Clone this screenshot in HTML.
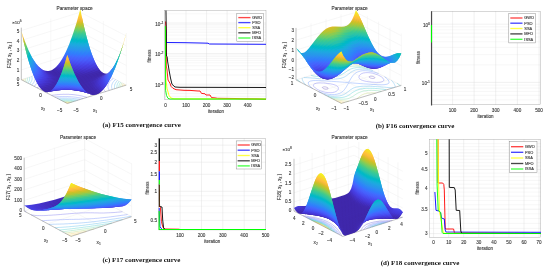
<!DOCTYPE html>
<html><head><meta charset="utf-8"><title>Convergence curves</title>
<style>
html,body{margin:0;padding:0;background:#fff}
svg{display:block;font-family:"Liberation Sans",sans-serif}
text{stroke:#3a3a3a;stroke-width:.12px}
.cap{stroke:none}

.cap{font-family:"Liberation Serif",serif;font-weight:bold;font-size:7px;fill:#111}
</style></head><body>
<svg width="550" height="273" viewBox="0 0 550 273">
<rect width="550" height="273" fill="#fff"/>
<defs><linearGradient id="P"><stop offset="0" stop-color="#3e26a8"/><stop offset="0.02" stop-color="#402ab4"/><stop offset="0.03" stop-color="#422ec0"/><stop offset="0.05" stop-color="#4332cb"/><stop offset="0.06" stop-color="#4537d5"/><stop offset="0.08" stop-color="#463cde"/><stop offset="0.1" stop-color="#4741e5"/><stop offset="0.11" stop-color="#4747eb"/><stop offset="0.13" stop-color="#484df0"/><stop offset="0.14" stop-color="#4852f4"/><stop offset="0.16" stop-color="#4758f8"/><stop offset="0.17" stop-color="#465efb"/><stop offset="0.19" stop-color="#4563fd"/><stop offset="0.21" stop-color="#4269fe"/><stop offset="0.22" stop-color="#3e6fff"/><stop offset="0.24" stop-color="#3875fe"/><stop offset="0.25" stop-color="#327cfc"/><stop offset="0.27" stop-color="#2f81fa"/><stop offset="0.29" stop-color="#2e87f7"/><stop offset="0.3" stop-color="#2d8cf3"/><stop offset="0.32" stop-color="#2b91ef"/><stop offset="0.33" stop-color="#2797eb"/><stop offset="0.35" stop-color="#259be8"/><stop offset="0.37" stop-color="#23a0e5"/><stop offset="0.38" stop-color="#20a5e3"/><stop offset="0.4" stop-color="#1ca9df"/><stop offset="0.41" stop-color="#18addb"/><stop offset="0.43" stop-color="#12b1d6"/><stop offset="0.44" stop-color="#08b5d0"/><stop offset="0.46" stop-color="#01b8ca"/><stop offset="0.48" stop-color="#02bac3"/><stop offset="0.49" stop-color="#0bbdbd"/><stop offset="0.51" stop-color="#19bfb6"/><stop offset="0.52" stop-color="#24c1ae"/><stop offset="0.54" stop-color="#2cc4a7"/><stop offset="0.56" stop-color="#31c69f"/><stop offset="0.57" stop-color="#37c897"/><stop offset="0.59" stop-color="#3fca8e"/><stop offset="0.6" stop-color="#4acb84"/><stop offset="0.62" stop-color="#57cc7a"/><stop offset="0.63" stop-color="#64cd6f"/><stop offset="0.65" stop-color="#72cd64"/><stop offset="0.67" stop-color="#81cc59"/><stop offset="0.68" stop-color="#8fcb4e"/><stop offset="0.7" stop-color="#9dc943"/><stop offset="0.71" stop-color="#abc739"/><stop offset="0.73" stop-color="#b9c431"/><stop offset="0.75" stop-color="#c5c22a"/><stop offset="0.76" stop-color="#d1bf27"/><stop offset="0.78" stop-color="#dcbd29"/><stop offset="0.79" stop-color="#e6bb2d"/><stop offset="0.81" stop-color="#f0ba36"/><stop offset="0.83" stop-color="#f8ba3d"/><stop offset="0.84" stop-color="#febe3c"/><stop offset="0.86" stop-color="#fec338"/><stop offset="0.87" stop-color="#fec934"/><stop offset="0.89" stop-color="#fccf30"/><stop offset="0.9" stop-color="#fad62d"/><stop offset="0.92" stop-color="#f7dc2a"/><stop offset="0.94" stop-color="#f5e327"/><stop offset="0.95" stop-color="#f5e924"/><stop offset="0.97" stop-color="#f6ef20"/><stop offset="0.98" stop-color="#f7f51b"/><stop offset="1" stop-color="#f9fb15"/></linearGradient><filter id="bl" filterUnits="userSpaceOnUse" x="0" y="0" width="550" height="273"><feGaussianBlur stdDeviation="0.3"/></filter></defs>
<line x1="67.3" y1="103.5" x2="21.3" y2="79.7" stroke="#e8e8e8" stroke-width="0.35"/>
<line x1="21.3" y1="79.7" x2="21.3" y2="27.7" stroke="#e8e8e8" stroke-width="0.35"/>
<line x1="96.8" y1="94.3" x2="50.8" y2="70.5" stroke="#e8e8e8" stroke-width="0.35"/>
<line x1="50.8" y1="70.5" x2="50.8" y2="18.5" stroke="#e8e8e8" stroke-width="0.35"/>
<line x1="126.3" y1="85.1" x2="80.3" y2="61.3" stroke="#e8e8e8" stroke-width="0.35"/>
<line x1="80.3" y1="61.3" x2="80.3" y2="9.3" stroke="#e8e8e8" stroke-width="0.35"/>
<line x1="67.3" y1="103.5" x2="126.3" y2="85.1" stroke="#e8e8e8" stroke-width="0.35"/>
<line x1="126.3" y1="85.1" x2="126.3" y2="33.1" stroke="#e8e8e8" stroke-width="0.35"/>
<line x1="44.3" y1="91.6" x2="103.3" y2="73.2" stroke="#e8e8e8" stroke-width="0.35"/>
<line x1="103.3" y1="73.2" x2="103.3" y2="21.2" stroke="#e8e8e8" stroke-width="0.35"/>
<line x1="21.3" y1="79.7" x2="80.3" y2="61.3" stroke="#e8e8e8" stroke-width="0.35"/>
<line x1="80.3" y1="61.3" x2="80.3" y2="9.3" stroke="#e8e8e8" stroke-width="0.35"/>
<line x1="21.3" y1="79.7" x2="80.3" y2="61.3" stroke="#e8e8e8" stroke-width="0.35"/>
<line x1="80.3" y1="61.3" x2="126.3" y2="85.1" stroke="#e8e8e8" stroke-width="0.35"/>
<line x1="21.3" y1="69.88" x2="80.3" y2="51.48" stroke="#e8e8e8" stroke-width="0.35"/>
<line x1="80.3" y1="51.48" x2="126.3" y2="75.28" stroke="#e8e8e8" stroke-width="0.35"/>
<line x1="21.3" y1="60.07" x2="80.3" y2="41.67" stroke="#e8e8e8" stroke-width="0.35"/>
<line x1="80.3" y1="41.67" x2="126.3" y2="65.47" stroke="#e8e8e8" stroke-width="0.35"/>
<line x1="21.3" y1="50.25" x2="80.3" y2="31.85" stroke="#e8e8e8" stroke-width="0.35"/>
<line x1="80.3" y1="31.85" x2="126.3" y2="55.65" stroke="#e8e8e8" stroke-width="0.35"/>
<line x1="21.3" y1="40.43" x2="80.3" y2="22.03" stroke="#e8e8e8" stroke-width="0.35"/>
<line x1="80.3" y1="22.03" x2="126.3" y2="45.83" stroke="#e8e8e8" stroke-width="0.35"/>
<line x1="21.3" y1="30.61" x2="80.3" y2="12.21" stroke="#e8e8e8" stroke-width="0.35"/>
<line x1="80.3" y1="12.21" x2="126.3" y2="36.01" stroke="#e8e8e8" stroke-width="0.35"/>
<g fill="none" stroke-width="0.4" opacity="0.75">
<polyline points="87,97.3 86.5,97.2 85.4,96.9 84.9,96.8 83.7,96.5 83.1,96.3 82.2,96.1 81.4,95.9 80.8,95.8 79.6,95.6 78.9,95.4 78.2,95.3 77.2,95.2 76.2,95 75.5,94.9 74.8,94.8 74,94.7 73,94.6 72,94.5 71.1,94.5 70.2,94.4 69.3,94.4 68.5,94.3 67.6,94.3 66.8,94.3 66,94.3 65.2,94.3 64.2,94.3 63.1,94.3 62.2,94.4 61.5,94.4 60.7,94.4 59.4,94.5 58.7,94.6 58,94.6 56.7,94.8 56.1,94.8 54.9,95 54.1,95.1 53.2,95.2 52.2,95.3 51.6,95.4" stroke="#4741e5"/>
<polyline points="110.4,76.9 109.7,77.2 109.3,77.5 108.6,77.9 108.2,78.2 107.7,78.5 107.2,78.9 106.8,79.1 106.2,79.6 105.9,79.8 105.5,80.1 105,80.6 104.7,80.9 104.5,81.1 104.1,81.5 103.8,82 103.5,82.3 103.3,82.6 103.1,82.9 103,83.2 102.8,83.5 102.7,83.9 102.6,84.2 102.5,84.6 102.4,85 102.4,85.4 102.4,85.8 102.4,86.2 102.5,86.5 102.5,86.8 102.6,87.1 102.8,87.6 102.9,87.9 103.1,88.2 103.3,88.7 103.5,89 103.7,89.3 104,89.8 104.2,90.1 104.6,90.6 104.8,90.8 105.2,91.3 105.5,91.6 105.5,91.6" stroke="#4741e5"/>
<polyline points="37,87.8 37.7,87.4 38.1,87.1 38.8,86.7 39.1,86.5 39.7,86 40.1,85.7 40.4,85.5 41,85 41.3,84.7 41.6,84.5 42,84 42.4,83.7 42.6,83.4 42.8,83.1 43.1,82.8 43.3,82.4 43.5,82 43.7,81.6 43.8,81.3 44,80.9 44,80.6 44.1,80.2 44.1,79.9 44.1,79.6 44.1,79.3 44.1,78.9 44,78.4 43.9,78 43.8,77.8 43.7,77.4 43.5,76.9 43.3,76.6 43.2,76.3 42.9,75.8 42.7,75.6 42.4,75.1 42.1,74.8 41.8,74.4 41.5,74 41.2,73.7 41.1,73.5" stroke="#4741e5"/>
<polyline points="59.5,67.8 60,67.9 61.1,68.2 61.7,68.4 62.8,68.7 63.4,68.8 64.6,69.1 65.2,69.2 65.9,69.4 67,69.6 67.7,69.7 68.4,69.8 69.5,70 70.3,70.1 71.1,70.2 71.8,70.3 72.7,70.4 73.7,70.5 74.7,70.6 75.6,70.7 76.5,70.7 77.4,70.8 78.2,70.8 79,70.8 79.9,70.9 80.7,70.9 81.4,70.9 82.3,70.8 83.4,70.8 84.4,70.8 85.1,70.7 85.9,70.7 87.1,70.6 87.9,70.5 88.6,70.5 89.9,70.4 90.6,70.3 91.6,70.2 92.5,70.1 93.3,70 94.4,69.8 95.1,69.7 96.2,69.5 96.2,69.5" stroke="#4741e5"/>
<polyline points="83.2,98.5 82.7,98.4 82.6,98.4 82,98.3 81.4,98.2 81.4,98.2 80.8,98 80.2,97.9 80.1,97.9 79.5,97.8 79,97.7 78.8,97.7 78.1,97.6 77.8,97.5 77.5,97.5 76.8,97.4 76.7,97.4 76.1,97.3 75.6,97.2 75.4,97.2 74.6,97.1 74.6,97.1 73.9,97 73.6,97 73.1,96.9 72.6,96.9 72.3,96.8 71.7,96.8 71.5,96.8 70.7,96.7 70.7,96.7 69.9,96.7 69.8,96.7 69,96.6 68.9,96.6 68.1,96.6 68.1,96.6 67.2,96.5 67.2,96.5 66.4,96.5 66.3,96.5 65.6,96.5 65.3,96.5 64.8,96.5 64.3,96.5 64,96.5 63.3,96.5 63.2,96.5 62.5,96.5 62.2,96.5 61.7,96.5 61.1,96.5 61,96.5 60.2,96.6 59.9,96.6 59.5,96.6 58.8,96.7 58.7,96.7 58.1,96.7 57.4,96.7 57.4,96.7 56.7,96.8 56,96.8 56,96.8 55.3,96.9 54.7,97 54.7,97" stroke="#4563fc"/>
<polyline points="113.3,78.4 113,78.6 112.6,78.9 112.6,78.9 112.3,79.1 112,79.3 112,79.4 111.7,79.6 111.4,79.9 111.4,79.9 111.1,80.1 110.9,80.4 110.9,80.4 110.6,80.6 110.4,80.8 110.3,80.9 110.1,81.2 110,81.3 109.8,81.5 109.6,81.7 109.6,81.8 109.4,82.1 109.3,82.1 109.2,82.4 109,82.5 109,82.7 108.8,82.9 108.8,83 108.6,83.3 108.6,83.3 108.5,83.6 108.4,83.7 108.3,84 108.3,84 108.2,84.3 108.2,84.4 108.1,84.7 108.1,84.7 108,85 108,85.1 108,85.4 108,85.4 107.9,85.7 107.9,85.8 107.9,86.1 107.9,86.2 107.9,86.4 107.9,86.6 107.9,86.7 108,87 108,87 108,87.3 108.1,87.5 108.1,87.6 108.2,87.9 108.2,88 108.2,88.2 108.3,88.4 108.3,88.5 108.5,88.8 108.5,89 108.6,89 108.7,89.3 108.8,89.5 108.8,89.6 109,89.9 109.1,90.1 109.1,90.1 109.3,90.4 109.3,90.4" stroke="#4563fc"/>
<polyline points="33.9,86.2 34.3,86 34.6,85.7 34.6,85.7 34.9,85.5 35.2,85.2 35.2,85.2 35.4,85 35.7,84.8 35.7,84.7 36,84.4 36.1,84.3 36.2,84.2 36.5,83.9 36.5,83.8 36.7,83.6 36.9,83.4 37,83.3 37.2,83 37.2,83 37.4,82.7 37.5,82.6 37.6,82.4 37.7,82.2 37.8,82.1 37.9,81.8 37.9,81.8 38.1,81.5 38.1,81.5 38.2,81.1 38.2,81.1 38.4,80.8 38.4,80.7 38.5,80.4 38.5,80.4 38.5,80.1 38.5,80 38.6,79.7 38.6,79.7 38.6,79.4 38.6,79.3 38.6,79.1 38.6,78.9 38.6,78.7 38.6,78.5 38.6,78.4 38.6,78.1 38.5,78 38.5,77.8 38.5,77.6 38.4,77.5 38.4,77.2 38.3,77.1 38.3,76.9 38.2,76.7 38.2,76.6 38.1,76.4 38,76.1 38,76.1 37.8,75.8 37.7,75.5 37.7,75.5 37.5,75.3 37.4,75 37.4,75 37.2,74.7 37.2,74.7" stroke="#4563fc"/>
<polyline points="63.3,66.6 63.9,66.7 64,66.8 64.5,66.9 65.2,67 65.3,67 65.8,67.1 66.4,67.2 66.6,67.2 67.1,67.3 67.7,67.4 67.8,67.5 68.4,67.6 68.9,67.6 69.1,67.7 69.8,67.8 70,67.8 70.5,67.9 71.1,67.9 71.2,68 71.9,68 72.1,68.1 72.7,68.1 73.1,68.2 73.4,68.2 74.1,68.3 74.2,68.3 75,68.4 75,68.4 75.8,68.4 76,68.4 76.7,68.5 76.9,68.5 77.5,68.5 77.7,68.5 78.4,68.6 78.6,68.6 79.3,68.6 79.4,68.6 80.3,68.6 80.3,68.6 81.1,68.6 81.2,68.6 81.9,68.6 82.2,68.6 82.7,68.6 83.3,68.6 83.4,68.6 84.2,68.6 84.4,68.6 85,68.6 85.5,68.6 85.7,68.6 86.4,68.5 86.6,68.5 87.2,68.5 87.9,68.5 87.9,68.5 88.6,68.4 89.2,68.4 89.3,68.4 90,68.3 90.5,68.3 90.6,68.3 91.3,68.2 91.9,68.2 92,68.2 92.6,68.1 93.3,68 93.3,68" stroke="#4563fc"/>
<polyline points="80.3,99.5 79.8,99.4 79.6,99.3 79,99.2 78.6,99.2 78.3,99.1 77.6,99 77.5,99 76.9,98.9 76.4,98.8 76.2,98.8 75.5,98.7 75.4,98.7 74.8,98.6 74.3,98.6 74,98.5 73.3,98.5 73.3,98.5 72.5,98.4 72.4,98.4 71.7,98.3 71.4,98.3 70.9,98.3 70.5,98.2 70.1,98.2 69.6,98.2 69.2,98.1 68.7,98.1 68.3,98.1 67.8,98.1 67.4,98.1 67,98 66.5,98 66.1,98 65.6,98 65.3,98 64.6,98 64.5,98 63.7,98 63.6,98 62.9,98 62.6,98 62.1,98 61.5,98 61.4,98 60.6,98 60.4,98 59.9,98 59.3,98.1 59.1,98.1 58.4,98.1 58.1,98.1 57.7,98.1 57,98.2 57,98.2" stroke="#2e86f7"/>
<polyline points="115.5,79.5 115.5,79.6 115.2,79.8 115,80 115,80.1 114.7,80.3 114.5,80.5 114.4,80.6 114.2,80.9 114.1,81 113.9,81.1 113.7,81.4 113.7,81.4 113.4,81.7 113.4,81.8 113.2,82 113.1,82.2 113,82.3 112.8,82.6 112.8,82.6 112.6,82.9 112.6,83 112.5,83.2 112.4,83.4 112.3,83.6 112.2,83.8 112.1,83.9 112,84.1 112,84.2 111.9,84.5 111.9,84.6 111.8,84.8 111.8,84.9 111.7,85.2 111.7,85.3 111.7,85.5 111.7,85.7 111.6,85.9 111.6,86.1 111.6,86.2 111.6,86.5 111.6,86.5 111.6,86.8 111.6,86.9 111.6,87.1 111.7,87.3 111.7,87.4 111.7,87.7 111.7,87.8 111.8,88 111.8,88.2 111.9,88.3 111.9,88.6 112,88.7 112,88.9 112.1,89.2 112.1,89.2 112.2,89.5 112.2,89.5" stroke="#2e86f7"/>
<polyline points="31.6,85 31.9,84.8 32,84.6 32.2,84.5 32.4,84.2 32.5,84.2 32.7,83.9 32.8,83.7 32.9,83.7 33.1,83.4 33.2,83.3 33.3,83.1 33.5,82.9 33.6,82.8 33.7,82.5 33.7,82.5 33.9,82.2 34,82.1 34.1,81.8 34.2,81.7 34.3,81.5 34.3,81.4 34.4,81.2 34.5,81 34.5,80.8 34.6,80.6 34.7,80.5 34.7,80.3 34.8,80.1 34.8,79.9 34.8,79.8 34.9,79.6 34.9,79.4 34.9,79.3 34.9,79 34.9,78.9 34.9,78.6 34.9,78.6 34.9,78.3 34.9,78.2 34.9,78 34.9,77.8 34.9,77.7 34.8,77.4 34.8,77.3 34.8,77.1 34.7,76.8 34.7,76.8 34.6,76.5 34.6,76.4 34.5,76.2 34.4,75.9 34.4,75.9 34.3,75.6 34.3,75.6" stroke="#2e86f7"/>
<polyline points="66.2,65.7 66.9,65.8 66.9,65.8 67.6,65.9 68.1,66 68.2,66 68.9,66.1 69.2,66.2 69.6,66.2 70.3,66.3 70.3,66.3 71,66.4 71.3,66.4 71.8,66.5 72.4,66.6 72.5,66.6 73.3,66.7 73.3,66.7 74.1,66.7 74.3,66.8 74.8,66.8 75.3,66.8 75.7,66.9 76.2,66.9 76.5,66.9 77.1,67 77.3,67 78,67 78.2,67 78.8,67.1 79.1,67.1 79.7,67.1 80,67.1 80.5,67.1 80.9,67.1 81.4,67.1 81.9,67.2 82.2,67.2 82.9,67.2 83,67.2 83.7,67.2 83.9,67.2 84.5,67.2 85,67.1 85.3,67.1 86,67.1 86.1,67.1 86.8,67.1 87.3,67.1 87.5,67.1 88.2,67 88.4,67 88.9,67 89.7,67 89.7,67 90.4,66.9 91,66.9 91.1,66.9 91.1,66.9" stroke="#2e86f7"/>
<polyline points="77.8,100.2 77.4,100.2 77.1,100.1 76.4,100 76.3,100 75.7,99.9 75.3,99.9 75,99.8 74.3,99.8 74.2,99.8 73.5,99.7 73.3,99.7 72.7,99.6 72.3,99.6 71.9,99.5 71.3,99.5 71.1,99.5 70.4,99.4 70.3,99.4 69.5,99.3 69.4,99.3 68.6,99.3 68.6,99.3 67.7,99.2 67.7,99.2 66.9,99.2 66.8,99.2 66,99.2 65.9,99.2 65.2,99.1 65,99.1 64.4,99.1 64,99.1 63.6,99.1 63,99.1 62.8,99.1 62,99.1 62,99.1 61.2,99.1 60.9,99.1 60.5,99.1 59.8,99.2 59.7,99.2 59,99.2 59,99.2" stroke="#21a4e3"/>
<polyline points="117.4,80.5 117.4,80.6 117.2,80.8 117,81 116.9,81.1 116.7,81.3 116.6,81.4 116.5,81.6 116.3,81.9 116.2,81.9 116,82.2 116,82.3 115.8,82.5 115.7,82.7 115.6,82.8 115.5,83.1 115.4,83.2 115.3,83.4 115.3,83.5 115.1,83.8 115.1,83.8 115,84.1 115,84.2 114.9,84.5 114.8,84.5 114.7,84.8 114.7,84.9 114.7,85.2 114.6,85.2 114.6,85.6 114.6,85.6 114.5,85.9 114.5,85.9 114.5,86.2 114.5,86.3 114.5,86.6 114.5,86.7 114.5,86.9 114.5,87.1 114.5,87.2 114.5,87.5 114.5,87.6 114.5,87.8 114.6,88 114.6,88.1 114.6,88.4 114.7,88.5 114.7,88.7 114.7,88.7" stroke="#21a4e3"/>
<polyline points="29.6,84 29.9,83.7 29.9,83.7 30.1,83.4 30.3,83.3 30.3,83.2 30.5,82.9 30.5,82.9 30.7,82.6 30.8,82.5 30.9,82.2 31,82.1 31.1,81.9 31.2,81.7 31.3,81.6 31.4,81.3 31.4,81.3 31.6,80.9 31.6,80.9 31.7,80.6 31.7,80.6 31.8,80.2 31.8,80.2 31.9,79.9 31.9,79.9 32,79.6 32,79.5 32,79.2 32,79.1 32,78.9 32.1,78.7 32.1,78.6 32.1,78.3 32.1,78.2 32.1,77.9 32.1,77.9 32,77.6 32,77.5 32,77.3 32,77.1 31.9,77 31.9,76.7 31.9,76.6 31.8,76.4 31.8,76.4" stroke="#21a4e3"/>
<polyline points="68.7,64.9 69.3,65 69.4,65 70.1,65.1 70.4,65.1 70.8,65.2 71.4,65.3 71.6,65.3 72.3,65.4 72.4,65.4 73.1,65.5 73.4,65.5 73.8,65.5 74.4,65.6 74.6,65.6 75.4,65.7 75.4,65.7 76.3,65.7 76.3,65.7 77.1,65.8 77.2,65.8 77.9,65.9 78.1,65.9 78.8,65.9 78.9,65.9 79.7,65.9 79.8,65.9 80.6,66 80.6,66 81.5,66 81.6,66 82.3,66 82.5,66 83.1,66 83.5,66 83.9,66 84.6,66 84.7,66 85.4,66 85.6,66 86.2,66 86.7,66 87,66 87.7,65.9 87.8,65.9 88.4,65.9 89,65.9 89.2,65.9 89.2,65.9" stroke="#21a4e3"/>
<polyline points="75.6,100.9 74.9,100.8 74.7,100.8 74.2,100.7 73.7,100.7 73.4,100.6 72.7,100.6 72.6,100.6 71.8,100.5 71.7,100.5 71,100.4 70.8,100.4 70.2,100.4 69.9,100.3 69.4,100.3 69,100.3 68.5,100.3 68.1,100.2 67.7,100.2 67.2,100.2 66.8,100.2 66.3,100.1 65.9,100.1 65.5,100.1 64.9,100.1 64.7,100.1 64,100.1 63.8,100.1 63,100.1 63,100.1 62.2,100.1 62,100.1 61.5,100.1 61,100.1 60.7,100.1" stroke="#01bac5"/>
<polyline points="119.1,81.4 118.9,81.7 118.8,81.7 118.7,82 118.5,82.1 118.4,82.3 118.3,82.5 118.2,82.6 118.1,82.9 118,82.9 117.9,83.2 117.8,83.3 117.7,83.5 117.6,83.7 117.5,83.8 117.5,84 117.4,84.2 117.3,84.4 117.3,84.5 117.2,84.8 117.2,84.9 117.1,85.1 117.1,85.2 117,85.5 117,85.6 116.9,85.8 116.9,86 116.9,86.1 116.9,86.3 116.9,86.5 116.8,86.7 116.8,86.8 116.8,87.1 116.8,87.1 116.8,87.4 116.8,87.5 116.9,87.7 116.9,88 116.9,88" stroke="#01bac5"/>
<polyline points="27.9,83.1 28,83 28.1,82.8 28.3,82.6 28.3,82.5 28.5,82.2 28.5,82.2 28.7,81.9 28.7,81.8 28.9,81.6 28.9,81.5 29,81.2 29.1,81.1 29.2,80.9 29.2,80.7 29.3,80.6 29.3,80.4 29.4,80.2 29.4,80 29.5,79.9 29.5,79.7 29.6,79.5 29.6,79.3 29.6,79.1 29.6,79 29.7,78.7 29.7,78.7 29.7,78.4 29.7,78.3 29.7,78 29.7,77.9 29.7,77.7 29.7,77.5 29.7,77.4 29.6,77.1" stroke="#01bac5"/>
<polyline points="70.9,64.2 71,64.2 71.6,64.3 72,64.4 72.4,64.4 73,64.5 73.1,64.5 73.9,64.6 74,64.6 74.7,64.6 75,64.7 75.5,64.7 75.9,64.7 76.3,64.8 76.8,64.8 77.1,64.8 77.7,64.9 78,64.9 78.6,64.9 78.9,64.9 79.5,65 79.8,65 80.3,65 80.7,65 81.2,65 81.6,65 82,65 82.6,65 82.8,65.1 83.5,65.1 83.6,65.1 84.4,65.1 84.5,65.1 85.2,65.1 85.6,65.1 86,65.1 86.7,65 86.7,65 87.5,65" stroke="#01bac5"/>
<polyline points="73.7,101.5 72.9,101.4 72.7,101.4 72.1,101.4 71.8,101.3 71.3,101.3 70.8,101.3 70.5,101.2 69.9,101.2 69.7,101.2 69,101.1 68.8,101.1 68.1,101.1 68,101.1 67.2,101 67.1,101 66.4,101 66.2,101 65.5,101 65.3,100.9 64.7,100.9 64.4,100.9 63.9,100.9 63.4,100.9 63.1,100.9 62.4,100.9 62.3,100.9" stroke="#35c79a"/>
<polyline points="120.6,82.2 120.4,82.5 120.4,82.5 120.2,82.8 120.1,82.9 120,83.1 119.9,83.3 119.9,83.4 119.7,83.7 119.7,83.7 119.6,84 119.5,84.1 119.4,84.4 119.4,84.4 119.3,84.7 119.3,84.7 119.2,85.1 119.2,85.1 119.1,85.4 119.1,85.4 119,85.8 119,85.8 118.9,86.1 118.9,86.2 118.9,86.5 118.9,86.6 118.9,86.8 118.9,87 118.9,87.1 118.9,87.4 118.9,87.4" stroke="#35c79a"/>
<polyline points="26.4,82.3 26.4,82.2 26.5,82 26.6,81.9 26.7,81.7 26.8,81.5 26.9,81.4 27,81.1 27,81 27.1,80.7 27.1,80.7 27.3,80.4 27.3,80.3 27.4,80 27.4,80 27.5,79.7 27.5,79.6 27.5,79.3 27.5,79.3 27.6,79 27.6,78.9 27.6,78.7 27.6,78.5 27.7,78.4 27.7,78.1 27.7,78 27.7,77.7" stroke="#35c79a"/>
<polyline points="72.9,63.6 73,63.6 73.6,63.7 74,63.7 74.4,63.8 74.9,63.8 75.2,63.8 75.9,63.9 76,63.9 76.8,64 76.8,64 77.7,64 77.7,64 78.5,64.1 78.6,64.1 79.4,64.1 79.4,64.1 80.3,64.2 80.3,64.2 81.1,64.2 81.2,64.2 82,64.2 82.2,64.2 82.8,64.2 83.1,64.2 83.6,64.2 84.1,64.2 84.4,64.2 85.1,64.2 85.2,64.2 86,64.2" stroke="#35c79a"/>
<polyline points="71.9,102.1 71.6,102.1 71.1,102 70.7,102 70.2,101.9 69.7,101.9 69.4,101.9 68.8,101.8 68.6,101.8 67.9,101.8 67.7,101.8 67.1,101.7 66.8,101.7 66.2,101.7 65.9,101.7 65.4,101.7 65,101.7 64.5,101.7 64.1,101.6 63.7,101.6" stroke="#7bcc5d"/>
<polyline points="122,82.9 121.9,83 121.8,83.2 121.7,83.3 121.6,83.5 121.5,83.7 121.5,83.8 121.4,84.1 121.3,84.2 121.2,84.5 121.2,84.5 121.1,84.8 121.1,84.8 121,85.2 121,85.2 120.9,85.5 120.9,85.6 120.8,85.9 120.8,85.9 120.8,86.2 120.7,86.3 120.7,86.5 120.7,86.7 120.7,86.9" stroke="#7bcc5d"/>
<polyline points="24.9,81.6 25,81.4 25.1,81.2 25.2,81 25.2,80.9 25.3,80.7 25.4,80.6 25.4,80.3 25.5,80.2 25.6,80 25.6,79.9 25.6,79.6 25.7,79.5 25.7,79.3 25.7,79.1 25.8,78.9 25.8,78.8 25.8,78.6 25.8,78.4 25.9,78.3" stroke="#7bcc5d"/>
<polyline points="74.7,63.1 75.1,63.1 75.5,63.1 76,63.2 76.3,63.2 76.9,63.2 77.1,63.2 77.8,63.3 78,63.3 78.7,63.3 78.8,63.3 79.6,63.4 79.7,63.4 80.5,63.4 80.6,63.4 81.3,63.5 81.5,63.5 82.2,63.5 82.4,63.5 83,63.5 83.4,63.5 83.8,63.5 84.4,63.5 84.6,63.5" stroke="#7bcc5d"/>
<polyline points="70.2,102.6 69.4,102.6 69.3,102.5 68.5,102.5 68.5,102.5 67.6,102.4 67.6,102.4 66.8,102.4 66.7,102.4 65.9,102.4 65.9,102.4 65,102.3" stroke="#ccc028"/>
<polyline points="123.3,83.5 123.1,83.9 123.1,83.9 123,84.2 123,84.2 122.8,84.5 122.8,84.6 122.7,84.9 122.7,85 122.6,85.2 122.6,85.3 122.5,85.6 122.5,85.7 122.4,86 122.4,86 122.4,86.3 122.4,86.3" stroke="#ccc028"/>
<polyline points="23.6,80.9 23.7,80.5 23.7,80.5 23.8,80.2 23.8,80.2 23.9,79.8 23.9,79.8 24,79.5 24,79.5 24.1,79.1 24.1,79.1 24.2,78.8" stroke="#ccc028"/>
<polyline points="76.4,62.5 77.2,62.6 77.3,62.6 78,62.6 78.2,62.6 78.9,62.7 79.1,62.7 79.8,62.7 79.9,62.7 80.7,62.8 80.8,62.8 81.6,62.8 81.6,62.8 82.5,62.8 82.5,62.8 83.3,62.9" stroke="#ccc028"/>
<polyline points="68.6,103.1 68,103.1 67.7,103 67.2,103 66.9,103 66.3,103" stroke="#fec13a"/>
<polyline points="124.5,84.2 124.4,84.4 124.4,84.5 124.3,84.8 124.2,84.8 124.1,85.1 124.1,85.2 124,85.5 124,85.5 123.9,85.8" stroke="#fec13a"/>
<polyline points="22.3,80.2 22.4,80 22.4,79.9 22.5,79.6 22.5,79.5 22.6,79.3" stroke="#fec13a"/>
<polyline points="78,62 78.6,62.1 78.8,62.1 79.5,62.1 79.7,62.1 80.4,62.2 80.6,62.2 81.3,62.2 81.5,62.2 82.1,62.2" stroke="#fec13a"/>
<polyline points="125.6,84.8 125.6,85 125.5,85.1 125.4,85.4" stroke="#f5e626"/>
<polyline points="79.5,61.6 80.1,61.6 80.3,61.6 80.9,61.6" stroke="#f5e626"/>
</g>
<line x1="67.3" y1="103.5" x2="126.3" y2="85.1" stroke="#6a6a6a" stroke-width="0.4"/>
<line x1="67.3" y1="103.5" x2="21.3" y2="79.7" stroke="#6a6a6a" stroke-width="0.4"/>
<line x1="21.3" y1="79.7" x2="21.3" y2="27.7" stroke="#6a6a6a" stroke-width="0.4"/>
<defs>
<linearGradient id="a29" href="#P" gradientUnits="userSpaceOnUse" x1="24.72" y1="79.27" x2="9.94" y2="31.88"/>
<linearGradient id="a28" href="#P" gradientUnits="userSpaceOnUse" x1="25.08" y1="80.43" x2="10.3" y2="33.04"/>
<linearGradient id="a27" href="#P" gradientUnits="userSpaceOnUse" x1="25.44" y1="81.59" x2="10.66" y2="34.2"/>
<linearGradient id="a26" href="#P" gradientUnits="userSpaceOnUse" x1="25.81" y1="82.75" x2="11.03" y2="35.35"/>
<linearGradient id="a25" href="#P" gradientUnits="userSpaceOnUse" x1="26.17" y1="83.9" x2="11.39" y2="36.51"/>
<linearGradient id="a24" href="#P" gradientUnits="userSpaceOnUse" x1="26.53" y1="85.06" x2="11.75" y2="37.67"/>
<linearGradient id="a23" href="#P" gradientUnits="userSpaceOnUse" x1="26.89" y1="86.22" x2="12.11" y2="38.83"/>
<linearGradient id="a22" href="#P" gradientUnits="userSpaceOnUse" x1="27.25" y1="87.38" x2="12.47" y2="39.99"/>
<linearGradient id="a21" href="#P" gradientUnits="userSpaceOnUse" x1="27.61" y1="88.54" x2="12.83" y2="41.15"/>
<linearGradient id="a20" href="#P" gradientUnits="userSpaceOnUse" x1="27.97" y1="89.7" x2="13.19" y2="42.31"/>
<linearGradient id="a19" href="#P" gradientUnits="userSpaceOnUse" x1="28.34" y1="90.86" x2="13.56" y2="43.47"/>
<linearGradient id="a18" href="#P" gradientUnits="userSpaceOnUse" x1="28.7" y1="92.02" x2="13.92" y2="44.63"/>
<linearGradient id="a17" href="#P" gradientUnits="userSpaceOnUse" x1="29.06" y1="93.17" x2="14.28" y2="45.78"/>
<linearGradient id="a16" href="#P" gradientUnits="userSpaceOnUse" x1="29.42" y1="94.33" x2="14.64" y2="46.94"/>
<linearGradient id="a15" href="#P" gradientUnits="userSpaceOnUse" x1="29.78" y1="95.49" x2="15" y2="48.1"/>
<linearGradient id="a14" href="#P" gradientUnits="userSpaceOnUse" x1="30.14" y1="96.65" x2="15.36" y2="49.26"/>
<linearGradient id="a13" href="#P" gradientUnits="userSpaceOnUse" x1="30.5" y1="97.81" x2="15.72" y2="50.42"/>
<linearGradient id="a12" href="#P" gradientUnits="userSpaceOnUse" x1="30.86" y1="98.97" x2="16.09" y2="51.58"/>
<linearGradient id="a11" href="#P" gradientUnits="userSpaceOnUse" x1="31.23" y1="100.13" x2="16.45" y2="52.74"/>
<linearGradient id="a10" href="#P" gradientUnits="userSpaceOnUse" x1="31.59" y1="101.29" x2="16.81" y2="53.9"/>
<linearGradient id="a9" href="#P" gradientUnits="userSpaceOnUse" x1="31.95" y1="102.45" x2="17.17" y2="55.05"/>
<linearGradient id="a8" href="#P" gradientUnits="userSpaceOnUse" x1="32.31" y1="103.6" x2="17.53" y2="56.21"/>
<linearGradient id="a7" href="#P" gradientUnits="userSpaceOnUse" x1="32.67" y1="104.76" x2="17.89" y2="57.37"/>
<linearGradient id="a6" href="#P" gradientUnits="userSpaceOnUse" x1="33.03" y1="105.92" x2="18.25" y2="58.53"/>
<linearGradient id="a5" href="#P" gradientUnits="userSpaceOnUse" x1="33.39" y1="107.08" x2="18.62" y2="59.69"/>
<linearGradient id="a4" href="#P" gradientUnits="userSpaceOnUse" x1="33.76" y1="108.24" x2="18.98" y2="60.85"/>
<linearGradient id="a3" href="#P" gradientUnits="userSpaceOnUse" x1="34.12" y1="109.4" x2="19.34" y2="62.01"/>
<linearGradient id="a2" href="#P" gradientUnits="userSpaceOnUse" x1="34.48" y1="110.56" x2="19.7" y2="63.17"/>
<linearGradient id="a1" href="#P" gradientUnits="userSpaceOnUse" x1="34.84" y1="111.72" x2="20.06" y2="64.32"/>
<linearGradient id="a0" href="#P" gradientUnits="userSpaceOnUse" x1="35.2" y1="112.87" x2="20.42" y2="65.48"/>
</defs>
<g>
<polygon fill="url(#a29)" points="24.4,44.9 27.6,51.7 31.6,58.5 35.5,64 37.5,66.3 39.4,68.2 41.4,69.8 43.4,71.1 45.3,72 46.7,72.4 48.6,72.8 50.6,72.8 51.9,72.6 53.9,72.1 57.1,70.4 59.1,69 61.1,67.2 63,65.1 65,62.7 68.3,57.9 72.2,50.9 75.5,44.1 79.4,34.6 83.4,23.9 80.3,9.3 76.4,23.3 73.1,33.5 69.2,44.2 65.9,51.8 63.9,55.7 61.9,59.2 60,62.2 58,64.8 56,66.9 54.1,68.6 52.1,69.9 50.8,70.5 48.8,71 47.5,71.1 45.6,70.8 43.6,70.2 42.3,69.5 40.3,68 38.3,66.2 36.4,63.9 34.4,61.1 32.4,57.9 30.5,54.3 28.5,50.2 24.6,40.6 21.3,31.3"/>
<polygon fill="url(#a28)" points="25.9,51.1 29.8,57.7 33.8,63.2 37,66.9 39,68.7 41,70.3 44.3,72.2 46.2,73 48.2,73.5 50.2,73.7 52.1,73.6 55.4,72.9 58.7,71.3 60.6,70 62.6,68.4 66.5,64.4 69.8,60.1 73.8,54 77,48 81,39.8 84.9,30.4 81.8,16.8 77.9,29.1 74,39.9 70.7,47.7 66.8,55.6 64.8,58.9 62.8,61.9 59.5,66 57.6,68 55.6,69.5 54.3,70.4 52.3,71.3 50.4,71.8 48.4,71.9 46.4,71.7 45.1,71.3 43.2,70.4 41.2,69.1 37.9,66.1 35.9,63.8 34,61.1 30,54.5 26.1,46.3 22.8,38.3"/>
<polygon fill="url(#a27)" points="27.4,56.9 30.7,61.4 34.6,65.9 38.6,69.5 42.5,72.2 45.8,73.7 47.8,74.2 49.7,74.5 53,74.5 55,74.2 56.9,73.7 60.2,72.2 64.1,69.6 68.1,66 72,61.4 75.3,56.9 79.2,50.6 82.5,44.6 86.4,36.5 83.4,23.9 79.4,34.6 75.5,44.1 72.2,50.9 68.3,57.9 65,62.7 63,65.1 61.1,67.2 59.1,69 57.1,70.4 53.9,72.1 51.9,72.6 50.6,72.8 48.6,72.8 46.7,72.4 45.3,72 43.4,71.1 41.4,69.8 39.4,68.2 37.5,66.3 35.5,64 31.6,58.5 27.6,51.7 24.4,44.9"/>
<polygon fill="url(#a26)" points="29,62.2 32.2,65.7 36.2,69.3 40.1,72 44,74 47.3,75.1 51.3,75.6 54.5,75.4 58.5,74.5 61.7,73.1 65.7,70.7 69.6,67.5 73.5,63.5 76.8,59.6 80.8,54.2 84,49.1 88,42.2 84.9,30.4 81,39.8 77,48 73.8,54 69.8,60.1 66.5,64.4 62.6,68.4 60.6,70 58.7,71.3 55.4,72.9 52.1,73.6 50.2,73.7 48.2,73.5 46.2,73 44.3,72.2 41,70.3 39,68.7 37,66.9 33.8,63.2 29.8,57.7 25.9,51.1"/>
<polygon fill="url(#a25)" points="30.5,67 34.4,70.2 38.4,72.8 42.3,74.7 45.6,75.7 48.9,76.4 52.8,76.6 56.7,76.1 60,75.3 63.3,73.9 67.2,71.8 70.5,69.5 74.4,66.1 78.4,62.1 82.3,57.5 85.6,53.2 89.5,47.4 86.4,36.5 82.5,44.6 79.2,50.6 75.3,56.9 72,61.4 68.1,66 64.1,69.6 60.2,72.2 56.9,73.7 55,74.2 53,74.5 49.7,74.5 47.8,74.2 45.8,73.7 42.5,72.2 38.6,69.5 34.6,65.9 30.7,61.4 27.4,56.9"/>
<polygon fill="url(#a24)" points="32,71.5 35.3,73.4 39.2,75.2 43.2,76.6 46.5,77.3 49.7,77.6 53.7,77.6 57.6,77.1 61.5,76 64.8,74.8 68.7,72.8 72.7,70.3 76.6,67.4 79.9,64.5 83.8,60.6 87.1,56.9 91,52.1 88,42.2 84,49.1 80.8,54.2 76.8,59.6 73.5,63.5 69.6,67.5 65.7,70.7 61.7,73.1 58.5,74.5 54.5,75.4 51.3,75.6 47.3,75.1 44,74 40.1,72 36.2,69.3 32.2,65.7 29,62.2"/>
<polygon fill="url(#a23)" points="33.6,75.5 36.8,76.7 40.8,77.9 44.7,78.6 48.6,78.9 51.9,78.9 55.9,78.5 59.1,77.9 63.1,76.8 66.3,75.6 70.3,73.8 74.2,71.7 77.5,69.5 81.4,66.6 85.4,63.4 88.6,60.3 92.6,56.3 89.5,47.4 85.6,53.2 82.3,57.5 78.4,62.1 74.4,66.1 70.5,69.5 67.2,71.8 63.3,73.9 60,75.3 56.7,76.1 52.8,76.6 48.9,76.4 45.6,75.7 42.3,74.7 38.4,72.8 34.4,70.2 30.5,67"/>
<polygon fill="url(#a22)" points="35.1,79.1 38.4,79.7 42.3,80.2 46.2,80.4 50.2,80.4 54.1,80 57.4,79.5 60.7,78.8 64.6,77.6 67.9,76.5 71.8,74.8 75.7,72.9 79.7,70.7 86.9,65.9 94.1,60.1 91,52.1 87.1,56.9 83.8,60.6 79.9,64.5 76.6,67.4 72.7,70.3 68.7,72.8 64.8,74.8 61.5,76 57.6,77.1 53.7,77.6 49.7,77.6 46.5,77.3 43.2,76.6 39.2,75.2 35.3,73.4 32,71.5"/>
<polygon fill="url(#a21)" points="36.6,82.3 43.8,82.3 51.7,81.7 58.9,80.4 66.1,78.4 73.3,75.8 81.2,72.2 88.4,68.1 95.6,63.5 92.6,56.3 88.6,60.3 85.4,63.4 81.4,66.6 77.5,69.5 74.2,71.7 70.3,73.8 66.3,75.6 63.1,76.8 59.1,77.9 55.9,78.5 51.9,78.9 48.6,78.9 44.7,78.6 40.8,77.9 36.8,76.7 33.6,75.5"/>
<polygon fill="url(#a20)" points="38.2,85 45.4,84.2 53.2,82.9 60.5,81.3 67.7,79.2 74.9,76.7 82.1,73.8 90,70.1 97.2,66.3 94.1,60.1 86.9,65.9 79.7,70.7 75.7,72.9 71.8,74.8 67.9,76.5 64.6,77.6 60.7,78.8 57.4,79.5 54.1,80 50.2,80.4 46.2,80.4 42.3,80.2 38.4,79.7 35.1,79.1"/>
<polygon fill="url(#a19)" points="39.7,87.3 46.9,85.9 54.8,84.1 62,82.2 69.2,80 76.4,77.6 84.3,74.8 91.5,71.9 98.7,68.7 95.6,63.5 88.4,68.1 81.2,72.2 73.3,75.8 66.1,78.4 58.9,80.4 51.7,81.7 43.8,82.3 36.6,82.3"/>
<polygon fill="url(#a18)" points="41.2,89.2 56.3,85.1 70.7,80.8 85.8,75.9 100.2,70.7 97.2,66.3 90,70.1 82.1,73.8 74.9,76.7 67.7,79.2 60.5,81.3 53.2,82.9 45.4,84.2 38.2,85"/>
<polygon fill="url(#a17)" points="42.8,90.6 72.3,81.6 101.8,72.2 98.7,68.7 91.5,71.9 84.3,74.8 76.4,77.6 69.2,80 62,82.2 54.8,84.1 46.9,85.9 39.7,87.3"/>
<polygon fill="url(#a16)" points="44.3,91.6 103.3,73.2 100.2,70.7 85.8,75.9 70.7,80.8 56.3,85.1 41.2,89.2"/>
<polygon fill="url(#a15)" points="45.8,92.2 75.3,83.2 104.8,73.8 101.8,72.2 72.3,81.6 42.8,90.6"/>
<polygon fill="url(#a14)" points="47.4,92.3 62.4,88.3 76.9,84 91.9,79 106.4,73.9 103.3,73.2 44.3,91.6"/>
<polygon fill="url(#a13)" points="48.9,92 56.1,90.6 64,88.8 71.2,86.9 78.4,84.8 85.6,82.4 92.8,79.8 100.7,76.6 107.9,73.5 104.8,73.8 75.3,83.2 45.8,92.2"/>
<polygon fill="url(#a12)" points="50.4,91.3 57.6,90.6 65.5,89.3 72.7,87.6 79.9,85.6 87.1,83.1 95,79.9 102.2,76.5 109.4,72.7 106.4,73.9 91.9,79 76.9,84 62.4,88.3 47.4,92.3"/>
<polygon fill="url(#a11)" points="52,90.2 59.2,90.3 67,89.6 74.3,88.3 81.5,86.4 88.7,83.7 96.5,80.1 103.8,76.1 111,71.4 107.9,73.5 100.7,76.6 92.8,79.8 85.6,82.4 78.4,84.8 71.2,86.9 64,88.8 56.1,90.6 48.9,92"/>
<polygon fill="url(#a10)" points="53.5,88.6 57.4,89.4 60.7,89.7 64.6,90 68.6,89.9 71.9,89.6 75.8,89 79.1,88.3 83,87.2 86.3,86 90.2,84.4 94.1,82.4 98.1,80.2 105.3,75.4 112.5,69.6 109.4,72.7 102.2,76.5 95,79.9 87.1,83.1 79.9,85.6 72.7,87.6 65.5,89.3 57.6,90.6 50.4,91.3"/>
<polygon fill="url(#a9)" points="55,86.6 58.3,87.9 62.2,89 66.2,89.7 70.1,90 73.4,90 77.3,89.6 80.6,89 84.5,87.9 87.8,86.7 91.7,84.9 95,83.2 99,80.6 102.9,77.7 106.8,74.5 110.1,71.4 114,67.4 111,71.4 103.8,76.1 96.5,80.1 88.7,83.7 81.5,86.4 74.3,88.3 67,89.6 59.2,90.3 52,90.2"/>
<polygon fill="url(#a8)" points="56.6,84.2 60.5,86.4 64.4,88.2 67.7,89.3 71.6,90.1 74.9,90.4 78.9,90.3 82.1,89.8 86.1,88.7 89.3,87.5 93.3,85.5 97.2,83 101.1,80 104.4,77.2 108.4,73.3 111.6,69.6 115.6,64.8 112.5,69.6 105.3,75.4 98.1,80.2 94.1,82.4 90.2,84.4 86.3,86 83,87.2 79.1,88.3 75.8,89 71.9,89.6 68.6,89.9 64.6,90 60.7,89.7 57.4,89.4 53.5,88.6"/>
<polygon fill="url(#a7)" points="58.1,81.3 61.4,84 65.3,86.7 69.2,88.7 73.2,90 76.5,90.7 80.4,90.9 84.3,90.4 87.6,89.5 90.9,88.2 94.8,86 98.7,83.2 102.7,79.8 106,76.4 109.9,71.8 113.2,67.4 117.1,61.6 114,67.4 110.1,71.4 106.8,74.5 102.9,77.7 99,80.6 95,83.2 91.7,84.9 87.8,86.7 84.5,87.9 80.6,89 77.3,89.6 73.4,90 70.1,90 66.2,89.7 62.2,89 58.3,87.9 55,86.6"/>
<polygon fill="url(#a6)" points="59.6,78 63.6,82.3 67.5,85.7 70.8,87.9 74.7,89.9 78.6,91.1 81.9,91.4 85.9,91.2 89.1,90.3 92.4,88.9 96.3,86.5 100.3,83.4 104.2,79.4 107.5,75.5 111.4,70 114.7,64.9 118.6,58 115.6,64.8 111.6,69.6 108.4,73.3 104.4,77.2 101.1,80 97.2,83 93.3,85.5 89.3,87.5 86.1,88.7 82.1,89.8 78.9,90.3 74.9,90.4 71.6,90.1 67.7,89.3 64.4,88.2 60.5,86.4 56.6,84.2"/>
<polygon fill="url(#a5)" points="61.2,74.3 64.4,78.9 68.4,83.4 72.3,87 76.2,89.6 78.2,90.6 80.2,91.3 83.5,92 86.7,92 88.7,91.7 90.7,91.1 93.9,89.6 97.9,87 101.8,83.4 105.7,78.9 109,74.3 113,68 116.2,62 120.2,54 117.1,61.6 113.2,67.4 109.9,71.8 106,76.4 102.7,79.8 98.7,83.2 94.8,86 90.9,88.2 87.6,89.5 84.3,90.4 80.4,90.9 76.5,90.7 73.2,90 69.2,88.7 65.3,86.7 61.4,84 58.1,81.3"/>
<polygon fill="url(#a4)" points="62.7,70.2 66.6,76.8 70.6,82.2 73.8,85.9 75.8,87.8 77.8,89.3 79.7,90.6 81.7,91.5 85,92.5 87,92.7 88.9,92.7 92.2,91.9 95.5,90.4 97.4,89 99.4,87.4 102.7,84.2 106.6,79.2 109.9,74.1 113.8,67 117.8,58.8 121.7,49.4 118.6,58 114.7,64.9 111.4,70 107.5,75.5 104.2,79.4 100.3,83.4 96.3,86.5 92.4,88.9 89.1,90.3 85.9,91.2 81.9,91.4 78.6,91.1 74.7,89.9 70.8,87.9 67.5,85.7 63.6,82.3 59.6,78"/>
<polygon fill="url(#a3)" points="64.2,65.6 67.5,72.3 71.4,79.2 75.4,84.7 77.3,86.9 79.3,88.9 81.3,90.4 83.2,91.7 85.2,92.6 86.5,93 87.8,93.3 89.8,93.4 91.8,93.2 93.7,92.7 97,91.1 99,89.6 100.9,87.9 104.2,84.2 108.2,78.5 112.1,71.5 116,63.2 119.3,55.2 123.2,44.5 120.2,54 116.2,62 113,68 109,74.3 105.7,78.9 101.8,83.4 97.9,87 93.9,89.6 90.7,91.1 88.7,91.7 86.7,92 83.5,92 80.2,91.3 78.2,90.6 76.2,89.6 72.3,87 68.4,83.4 64.4,78.9 61.2,74.3"/>
<polygon fill="url(#a2)" points="65.8,60.6 69.7,70 73.6,77.9 75.6,81.3 77.6,84.2 80.8,88.3 84.1,91.3 86.1,92.6 88.1,93.5 90,94 92,94.1 94,93.9 95.3,93.5 97.2,92.6 98.5,91.7 100.5,90.2 102.5,88.2 105.8,84.1 107.7,81.1 109.7,77.8 113.6,69.9 117.6,60.4 120.8,51.3 124.8,39 121.7,49.4 117.8,58.8 113.8,67 109.9,74.1 106.6,79.2 102.7,84.2 99.4,87.4 97.4,89 95.5,90.4 92.2,91.9 88.9,92.7 87,92.7 85,92.5 81.7,91.5 79.7,90.6 77.8,89.3 75.8,87.8 73.8,85.9 70.6,82.2 66.6,76.8 62.7,70.2"/>
<polygon fill="url(#a1)" points="67.3,55.1 70.6,64.4 74.5,74 76.5,78.1 78.4,81.7 80.4,84.9 82.4,87.7 84.3,90 86.3,91.9 88.3,93.3 89.6,94 90.9,94.5 92.9,94.9 94.8,94.8 96.8,94.3 98.1,93.7 100.1,92.4 102,90.7 104,88.6 106,86 107.9,83 111.2,76.9 115.2,68 119.1,57.3 122.4,47.1 126.3,33.1 123.2,44.5 119.3,55.2 116,63.2 112.1,71.5 108.2,78.5 104.2,84.2 100.9,87.9 99,89.6 97,91.1 93.7,92.7 91.8,93.2 89.8,93.4 87.8,93.3 86.5,93 85.2,92.6 83.2,91.7 81.3,90.4 79.3,88.9 77.3,86.9 75.4,84.7 71.4,79.2 67.5,72.3 64.2,65.6"/>
<polygon fill="url(#a0)" points="67.3,55.1 70.6,64.4 74.5,74 76.5,78.1 78.4,81.7 80.4,84.9 82.4,87.7 84.3,90 86.3,91.9 88.3,93.3 89.6,94 90.9,94.5 92.9,94.9 94.8,94.8 96.8,94.3 98.1,93.7 100.1,92.4 102,90.7 104,88.6 106,86 107.9,83 111.2,76.9 115.2,68 119.1,57.3 122.4,47.1 126.3,33.1 124.8,39 120.8,51.3 117.6,60.4 113.6,69.9 109.7,77.8 107.7,81.1 105.8,84.1 102.5,88.2 100.5,90.2 98.5,91.7 97.2,92.6 95.3,93.5 94,93.9 92,94.1 90,94 88.1,93.5 86.1,92.6 84.1,91.3 80.8,88.3 77.6,84.2 75.6,81.3 73.6,77.9 69.7,70 65.8,60.6"/>
</g>
<line x1="341.3" y1="103.4" x2="296" y2="79.9" stroke="#e8e8e8" stroke-width="0.35"/>
<line x1="296" y1="79.9" x2="296" y2="27.9" stroke="#e8e8e8" stroke-width="0.35"/>
<line x1="356.3" y1="98.9" x2="311" y2="75.4" stroke="#e8e8e8" stroke-width="0.35"/>
<line x1="311" y1="75.4" x2="311" y2="23.4" stroke="#e8e8e8" stroke-width="0.35"/>
<line x1="371.3" y1="94.4" x2="326" y2="70.9" stroke="#e8e8e8" stroke-width="0.35"/>
<line x1="326" y1="70.9" x2="326" y2="18.9" stroke="#e8e8e8" stroke-width="0.35"/>
<line x1="386.3" y1="89.9" x2="341" y2="66.4" stroke="#e8e8e8" stroke-width="0.35"/>
<line x1="341" y1="66.4" x2="341" y2="14.4" stroke="#e8e8e8" stroke-width="0.35"/>
<line x1="401.3" y1="85.4" x2="356" y2="61.9" stroke="#e8e8e8" stroke-width="0.35"/>
<line x1="356" y1="61.9" x2="356" y2="9.9" stroke="#e8e8e8" stroke-width="0.35"/>
<line x1="341.3" y1="103.4" x2="401.3" y2="85.4" stroke="#e8e8e8" stroke-width="0.35"/>
<line x1="401.3" y1="85.4" x2="401.3" y2="33.4" stroke="#e8e8e8" stroke-width="0.35"/>
<line x1="329.98" y1="97.53" x2="389.98" y2="79.53" stroke="#e8e8e8" stroke-width="0.35"/>
<line x1="389.98" y1="79.53" x2="389.98" y2="27.53" stroke="#e8e8e8" stroke-width="0.35"/>
<line x1="318.65" y1="91.65" x2="378.65" y2="73.65" stroke="#e8e8e8" stroke-width="0.35"/>
<line x1="378.65" y1="73.65" x2="378.65" y2="21.65" stroke="#e8e8e8" stroke-width="0.35"/>
<line x1="307.32" y1="85.78" x2="367.32" y2="67.78" stroke="#e8e8e8" stroke-width="0.35"/>
<line x1="367.32" y1="67.78" x2="367.32" y2="15.78" stroke="#e8e8e8" stroke-width="0.35"/>
<line x1="296" y1="79.9" x2="356" y2="61.9" stroke="#e8e8e8" stroke-width="0.35"/>
<line x1="356" y1="61.9" x2="356" y2="9.9" stroke="#e8e8e8" stroke-width="0.35"/>
<line x1="296" y1="79.9" x2="356" y2="61.9" stroke="#e8e8e8" stroke-width="0.35"/>
<line x1="356" y1="61.9" x2="401.3" y2="85.4" stroke="#e8e8e8" stroke-width="0.35"/>
<line x1="296" y1="69.96" x2="356" y2="51.96" stroke="#e8e8e8" stroke-width="0.35"/>
<line x1="356" y1="51.96" x2="401.3" y2="75.46" stroke="#e8e8e8" stroke-width="0.35"/>
<line x1="296" y1="60.03" x2="356" y2="42.03" stroke="#e8e8e8" stroke-width="0.35"/>
<line x1="356" y1="42.03" x2="401.3" y2="65.53" stroke="#e8e8e8" stroke-width="0.35"/>
<line x1="296" y1="50.09" x2="356" y2="32.09" stroke="#e8e8e8" stroke-width="0.35"/>
<line x1="356" y1="32.09" x2="401.3" y2="55.59" stroke="#e8e8e8" stroke-width="0.35"/>
<line x1="296" y1="40.15" x2="356" y2="22.15" stroke="#e8e8e8" stroke-width="0.35"/>
<line x1="356" y1="22.15" x2="401.3" y2="45.65" stroke="#e8e8e8" stroke-width="0.35"/>
<line x1="296" y1="30.22" x2="356" y2="12.22" stroke="#e8e8e8" stroke-width="0.35"/>
<line x1="356" y1="12.22" x2="401.3" y2="35.72" stroke="#e8e8e8" stroke-width="0.35"/>
<g fill="none" stroke-width="0.4" opacity="0.75">
<polyline points="372.9,78.5 372.9,78.5 372.1,78.4 372,78.4 371.5,78.3 370.9,78.1 370.5,78 370.4,78 370,77.8 369.6,77.6 369.5,77.5 369.3,77.4 369.2,77.1 369.1,76.9 369.2,76.8 369.3,76.6 369.7,76.4 370.2,76.2 370.8,76.2 371.3,76.2 371.7,76.2 372.1,76.2 372.7,76.4 373,76.4 373.2,76.5 373.7,76.7 374.1,76.9 374.4,77.1 374.7,77.3 374.7,77.3 374.9,77.6 374.9,77.9 374.9,77.9 374.7,78.1 374.3,78.3 373.7,78.4 372.9,78.5" stroke="#3f28ae"/>
<polyline points="326.5,89.1 326,89.1 325.6,89.1 325.2,89.1 324.6,88.9 324.3,88.9 324.1,88.8 323.6,88.6 323.2,88.4 322.9,88.2 322.6,88 322.6,88 322.4,87.7 322.4,87.4 322.4,87.4 322.6,87.2 323,87 323.6,86.9 324.4,86.8 324.4,86.8 325.2,86.9 325.3,86.9 325.8,87 326.4,87.2 326.8,87.3 326.9,87.3 327.3,87.5 327.7,87.7 327.8,87.8 328,87.9 328.1,88.2 328.2,88.4 328.1,88.5 328,88.7 327.6,88.9 327.1,89.1 326.5,89.1" stroke="#3f28ae"/>
<polyline points="380.1,82.2 378.6,82.3 376.5,82.4 374.8,82.3 373.1,82.2 371.2,82.1 369.7,81.9 368.1,81.7 366.3,81.4 364.5,81 362.9,80.5 361.5,80 360.1,79.2 359.4,78.5 359,77.8 358.9,77.1 359,76.5 359.2,75.8 359.8,75 360.4,74.4 361.5,73.7 363.3,73 365.4,72.7 367.2,72.6 368.9,72.7 370.8,72.9 372.2,73.1 373.8,73.5 375.4,74 377.3,74.7 378.6,75.3 380,76 381.1,76.6 382.2,77.5 383,78.2 383.5,79 383.8,79.6 383.8,80.4 383.4,81 382.3,81.7 380.1,82.2 380.1,82.2" stroke="#484cef"/>
<polyline points="332.3,92.6 330.6,92.7 328.7,92.6 327.2,92.5 325.2,92.2 323.7,91.8 321.9,91.3 320.5,90.8 318.8,90.1 317.6,89.5 316.6,88.9 315.3,88 314.6,87.3 313.9,86.6 313.5,85.8 313.4,85.2 313.7,84.5 314.5,83.8 316.6,83.2 318.5,83 320,82.9 321.8,83 323.6,83 325.3,83.2 327.1,83.4 329,83.6 330.4,83.8 332.2,84.2 333.9,84.6 335.3,85.1 336.9,85.9 337.7,86.6 338.2,87.3 338.4,88 338.3,88.8 338.1,89.5 337.7,90.1 337,90.8 336.2,91.4 334.5,92.1 332.3,92.6 332.3,92.6" stroke="#484cef"/>
<polyline points="384.5,76.7 386.1,77.9 387.3,78.9 388.2,80.1 388.8,81.1 389.1,82.3 388.7,83.3 387.1,84.2 384.1,84.7 381.8,84.8 378.9,84.7 376.1,84.6 373.5,84.5 370.9,84.3 368.4,84.1 365.9,84 363.4,83.8 360.7,83.6 357.9,83.4 355.2,83.2 352.7,83 350.3,82.8 348.3,83.3 347.8,84.3 347.3,85.2 346.7,86.3 346,87.4 345.4,88.3 344.6,89.4 343.8,90.4 342.7,91.5 341.5,92.4 339.8,93.3 337,94.2 334.5,94.6 331.6,94.6 329.2,94.4 326.5,93.9 324.1,93.4 321.5,92.7 319.1,91.8 318.6,91.7" stroke="#3777fe"/>
<polyline points="312.8,88.6 311.2,87.4 310,86.4 309.1,85.2 308.5,84.2 308.2,83 308.6,82 310.2,81.1 313.2,80.6 315.5,80.5 318.4,80.6 321.2,80.7 323.8,80.8 326.4,81 328.9,81.2 331.4,81.3 333.9,81.5 336.6,81.7 339.4,81.9 342.1,82.1 344.6,82.3 347,82.5 349,82 349.5,81 350,80.1 350.6,79 351.3,77.9 351.9,77 352.7,75.9 353.5,74.9 354.6,73.8 355.8,72.9 357.5,72 360.3,71.1 362.8,70.7 365.7,70.7 368.1,70.9 370.8,71.4 373.2,71.9 375.8,72.6 378.2,73.5 378.6,73.7" stroke="#3777fe"/>
<polyline points="393.7,87.7 391.5,87.7 389.8,87.6 388.2,87.5 386.6,87.4 384.9,87.2 383.2,87.1 381.4,86.9 379.5,86.8 377.7,86.7 375.9,86.6 374.1,86.5 372.4,86.4 370.7,86.3 369,86.2 367.4,86.2 365.6,86.2 363.5,86.2 362,86.3 360,86.5 358.1,86.7 356.4,87.1 354.4,87.7 353.1,88.2 352,88.9 350.9,89.5 349.9,90.3 349.2,90.8 348.4,91.5 347.4,92.2 346.6,92.8 345.8,93.4 344.7,94.1 343.5,94.7 341.7,95.4 339.5,95.9 337.8,96.1 336.1,96.2 334.5,96.2 332.7,96.1 330.7,95.9 329.1,95.6 327.2,95.3 325.9,95 324.4,94.6" stroke="#249ee6"/>
<polyline points="391.4,80.2 391.4,80.3 391.7,80.6 391.9,80.8 392.1,81 392.1,81 392.3,81.3 392.5,81.5 392.7,81.8 392.7,81.8 392.9,82 393.1,82.3 393.2,82.4 393.3,82.5 393.5,82.8 393.7,83.1 393.7,83.1 393.8,83.3 394,83.6 394.1,83.7 394.1,83.8 394.3,84.1 394.4,84.3 394.4,84.4 394.6,84.6 394.6,84.8 394.7,84.9 394.8,85.2 394.9,85.3 394.9,85.5 395,85.8 395,85.8 395,86 395.1,86.3 395.1,86.3 395.1,86.6 395.1,86.7 395,87 395,87 394.8,87.3 394.6,87.4 394.6,87.4" stroke="#249ee6"/>
<polyline points="305.9,85.1 305.9,85 305.6,84.7 305.4,84.5 305.2,84.3 305.2,84.3 305,84 304.8,83.8 304.6,83.5 304.6,83.5 304.4,83.3 304.2,83 304.1,82.9 304,82.8 303.8,82.5 303.6,82.2 303.6,82.2 303.5,82 303.3,81.7 303.2,81.6 303.2,81.5 303,81.2 302.9,81 302.9,80.9 302.7,80.7 302.7,80.5 302.6,80.4 302.5,80.1 302.4,80 302.4,79.8 302.3,79.5 302.3,79.5 302.3,79.3 302.2,79 302.2,79 302.2,78.7 302.2,78.6 302.3,78.3 302.3,78.3 302.5,78 302.7,77.9 302.7,77.9" stroke="#249ee6"/>
<polyline points="303.6,77.6 305.8,77.6 307.5,77.7 309.1,77.8 310.7,77.9 312.4,78.1 314.1,78.2 315.9,78.4 317.8,78.5 319.6,78.6 321.4,78.7 323.2,78.8 324.9,78.9 326.6,79 328.3,79.1 329.9,79.1 331.7,79.1 333.8,79.1 335.3,79 337.3,78.8 339.2,78.6 340.9,78.2 342.9,77.6 344.2,77.1 345.3,76.4 346.4,75.8 347.4,75 348.1,74.5 348.9,73.8 349.9,73.1 350.7,72.5 351.5,71.9 352.6,71.2 353.8,70.6 355.6,69.9 357.8,69.4 359.5,69.2 361.2,69.1 362.8,69.1 364.6,69.2 366.6,69.4 368.2,69.7 370.1,70 371.4,70.3 372.9,70.7" stroke="#249ee6"/>
<polyline points="386.1,89.9 385,89.7 383.7,89.4 382.4,89.2 381,89 379.6,88.8 378.5,88.7 377.3,88.6 375.6,88.5 374.7,88.4 373,88.3 372.1,88.3 370.5,88.3 369.1,88.3 368,88.3 366.7,88.3 365.3,88.4 364,88.5 362.3,88.8 360.9,89 359.3,89.4 357.8,89.9 356.5,90.4 355.6,90.8 354.4,91.4 353.7,91.8 353,92.3 352.3,92.7 351.6,93.2 350.9,93.7 350.1,94.3 349.3,94.8 348.5,95.3 347.8,95.7 346.8,96.2 345.6,96.6 344.1,97.1 342.9,97.3 341.1,97.6 339.8,97.7 338.7,97.7 337.4,97.7 335.9,97.6 334.6,97.5 333.6,97.4 332.2,97.2 330.8,97 329.5,96.7 328.3,96.5 327.8,96.4" stroke="#02bac3"/>
<polyline points="396.9,83.1 397.1,83.3 397.3,83.5 397.6,83.7 397.9,84 398.1,84.1 398.1,84.2 398.4,84.4 398.7,84.6 399,84.9 399.3,85.1 399.6,85.3 399.6,85.4 399.9,85.5 400.2,85.7" stroke="#02bac3"/>
<polyline points="300.4,82.2 300.2,82 300,81.8 299.7,81.6 299.4,81.3 299.2,81.2 299.2,81.1 298.9,80.9 298.6,80.7 298.3,80.4 298,80.2 297.7,80 297.7,79.9 297.4,79.8 297.1,79.6" stroke="#02bac3"/>
<polyline points="311.2,75.4 312.3,75.6 313.6,75.9 314.9,76.1 316.3,76.3 317.7,76.5 318.8,76.6 320,76.7 321.7,76.8 322.6,76.9 324.3,77 325.2,77 326.8,77 328.2,77 329.3,77 330.6,77 332,76.9 333.3,76.8 335,76.5 336.4,76.3 338,75.9 339.5,75.4 340.8,74.9 341.7,74.5 342.9,73.9 343.6,73.5 344.3,73 345,72.6 345.7,72.1 346.4,71.6 347.2,71 348,70.5 348.8,70 349.5,69.6 350.5,69.1 351.7,68.7 353.2,68.2 354.4,68 356.2,67.7 357.5,67.6 358.6,67.6 359.9,67.6 361.4,67.7 362.7,67.8 363.7,67.9 365.1,68.1 366.5,68.3 367.8,68.6 369,68.8 369.5,68.9" stroke="#02bac3"/>
<polyline points="381.3,91.4 380.1,91.1 378.8,90.9 377.7,90.7 376.6,90.6 375.1,90.5 373.9,90.4 372.4,90.4 371.4,90.3 369.8,90.4 368.4,90.4 367,90.6 365.8,90.7 364.3,90.9 362.9,91.2 361.3,91.7 359.9,92.2 359.1,92.5 357.8,93.1 357.1,93.6 356.3,94 355.6,94.5 354.8,95 354,95.6 353.3,96.1 352.6,96.6 351.8,97 351.1,97.4 349.8,98 348.9,98.3 347.8,98.7 346.2,99 344.9,99.1 343.5,99.2 341.9,99.2 340.9,99.2 339.4,99.1 338.3,99 336.8,98.9 335.4,98.7 334.3,98.5 333.1,98.3 331.9,98.1 330.7,97.9 330.7,97.9" stroke="#43ca8a"/>
<polyline points="316,73.9 317.2,74.2 318.5,74.4 319.6,74.6 320.7,74.7 322.2,74.8 323.4,74.9 324.9,74.9 325.9,75 327.5,74.9 328.9,74.9 330.3,74.7 331.5,74.6 333,74.4 334.4,74.1 336,73.6 337.4,73.1 338.2,72.8 339.5,72.2 340.2,71.7 341,71.3 341.7,70.8 342.5,70.3 343.3,69.7 344,69.2 344.7,68.7 345.5,68.3 346.2,67.9 347.5,67.3 348.4,67 349.5,66.6 351.1,66.3 352.4,66.2 353.8,66.1 355.4,66.1 356.4,66.1 357.9,66.2 359,66.3 360.5,66.4 361.9,66.6 363,66.8 364.2,67 365.4,67.2 366.6,67.4 366.6,67.4" stroke="#43ca8a"/>
<polyline points="348.8,101.2 348,101.2 347.8,101.1 347.2,101.1 346.9,101.1 346.3,101.1 346,101.1 345.4,101 345.2,101 344.5,101 344.3,100.9 343.6,100.9 343.5,100.9 342.8,100.8 342.5,100.8 342,100.7 341.5,100.6 341.3,100.6 340.6,100.5 340.5,100.5 339.9,100.4 339.4,100.4 339.2,100.3 338.5,100.2 338.3,100.2 337.8,100.1 337.2,100 337.1,100 336.5,99.9 335.9,99.8 335.9,99.8 335.2,99.7 334.7,99.6 334.6,99.5 334,99.4 333.4,99.3" stroke="#a8c73b"/>
<polyline points="375.7,93.1 375,93 374.9,93 374.2,92.9 373.9,92.9 373.3,92.9 373,92.9 372.4,92.8 372.2,92.8 371.4,92.8 371.4,92.8 370.7,92.9 370.2,92.9 370,92.9 369.3,93 368.7,93 368.6,93 368,93.1 367.4,93.2 366.8,93.3 366.4,93.4 366.3,93.4 365.7,93.6 365.2,93.7 364.7,93.8 364.2,94 363.8,94.2 363.5,94.3 363.3,94.3 362.9,94.5 362.4,94.7 362,94.9 361.6,95.1 361.6,95.1 361.3,95.3 360.9,95.6 360.6,95.8 360.5,95.8 360.2,96 359.9,96.2 359.8,96.3 359.5,96.5 359.2,96.7 359.1,96.8 358.9,97 358.6,97.2 358.5,97.3 358.3,97.5 358,97.7 357.9,97.8 357.7,98 357.4,98.2 357.4,98.3 357.1,98.5 356.8,98.7 356.8,98.8 356.8,98.8" stroke="#a8c73b"/>
<polyline points="321.6,72.2 322.3,72.3 322.4,72.3 323.1,72.4 323.4,72.4 324,72.4 324.3,72.4 324.9,72.5 325.1,72.5 325.9,72.5 325.9,72.5 326.6,72.4 327.1,72.4 327.3,72.4 328,72.3 328.6,72.3 328.7,72.3 329.3,72.2 329.9,72.1 330.5,72 330.9,71.9 331,71.9 331.6,71.7 332.1,71.6 332.6,71.5 333.1,71.3 333.5,71.1 333.8,71 334,71 334.4,70.8 334.9,70.6 335.3,70.4 335.7,70.2 335.7,70.2 336,70 336.4,69.7 336.7,69.5 336.8,69.5 337.1,69.3 337.4,69.1 337.5,69 337.8,68.8 338.1,68.6 338.2,68.5 338.4,68.3 338.7,68.1 338.8,68 339,67.8 339.3,67.6 339.4,67.5 339.6,67.3 339.9,67.1 339.9,67 340.2,66.8 340.5,66.6 340.5,66.5 340.5,66.5" stroke="#a8c73b"/>
<polyline points="348.5,64.1 349.3,64.1 349.5,64.2 350.1,64.2 350.4,64.2 351,64.2 351.3,64.2 351.9,64.3 352.1,64.3 352.8,64.3 353,64.4 353.7,64.4 353.8,64.4 354.5,64.5 354.8,64.5 355.3,64.6 355.8,64.7 356,64.7 356.7,64.8 356.8,64.8 357.4,64.9 357.9,64.9 358.1,65 358.8,65.1 359,65.1 359.5,65.2 360.1,65.3 360.2,65.3 360.8,65.4 361.4,65.5 361.4,65.5 362.1,65.6 362.6,65.7 362.7,65.8 363.3,65.9 363.9,66" stroke="#a8c73b"/>
<polyline points="344.4,102.5 344.1,102.4 343.8,102.3 343.2,102.2 342.8,102.2 342.6,102.1 342,102 341.5,101.9 341.3,101.8 340.7,101.7 340.2,101.6 340.1,101.6 339.5,101.5 338.9,101.4 338.9,101.3 338.3,101.2 337.7,101.1 337.6,101.1 337.1,101 336.5,100.8 336.3,100.8" stroke="#f9bb3d"/>
<polyline points="352.9,62.8 353.2,62.9 353.5,63 354.1,63.1 354.5,63.1 354.7,63.2 355.3,63.3 355.8,63.4 356,63.5 356.6,63.6 357.1,63.7 357.2,63.7 357.8,63.8 358.4,63.9 358.4,64 359,64.1 359.6,64.2 359.7,64.2 360.2,64.3 360.8,64.5 361,64.5" stroke="#f9bb3d"/>
<polyline points="342.1,103.2 341.6,103 341.1,102.9 341,102.9 340.5,102.7 339.9,102.6 339.5,102.4" stroke="#f5e626"/>
<polyline points="355.2,62.1 355.7,62.3 356.2,62.4 356.3,62.4 356.8,62.6 357.4,62.7 357.8,62.9" stroke="#f5e626"/>
</g>
<line x1="341.3" y1="103.4" x2="401.3" y2="85.4" stroke="#6a6a6a" stroke-width="0.4"/>
<line x1="341.3" y1="103.4" x2="296" y2="79.9" stroke="#6a6a6a" stroke-width="0.4"/>
<line x1="296" y1="79.9" x2="296" y2="27.9" stroke="#6a6a6a" stroke-width="0.4"/>
<defs>
<linearGradient id="b31" href="#P" gradientUnits="userSpaceOnUse" x1="43.94" y1="146.47" x2="32.28" y2="107.6"/>
<linearGradient id="b30" href="#P" gradientUnits="userSpaceOnUse" x1="44.26" y1="147.54" x2="32.6" y2="108.66"/>
<linearGradient id="b29" href="#P" gradientUnits="userSpaceOnUse" x1="44.58" y1="148.6" x2="32.92" y2="109.72"/>
<linearGradient id="b28" href="#P" gradientUnits="userSpaceOnUse" x1="44.9" y1="149.66" x2="33.24" y2="110.79"/>
<linearGradient id="b27" href="#P" gradientUnits="userSpaceOnUse" x1="45.22" y1="150.73" x2="33.55" y2="111.85"/>
<linearGradient id="b26" href="#P" gradientUnits="userSpaceOnUse" x1="45.54" y1="151.79" x2="33.87" y2="112.91"/>
<linearGradient id="b25" href="#P" gradientUnits="userSpaceOnUse" x1="45.86" y1="152.85" x2="34.19" y2="113.98"/>
<linearGradient id="b24" href="#P" gradientUnits="userSpaceOnUse" x1="46.18" y1="153.92" x2="34.51" y2="115.04"/>
<linearGradient id="b23" href="#P" gradientUnits="userSpaceOnUse" x1="46.49" y1="154.98" x2="34.83" y2="116.1"/>
<linearGradient id="b22" href="#P" gradientUnits="userSpaceOnUse" x1="46.81" y1="156.04" x2="35.15" y2="117.17"/>
<linearGradient id="b21" href="#P" gradientUnits="userSpaceOnUse" x1="47.13" y1="157.11" x2="35.47" y2="118.23"/>
<linearGradient id="b20" href="#P" gradientUnits="userSpaceOnUse" x1="47.45" y1="158.17" x2="35.79" y2="119.29"/>
<linearGradient id="b19" href="#P" gradientUnits="userSpaceOnUse" x1="47.77" y1="159.23" x2="36.11" y2="120.36"/>
<linearGradient id="b18" href="#P" gradientUnits="userSpaceOnUse" x1="48.09" y1="160.3" x2="36.43" y2="121.42"/>
<linearGradient id="b17" href="#P" gradientUnits="userSpaceOnUse" x1="48.41" y1="161.36" x2="36.74" y2="122.48"/>
<linearGradient id="b16" href="#P" gradientUnits="userSpaceOnUse" x1="48.73" y1="162.42" x2="37.06" y2="123.55"/>
<linearGradient id="b15" href="#P" gradientUnits="userSpaceOnUse" x1="49.05" y1="163.49" x2="37.38" y2="124.61"/>
<linearGradient id="b14" href="#P" gradientUnits="userSpaceOnUse" x1="49.37" y1="164.55" x2="37.7" y2="125.67"/>
<linearGradient id="b13" href="#P" gradientUnits="userSpaceOnUse" x1="49.68" y1="165.61" x2="38.02" y2="126.74"/>
<linearGradient id="b12" href="#P" gradientUnits="userSpaceOnUse" x1="50" y1="166.68" x2="38.34" y2="127.8"/>
<linearGradient id="b11" href="#P" gradientUnits="userSpaceOnUse" x1="50.32" y1="167.74" x2="38.66" y2="128.86"/>
<linearGradient id="b10" href="#P" gradientUnits="userSpaceOnUse" x1="50.64" y1="168.8" x2="38.98" y2="129.93"/>
<linearGradient id="b9" href="#P" gradientUnits="userSpaceOnUse" x1="50.96" y1="169.87" x2="39.3" y2="130.99"/>
<linearGradient id="b8" href="#P" gradientUnits="userSpaceOnUse" x1="51.28" y1="170.93" x2="39.62" y2="132.05"/>
<linearGradient id="b7" href="#P" gradientUnits="userSpaceOnUse" x1="51.6" y1="171.99" x2="39.93" y2="133.12"/>
<linearGradient id="b6" href="#P" gradientUnits="userSpaceOnUse" x1="51.92" y1="173.06" x2="40.25" y2="134.18"/>
<linearGradient id="b5" href="#P" gradientUnits="userSpaceOnUse" x1="52.24" y1="174.12" x2="40.57" y2="135.24"/>
<linearGradient id="b4" href="#P" gradientUnits="userSpaceOnUse" x1="52.56" y1="175.18" x2="40.89" y2="136.31"/>
<linearGradient id="b3" href="#P" gradientUnits="userSpaceOnUse" x1="52.87" y1="176.25" x2="41.21" y2="137.37"/>
<linearGradient id="b2" href="#P" gradientUnits="userSpaceOnUse" x1="53.19" y1="177.31" x2="41.53" y2="138.43"/>
<linearGradient id="b1" href="#P" gradientUnits="userSpaceOnUse" x1="53.51" y1="178.38" x2="41.85" y2="139.5"/>
<linearGradient id="b0" href="#P" gradientUnits="userSpaceOnUse" x1="53.83" y1="179.44" x2="42.17" y2="140.56"/>
</defs>
<g>
<polygon fill="url(#b31)" points="298.8,50.5 300.7,53.6 302.6,55.4 303.8,56 305.1,56.1 306.3,55.9 307.6,55.3 309.5,53.9 312,51.4 320.1,41.1 323.2,37.5 326.3,34.6 328.8,32.8 332,31.4 335.1,30.8 338.2,30.8 344.5,31.5 347,31.3 349.5,30.6 351.3,29.3 353.2,27.4 355.1,24.5 357,20.5 358.8,15.1 356,9.9 354.1,15.3 352.2,19.4 350.4,22.4 348.5,24.4 346.6,25.7 344.1,26.6 341.6,26.8 335.4,26.4 332.2,26.5 329.1,27.3 326,28.8 323.5,30.7 320.4,33.7 317.2,37.5 309.1,48.1 306.6,50.7 304.8,52.2 303.5,52.8 302.2,53.1 301,53.1 299.8,52.5 298.5,51.5 297.9,50.8 296,47.8"/>
<polygon fill="url(#b30)" points="300.2,52.2 302.1,55.4 304,57.2 304.6,57.6 305.9,57.9 307.7,57.7 309.6,56.8 312.1,54.7 314.6,51.9 320.9,44 324,40.3 327.1,37.3 330.2,35.1 332.7,34 335.9,33.3 339,33.2 344.6,34 347.1,34.1 349.6,33.8 351.5,33 352.7,32.1 354,30.9 355.2,29.3 356.5,27.3 358.4,23.4 360.2,18.1 357.4,12.4 355.5,17.8 353.7,21.8 352.4,23.9 351.2,25.5 349.9,26.7 348.7,27.7 346.8,28.5 344.3,29 341.8,29 336.2,28.5 333,28.6 329.9,29.4 327.4,30.7 324.3,33 321.2,36.2 318,39.9 311.8,48.1 309.3,51 306.8,53.2 304.9,54.2 303,54.5 301.8,54.2 301.2,53.9 299.3,52.1 297.4,49"/>
<polygon fill="url(#b29)" points="301.7,54.1 303.5,57.3 305.4,59.1 306,59.5 307.3,59.9 309.2,59.7 311,58.8 313.5,56.8 316,54 322.3,46.3 325.4,42.7 328.5,39.8 331.7,37.6 334.2,36.5 337.3,35.9 340.4,35.9 346,36.8 348.5,37 351,36.7 352.9,35.9 354.2,35.1 355.4,33.9 356.7,32.3 357.9,30.4 359.8,26.4 361.7,21.2 358.8,15.1 357,20.5 355.1,24.5 353.2,27.4 351.3,29.3 349.5,30.6 347,31.3 344.5,31.5 338.2,30.8 335.1,30.8 332,31.4 328.8,32.8 326.3,34.6 323.2,37.5 320.1,41.1 312,51.4 309.5,53.9 307.6,55.3 306.3,55.9 305.1,56.1 303.8,56 302.6,55.4 300.7,53.6 298.8,50.5"/>
<polygon fill="url(#b28)" points="303.1,56.1 305,59.3 306.8,61.2 307.5,61.6 308.7,62 310.6,61.9 312.5,61 315,59 317.5,56.3 323.7,48.7 326.8,45.2 330,42.3 333.1,40.2 335.6,39.2 338.7,38.6 341.8,38.7 347.5,39.7 350,39.9 352.5,39.7 354.3,38.9 355.6,38.1 356.8,37 358.1,35.5 359.3,33.5 361.2,29.6 363.1,24.4 360.2,18.1 358.4,23.4 356.5,27.3 355.2,29.3 354,30.9 352.7,32.1 351.5,33 349.6,33.8 347.1,34.1 344.6,34 339,33.2 335.9,33.3 332.7,34 330.2,35.1 327.1,37.3 324,40.3 320.9,44 314.6,51.9 312.1,54.7 309.6,56.8 307.7,57.7 305.9,57.9 304.6,57.6 304,57.2 302.1,55.4 300.2,52.2"/>
<polygon fill="url(#b27)" points="304.5,58.1 306.4,61.4 308.2,63.3 308.9,63.7 310.1,64.2 312,64.1 313.9,63.3 316.4,61.3 318.9,58.7 325.1,51.2 328.2,47.7 331.4,44.9 334.5,42.9 337,41.9 340.1,41.4 343.2,41.6 348.9,42.6 351.4,42.9 353.9,42.7 355.7,42.1 357,41.3 358.2,40.2 359.5,38.7 360.7,36.7 362.6,32.9 364.5,27.7 361.7,21.2 359.8,26.4 357.9,30.4 356.7,32.3 355.4,33.9 354.2,35.1 352.9,35.9 351,36.7 348.5,37 346,36.8 340.4,35.9 337.3,35.9 334.2,36.5 331.7,37.6 328.5,39.8 325.4,42.7 322.3,46.3 316,54 313.5,56.8 311,58.8 309.2,59.7 307.3,59.9 306,59.5 305.4,59.1 303.5,57.3 301.7,54.1"/>
<polygon fill="url(#b26)" points="305.9,60.2 307.8,63.5 309.7,65.5 310.3,65.9 311.5,66.3 313.4,66.3 315.3,65.5 317.8,63.6 320.3,61 326.5,53.6 329.7,50.3 332.8,47.5 335.9,45.6 338.4,44.6 341.5,44.2 344.7,44.4 350.3,45.6 352.8,46 355.3,45.8 357.2,45.2 358.4,44.4 359.7,43.3 360.9,41.9 362.2,39.9 364,36.1 365.9,31 363.1,24.4 361.2,29.6 359.3,33.5 358.1,35.5 356.8,37 355.6,38.1 354.3,38.9 352.5,39.7 350,39.9 347.5,39.7 341.8,38.7 338.7,38.6 335.6,39.2 333.1,40.2 330,42.3 326.8,45.2 323.7,48.7 317.5,56.3 315,59 312.5,61 310.6,61.9 308.7,62 307.5,61.6 306.8,61.2 305,59.3 303.1,56.1"/>
<polygon fill="url(#b25)" points="307.3,62.2 309.2,65.5 311.1,67.6 311.7,68 312.9,68.5 314.8,68.5 316.7,67.7 319.2,65.9 321.7,63.4 327.9,56.1 331.1,52.8 334.2,50.1 337.3,48.2 339.8,47.3 342.9,46.9 346.1,47.2 351.7,48.6 354.2,49 356.7,48.9 358.6,48.3 359.8,47.5 361.1,46.5 362.3,45 363.6,43.1 365.4,39.4 367.3,34.3 364.5,27.7 362.6,32.9 360.7,36.7 359.5,38.7 358.2,40.2 357,41.3 355.7,42.1 353.9,42.7 351.4,42.9 348.9,42.6 343.2,41.6 340.1,41.4 337,41.9 334.5,42.9 331.4,44.9 328.2,47.7 325.1,51.2 318.9,58.7 316.4,61.3 313.9,63.3 312,64.1 310.1,64.2 308.9,63.7 308.2,63.3 306.4,61.4 304.5,58.1"/>
<polygon fill="url(#b24)" points="308.7,64.1 310.6,67.5 312.5,69.6 313.7,70.3 315,70.6 316.2,70.6 317.5,70.2 319.4,69.1 321.9,66.9 330,57.8 333.1,54.6 336.2,52.2 338.7,50.8 341.9,49.8 345,49.6 348.1,50.1 354.4,51.7 356.9,51.9 358.1,51.8 359.4,51.5 361.2,50.5 363.1,48.8 365,46.2 366.9,42.5 368.7,37.4 365.9,31 364,36.1 362.2,39.9 360.9,41.9 359.7,43.3 358.4,44.4 357.2,45.2 355.3,45.8 352.8,46 350.3,45.6 344.7,44.4 341.5,44.2 338.4,44.6 335.9,45.6 332.8,47.5 329.7,50.3 326.5,53.6 320.3,61 317.8,63.6 315.3,65.5 313.4,66.3 311.5,66.3 310.3,65.9 309.7,65.5 307.8,63.5 305.9,60.2"/>
<polygon fill="url(#b23)" points="310.2,65.9 312,69.3 313.9,71.5 314.5,71.9 315.8,72.4 317.7,72.5 319.5,71.8 322,70.1 324.5,67.7 330.8,60.7 333.9,57.5 337,54.9 340.2,53.2 342.7,52.4 345.8,52.1 348.9,52.6 354.5,54.1 357,54.6 359.5,54.6 361.4,54.1 362.7,53.4 363.9,52.4 365.2,51 366.4,49.2 368.3,45.5 370.2,40.5 367.3,34.3 365.4,39.4 363.6,43.1 362.3,45 361.1,46.5 359.8,47.5 358.6,48.3 356.7,48.9 354.2,49 351.7,48.6 346.1,47.2 342.9,46.9 339.8,47.3 337.3,48.2 334.2,50.1 331.1,52.8 327.9,56.1 321.7,63.4 319.2,65.9 316.7,67.7 314.8,68.5 312.9,68.5 311.7,68 311.1,67.6 309.2,65.5 307.3,62.2"/>
<polygon fill="url(#b22)" points="311.6,67.5 313.4,71 315.3,73.1 316.6,73.9 317.8,74.3 319.1,74.3 320.3,73.9 322.2,72.9 324.7,70.8 332.8,62 335.9,59 339.1,56.7 341.6,55.4 344.7,54.6 347.8,54.5 350.9,55.1 357.2,57 359.7,57.3 360.9,57.3 362.2,57 364.1,56.1 365.9,54.5 367.8,52 369.7,48.3 371.6,43.3 368.7,37.4 366.9,42.5 365,46.2 363.1,48.8 361.2,50.5 359.4,51.5 358.1,51.8 356.9,51.9 354.4,51.7 348.1,50.1 345,49.6 341.9,49.8 338.7,50.8 336.2,52.2 333.1,54.6 330,57.8 321.9,66.9 319.4,69.1 317.5,70.2 316.2,70.6 315,70.6 313.7,70.3 312.5,69.6 310.6,67.5 308.7,64.1"/>
<polygon fill="url(#b21)" points="313,68.9 314.9,72.4 316.7,74.6 318,75.4 319.2,75.8 320.5,75.8 321.7,75.5 323.6,74.5 326.1,72.5 334.2,63.9 337.4,60.9 340.5,58.7 343,57.4 346.1,56.7 349.2,56.7 352.4,57.4 358.6,59.3 361.1,59.7 362.4,59.7 363.6,59.4 365.5,58.6 367.4,57 369.2,54.5 371.1,50.9 373,46 370.2,40.5 368.3,45.5 366.4,49.2 365.2,51 363.9,52.4 362.7,53.4 361.4,54.1 359.5,54.6 357,54.6 354.5,54.1 348.9,52.6 345.8,52.1 342.7,52.4 340.2,53.2 337,54.9 333.9,57.5 330.8,60.7 324.5,67.7 322,70.1 319.5,71.8 317.7,72.5 315.8,72.4 314.5,71.9 313.9,71.5 312,69.3 310.2,65.9"/>
<polygon fill="url(#b20)" points="314.4,70.1 316.3,73.6 318.2,75.8 320,76.9 321.9,77.1 323.8,76.6 326.3,75 328.8,72.7 335,66.1 338.2,63.1 341.3,60.8 344.4,59.2 346.9,58.6 350,58.5 353.2,59.1 358.8,61 361.3,61.7 363.8,61.9 365.7,61.4 366.9,60.8 368.2,59.9 369.4,58.6 370.7,56.8 372.5,53.2 374.4,48.3 371.6,43.3 369.7,48.3 367.8,52 365.9,54.5 364.1,56.1 362.2,57 360.9,57.3 359.7,57.3 357.2,57 350.9,55.1 347.8,54.5 344.7,54.6 341.6,55.4 339.1,56.7 335.9,59 332.8,62 324.7,70.8 322.2,72.9 320.3,73.9 319.1,74.3 317.8,74.3 316.6,73.9 315.3,73.1 313.4,71 311.6,67.5"/>
<polygon fill="url(#b19)" points="315.8,70.9 317.7,74.5 319.6,76.8 321.4,77.9 323.3,78.2 325.2,77.6 327.7,76.1 330.2,73.9 336.4,67.4 339.6,64.5 342.7,62.2 345.8,60.7 348.3,60.1 351.4,60.1 354.6,60.8 360.2,62.8 362.7,63.5 365.2,63.7 367.1,63.4 368.3,62.8 369.6,61.9 370.8,60.6 372.1,58.9 373.9,55.3 375.8,50.5 373,46 371.1,50.9 369.2,54.5 367.4,57 365.5,58.6 363.6,59.4 362.4,59.7 361.1,59.7 358.6,59.3 352.4,57.4 349.2,56.7 346.1,56.7 343,57.4 340.5,58.7 337.4,60.9 334.2,63.9 326.1,72.5 323.6,74.5 321.7,75.5 320.5,75.8 319.2,75.8 318,75.4 316.7,74.6 314.9,72.4 313,68.9"/>
<polygon fill="url(#b18)" points="317.2,71.5 319.1,75.1 321,77.4 322.2,78.3 323.5,78.8 324.7,78.9 326,78.6 327.9,77.8 330.4,75.9 338.5,67.8 341.6,65 344.7,63 347.2,61.9 348.5,61.6 350.4,61.3 353.5,61.5 356.6,62.4 362.9,64.7 365.4,65.3 366.6,65.3 367.9,65.2 369.7,64.5 371.6,63 373.5,60.6 375.4,57.1 377.2,52.3 374.4,48.3 372.5,53.2 370.7,56.8 369.4,58.6 368.2,59.9 366.9,60.8 365.7,61.4 363.8,61.9 361.3,61.7 358.8,61 353.2,59.1 350,58.5 346.9,58.6 344.4,59.2 341.3,60.8 338.2,63.1 335,66.1 328.8,72.7 326.3,75 323.8,76.6 321.9,77.1 320,76.9 318.2,75.8 316.3,73.6 314.4,70.1"/>
<polygon fill="url(#b17)" points="318.6,71.8 320.5,75.4 322.4,77.8 324.3,79 326.1,79.3 328,78.9 330.5,77.4 333,75.3 339.3,69.1 342.4,66.3 345.5,64.1 348.6,62.8 351.1,62.3 354.3,62.4 357.4,63.2 363,65.5 365.5,66.3 368,66.6 369.9,66.3 371.1,65.8 372.4,65 373.6,63.7 374.9,62 376.8,58.6 378.6,53.8 375.8,50.5 373.9,55.3 372.1,58.9 370.8,60.6 369.6,61.9 368.3,62.8 367.1,63.4 365.2,63.7 362.7,63.5 360.2,62.8 354.6,60.8 351.4,60.1 348.3,60.1 345.8,60.7 342.7,62.2 339.6,64.5 336.4,67.4 330.2,73.9 327.7,76.1 325.2,77.6 323.3,78.2 321.4,77.9 319.6,76.8 317.7,74.5 315.8,70.9"/>
<polygon fill="url(#b16)" points="320.1,71.7 321.9,75.4 323.8,77.8 325.7,79.1 327.6,79.4 329.4,79 331.9,77.6 334.4,75.6 340.7,69.5 343.8,66.8 346.9,64.7 350.1,63.4 352.6,62.9 355.7,63.1 358.8,64 364.4,66.4 366.9,67.2 369.4,67.6 371.3,67.4 372.6,66.9 373.8,66 375.1,64.8 376.3,63.2 378.2,59.7 380.1,55 377.2,52.3 375.4,57.1 373.5,60.6 371.6,63 369.7,64.5 367.9,65.2 366.6,65.3 365.4,65.3 362.9,64.7 356.6,62.4 353.5,61.5 350.4,61.3 348.5,61.6 347.2,61.9 344.7,63 341.6,65 338.5,67.8 330.4,75.9 327.9,77.8 326,78.6 324.7,78.9 323.5,78.8 322.2,78.3 321,77.4 319.1,75.1 317.2,71.5"/>
<polygon fill="url(#b15)" points="321.5,71.4 323.4,75.1 325.2,77.6 327.1,78.9 329,79.2 330.9,78.9 333.4,77.5 335.9,75.5 342.1,69.6 345.2,66.9 348.4,64.9 351.5,63.6 354,63.3 357.1,63.5 360.2,64.5 365.9,66.9 368.4,67.9 370.9,68.3 372.7,68.1 374,67.6 375.2,66.8 376.5,65.6 377.7,64 379.6,60.6 381.5,55.9 378.6,53.8 376.8,58.6 374.9,62 373.6,63.7 372.4,65 371.1,65.8 369.9,66.3 368,66.6 365.5,66.3 363,65.5 357.4,63.2 354.3,62.4 351.1,62.3 348.6,62.8 345.5,64.1 342.4,66.3 339.3,69.1 333,75.3 330.5,77.4 328,78.9 326.1,79.3 324.3,79 322.4,77.8 320.5,75.4 318.6,71.8"/>
<polygon fill="url(#b14)" points="322.9,70.7 324.8,74.5 326.6,77 328.5,78.3 330.4,78.7 332.3,78.4 334.8,77.1 337.3,75.2 343.5,69.3 346.6,66.7 349.8,64.8 352.9,63.6 355.4,63.3 358.5,63.6 361.6,64.6 367.3,67.2 369.8,68.2 372.3,68.7 374.1,68.5 375.4,68 376.6,67.3 377.9,66.1 379.1,64.5 381,61.1 382.9,56.5 380.1,55 378.2,59.7 376.3,63.2 375.1,64.8 373.8,66 372.6,66.9 371.3,67.4 369.4,67.6 366.9,67.2 364.4,66.4 358.8,64 355.7,63.1 352.6,62.9 350.1,63.4 346.9,64.7 343.8,66.8 340.7,69.5 334.4,75.6 331.9,77.6 329.4,79 327.6,79.4 325.7,79.1 323.8,77.8 321.9,75.4 320.1,71.7"/>
<polygon fill="url(#b13)" points="324.3,69.8 326.2,73.7 328.1,76.1 329.9,77.5 331.8,78 333.7,77.7 336.2,76.5 338.7,74.6 344.9,68.9 348.1,66.3 351.2,64.4 354.3,63.3 356.8,63 359.9,63.4 363.1,64.5 368.7,67.2 371.2,68.2 373.7,68.8 375.6,68.6 376.8,68.2 378.1,67.5 379.3,66.3 380.6,64.7 382.4,61.4 384.3,56.8 381.5,55.9 379.6,60.6 377.7,64 376.5,65.6 375.2,66.8 374,67.6 372.7,68.1 370.9,68.3 368.4,67.9 365.9,66.9 360.2,64.5 357.1,63.5 354,63.3 351.5,63.6 348.4,64.9 345.2,66.9 342.1,69.6 335.9,75.5 333.4,77.5 330.9,78.9 329,79.2 327.1,78.9 325.2,77.6 323.4,75.1 321.5,71.4"/>
<polygon fill="url(#b12)" points="325.7,68.7 327.6,72.5 329.5,75.1 331.4,76.5 333.2,77 335.1,76.7 337.6,75.5 340.1,73.7 346.4,68.1 349.5,65.6 352.6,63.8 355.7,62.8 358.2,62.5 361.4,63 364.5,64.1 370.1,67 372.6,68 375.1,68.6 377,68.5 378.2,68.1 379.5,67.4 380.7,66.3 382,64.7 383.9,61.5 385.7,56.9 382.9,56.5 381,61.1 379.1,64.5 377.9,66.1 376.6,67.3 375.4,68 374.1,68.5 372.3,68.7 369.8,68.2 367.3,67.2 361.6,64.6 358.5,63.6 355.4,63.3 352.9,63.6 349.8,64.8 346.6,66.7 343.5,69.3 337.3,75.2 334.8,77.1 332.3,78.4 330.4,78.7 328.5,78.3 326.6,77 324.8,74.5 322.9,70.7"/>
<polygon fill="url(#b11)" points="327.1,67.3 329,71.2 330.9,73.7 332.8,75.2 334.6,75.7 336.5,75.5 339,74.4 341.5,72.6 347.8,67.1 350.9,64.7 354,63 357.1,62 359.6,61.8 362.8,62.4 365.9,63.6 371.5,66.5 374,67.6 376.5,68.3 378.4,68.2 379.6,67.8 380.9,67.1 382.1,66 383.4,64.5 385.3,61.3 387.1,56.7 384.3,56.8 382.4,61.4 380.6,64.7 379.3,66.3 378.1,67.5 376.8,68.2 375.6,68.6 373.7,68.8 371.2,68.2 368.7,67.2 363.1,64.5 359.9,63.4 356.8,63 354.3,63.3 351.2,64.4 348.1,66.3 344.9,68.9 338.7,74.6 336.2,76.5 333.7,77.7 331.8,78 329.9,77.5 328.1,76.1 326.2,73.7 324.3,69.8"/>
<polygon fill="url(#b10)" points="328.6,65.7 330.4,69.6 332.3,72.3 334.2,73.7 336.1,74.3 337.9,74.2 340.4,73.1 342.9,71.3 349.2,66 352.3,63.7 355.4,62 358.6,61.1 361.1,60.9 364.2,61.5 367.3,62.8 372.9,65.9 375.4,67 377.9,67.7 379.8,67.7 381.1,67.3 382.3,66.7 383.6,65.6 384.8,64.1 386.7,60.9 388.6,56.4 385.7,56.9 383.9,61.5 382,64.7 380.7,66.3 379.5,67.4 378.2,68.1 377,68.5 375.1,68.6 372.6,68 370.1,67 364.5,64.1 361.4,63 358.2,62.5 355.7,62.8 352.6,63.8 349.5,65.6 346.4,68.1 340.1,73.7 337.6,75.5 335.1,76.7 333.2,77 331.4,76.5 329.5,75.1 327.6,72.5 325.7,68.7"/>
<polygon fill="url(#b9)" points="330,64 331.9,68 333.7,70.6 335,71.8 336.2,72.5 337.5,72.8 338.7,72.8 340.6,72.2 343.1,70.8 351.2,64.2 354.4,62.1 357.5,60.6 360,60 361.2,59.9 363.1,60 366.2,60.8 369.4,62.2 375.6,65.7 378.1,66.7 379.4,67 380.6,67.1 382.5,66.7 384.4,65.6 386.2,63.6 388.1,60.4 390,55.9 387.1,56.7 385.3,61.3 383.4,64.5 382.1,66 380.9,67.1 379.6,67.8 378.4,68.2 376.5,68.3 374,67.6 371.5,66.5 365.9,63.6 362.8,62.4 359.6,61.8 357.1,62 354,63 350.9,64.7 347.8,67.1 341.5,72.6 339,74.4 336.5,75.5 334.6,75.7 332.8,75.2 330.9,73.7 329,71.2 327.1,67.3"/>
<polygon fill="url(#b8)" points="331.4,62.2 333.3,66.2 335.1,68.9 336.4,70.1 337.6,70.8 338.9,71.1 340.1,71.1 342,70.7 344.5,69.3 352.6,62.9 355.8,60.8 358.9,59.4 361.4,58.8 362.6,58.7 364.5,58.9 367.6,59.7 370.8,61.2 377,64.9 379.5,65.9 380.8,66.3 382,66.4 383.9,66 385.8,64.9 387.6,62.9 389.5,59.8 391.4,55.4 388.6,56.4 386.7,60.9 384.8,64.1 383.6,65.6 382.3,66.7 381.1,67.3 379.8,67.7 377.9,67.7 375.4,67 372.9,65.9 367.3,62.8 364.2,61.5 361.1,60.9 358.6,61.1 355.4,62 352.3,63.7 349.2,66 342.9,71.3 340.4,73.1 337.9,74.2 336.1,74.3 334.2,73.7 332.3,72.3 330.4,69.6 328.6,65.7"/>
<polygon fill="url(#b7)" points="332.8,60.4 334.7,64.4 336.6,67.2 338.4,68.8 340.3,69.5 342.2,69.4 344.7,68.5 347.2,66.9 353.4,62 356.6,59.8 359.7,58.3 362.8,57.6 365.3,57.6 368.4,58.4 371.6,59.9 377.2,63.3 379.7,64.6 382.2,65.4 384.1,65.5 385.3,65.3 386.6,64.7 387.8,63.7 389.1,62.3 390.9,59.2 392.8,54.8 390,55.9 388.1,60.4 386.2,63.6 384.4,65.6 382.5,66.7 380.6,67.1 379.4,67 378.1,66.7 375.6,65.7 369.4,62.2 366.2,60.8 363.1,60 361.2,59.9 360,60 357.5,60.6 354.4,62.1 351.2,64.2 343.1,70.8 340.6,72.2 338.7,72.8 337.5,72.8 336.2,72.5 335,71.8 333.7,70.6 331.9,68 330,64"/>
<polygon fill="url(#b6)" points="334.2,58.6 336.1,62.6 338,65.4 339.8,67.1 341.7,67.8 343.6,67.8 346.1,66.9 348.6,65.4 354.8,60.6 358,58.5 361.1,57 364.2,56.4 366.7,56.5 369.8,57.3 373,58.8 378.6,62.4 381.1,63.8 383.6,64.6 385.5,64.8 386.7,64.5 388,64 389.2,63 390.5,61.6 392.3,58.6 394.2,54.2 391.4,55.4 389.5,59.8 387.6,62.9 385.8,64.9 383.9,66 382,66.4 380.8,66.3 379.5,65.9 377,64.9 370.8,61.2 367.6,59.7 364.5,58.9 362.6,58.7 361.4,58.8 358.9,59.4 355.8,60.8 352.6,62.9 344.5,69.3 342,70.7 340.1,71.1 338.9,71.1 337.6,70.8 336.4,70.1 335.1,68.9 333.3,66.2 331.4,62.2"/>
<polygon fill="url(#b5)" points="335.6,56.8 337.5,60.9 339.4,63.7 340.6,65 341.9,65.8 343.1,66.2 344.4,66.3 346.3,65.9 348.8,64.7 351.3,63 356.9,58.8 360,56.9 363.1,55.6 365.6,55.2 366.9,55.3 368.8,55.5 371.9,56.6 375,58.3 381.3,62.3 383.8,63.5 385,63.9 386.3,64.1 388.1,63.9 390,62.9 391.9,61 393.8,58 395.6,53.7 392.8,54.8 390.9,59.2 389.1,62.3 387.8,63.7 386.6,64.7 385.3,65.3 384.1,65.5 382.2,65.4 379.7,64.6 377.2,63.3 371.6,59.9 368.4,58.4 365.3,57.6 362.8,57.6 359.7,58.3 356.6,59.8 353.4,62 347.2,66.9 344.7,68.5 342.2,69.4 340.3,69.5 338.4,68.8 336.6,67.2 334.7,64.4 332.8,60.4"/>
<polygon fill="url(#b4)" points="337.1,55.2 338.9,59.3 340.8,62.2 342.7,63.9 344.6,64.7 346.4,64.8 348.9,64 351.4,62.6 357.7,58 360.8,56.1 363.9,54.8 365.8,54.3 367.1,54.2 369.6,54.4 372.7,55.4 375.8,57.1 381.4,60.8 383.9,62.3 386.4,63.3 388.3,63.5 389.6,63.3 390.8,62.8 392.1,61.9 393.3,60.5 395.2,57.6 397.1,53.3 394.2,54.2 392.3,58.6 390.5,61.6 389.2,63 388,64 386.7,64.5 385.5,64.8 383.6,64.6 381.1,63.8 378.6,62.4 373,58.8 369.8,57.3 366.7,56.5 364.2,56.4 361.1,57 358,58.5 354.8,60.6 348.6,65.4 346.1,66.9 343.6,67.8 341.7,67.8 339.8,67.1 338,65.4 336.1,62.6 334.2,58.6"/>
<polygon fill="url(#b3)" points="338.5,53.7 340.3,57.9 342.2,60.8 344.1,62.5 346,63.4 347.8,63.5 350.3,62.8 352.8,61.4 359.1,57 362.2,55.1 365.3,53.8 367.2,53.5 368.5,53.4 371,53.6 374.1,54.7 377.2,56.4 382.8,60.3 385.3,61.8 387.8,62.8 389.7,63.1 391,62.9 392.2,62.4 393.5,61.6 394.7,60.2 396.6,57.3 398.5,53.1 395.6,53.7 393.8,58 391.9,61 390,62.9 388.1,63.9 386.3,64.1 385,63.9 383.8,63.5 381.3,62.3 375,58.3 371.9,56.6 368.8,55.5 366.9,55.3 365.6,55.2 363.1,55.6 360,56.9 356.9,58.8 351.3,63 348.8,64.7 346.3,65.9 344.4,66.3 343.1,66.2 341.9,65.8 340.6,65 339.4,63.7 337.5,60.9 335.6,56.8"/>
<polygon fill="url(#b2)" points="339.9,52.4 341.8,56.7 343.6,59.6 344.9,60.9 346.1,61.8 347.4,62.3 348.6,62.4 350.5,62.2 353,61.1 355.5,59.6 361.1,55.7 364.3,54 367.4,53 369.9,52.7 371.1,52.8 373,53.2 376.1,54.4 379.3,56.3 385.5,60.8 388,62.1 390.5,62.9 392.4,62.7 394.3,61.9 396.1,60.1 398,57.3 399.9,53 397.1,53.3 395.2,57.6 393.3,60.5 392.1,61.9 390.8,62.8 389.6,63.3 388.3,63.5 386.4,63.3 383.9,62.3 381.4,60.8 375.8,57.1 372.7,55.4 369.6,54.4 367.1,54.2 365.8,54.3 363.9,54.8 360.8,56.1 357.7,58 351.4,62.6 348.9,64 346.4,64.8 344.6,64.7 342.7,63.9 340.8,62.2 338.9,59.3 337.1,55.2"/>
<polygon fill="url(#b1)" points="341.3,51.4 343.2,55.7 345.1,58.6 346.9,60.5 348.8,61.4 350.7,61.6 351.9,61.4 353.2,61 355.7,59.7 361.9,55.5 365.1,53.8 368.2,52.7 370.1,52.4 371.3,52.3 373.8,52.7 376.9,53.9 380.1,55.7 385.7,59.8 388.2,61.5 390.7,62.6 392.6,62.9 393.8,62.8 395.1,62.4 396.3,61.6 397.6,60.3 399.4,57.4 401.3,53.3 398.5,53.1 396.6,57.3 394.7,60.2 393.5,61.6 392.2,62.4 391,62.9 389.7,63.1 387.8,62.8 385.3,61.8 382.8,60.3 377.2,56.4 374.1,54.7 371,53.6 368.5,53.4 367.2,53.5 365.3,53.8 362.2,55.1 359.1,57 352.8,61.4 350.3,62.8 347.8,63.5 346,63.4 344.1,62.5 342.2,60.8 340.3,57.9 338.5,53.7"/>
<polygon fill="url(#b0)" points="341.3,51.4 343.2,55.7 345.1,58.6 346.9,60.5 348.8,61.4 350.7,61.6 351.9,61.4 353.2,61 355.7,59.7 361.9,55.5 365.1,53.8 368.2,52.7 370.1,52.4 371.3,52.3 373.8,52.7 376.9,53.9 380.1,55.7 385.7,59.8 388.2,61.5 390.7,62.6 392.6,62.9 393.8,62.8 395.1,62.4 396.3,61.6 397.6,60.3 399.4,57.4 401.3,53.3 399.9,53 398,57.3 396.1,60.1 394.3,61.9 392.4,62.7 390.5,62.9 388,62.1 385.5,60.8 379.3,56.3 376.1,54.4 373,53.2 371.1,52.8 369.9,52.7 367.4,53 364.3,54 361.1,55.7 355.5,59.6 353,61.1 350.5,62.2 348.6,62.4 347.4,62.3 346.1,61.8 344.9,60.9 343.6,59.6 341.8,56.7 339.9,52.4"/>
</g>
<line x1="71.1" y1="236.4" x2="24.2" y2="211.1" stroke="#e8e8e8" stroke-width="0.35"/>
<line x1="24.2" y1="211.1" x2="24.2" y2="157.7" stroke="#e8e8e8" stroke-width="0.35"/>
<line x1="101.35" y1="226.55" x2="54.45" y2="201.25" stroke="#e8e8e8" stroke-width="0.35"/>
<line x1="54.45" y1="201.25" x2="54.45" y2="147.85" stroke="#e8e8e8" stroke-width="0.35"/>
<line x1="131.6" y1="216.7" x2="84.7" y2="191.4" stroke="#e8e8e8" stroke-width="0.35"/>
<line x1="84.7" y1="191.4" x2="84.7" y2="138" stroke="#e8e8e8" stroke-width="0.35"/>
<line x1="71.1" y1="236.4" x2="131.6" y2="216.7" stroke="#e8e8e8" stroke-width="0.35"/>
<line x1="131.6" y1="216.7" x2="131.6" y2="163.3" stroke="#e8e8e8" stroke-width="0.35"/>
<line x1="47.65" y1="223.75" x2="108.15" y2="204.05" stroke="#e8e8e8" stroke-width="0.35"/>
<line x1="108.15" y1="204.05" x2="108.15" y2="150.65" stroke="#e8e8e8" stroke-width="0.35"/>
<line x1="24.2" y1="211.1" x2="84.7" y2="191.4" stroke="#e8e8e8" stroke-width="0.35"/>
<line x1="84.7" y1="191.4" x2="84.7" y2="138" stroke="#e8e8e8" stroke-width="0.35"/>
<line x1="24.2" y1="211.1" x2="84.7" y2="191.4" stroke="#e8e8e8" stroke-width="0.35"/>
<line x1="84.7" y1="191.4" x2="131.6" y2="216.7" stroke="#e8e8e8" stroke-width="0.35"/>
<line x1="24.2" y1="200.53" x2="84.7" y2="180.83" stroke="#e8e8e8" stroke-width="0.35"/>
<line x1="84.7" y1="180.83" x2="131.6" y2="206.13" stroke="#e8e8e8" stroke-width="0.35"/>
<line x1="24.2" y1="189.95" x2="84.7" y2="170.25" stroke="#e8e8e8" stroke-width="0.35"/>
<line x1="84.7" y1="170.25" x2="131.6" y2="195.55" stroke="#e8e8e8" stroke-width="0.35"/>
<line x1="24.2" y1="179.38" x2="84.7" y2="159.68" stroke="#e8e8e8" stroke-width="0.35"/>
<line x1="84.7" y1="159.68" x2="131.6" y2="184.98" stroke="#e8e8e8" stroke-width="0.35"/>
<line x1="24.2" y1="168.8" x2="84.7" y2="149.1" stroke="#e8e8e8" stroke-width="0.35"/>
<line x1="84.7" y1="149.1" x2="131.6" y2="174.4" stroke="#e8e8e8" stroke-width="0.35"/>
<line x1="24.2" y1="158.23" x2="84.7" y2="138.53" stroke="#e8e8e8" stroke-width="0.35"/>
<line x1="84.7" y1="138.53" x2="131.6" y2="163.83" stroke="#e8e8e8" stroke-width="0.35"/>
<g fill="none" stroke-width="0.4" opacity="0.75">
<polyline points="122.4,211.7 120.1,212 117.6,212.2 115.5,212.4 113.1,212.6 110.6,212.7 108.3,212.8 106,212.9 103.6,213 101.5,213 99.5,213 97.1,212.9 94.6,212.9 92.6,212.8 90.4,212.8 88,212.8 85.6,212.8 83.2,212.9 81,212.9 78.7,213 76.5,213.2 74.4,213.3 71.9,213.5 69.4,213.7 67.3,213.9 65,214.1 62.4,214.3 60.3,214.5 57.9,214.7 55.4,214.9 53.3,215 51.1,215.2 48.6,215.3 46.1,215.5 43.8,215.6 41.5,215.6 39.4,215.6 37.3,215.6 34.9,215.4 32.6,215.1 31.1,214.8" stroke="#4742e6"/>
<polyline points="26.1,212.1 25.9,211.9 25.7,211.6 25.6,211.4 25.5,211.3 25.4,211.1 25.2,210.8" stroke="#4742e6"/>
<polyline points="127.5,214.5 125.6,214.8 123.7,215.1 121.8,215.3 119.9,215.6 117.9,215.9 116,216.1 114.1,216.4 112.1,216.6 110.3,216.9 108.6,217.1 106.8,217.3 104.8,217.5 102.8,217.7 100.8,217.9 99.3,218.1 97.3,218.3 95.2,218.4 93.7,218.6 91.6,218.7 89.8,218.8 88,218.9 86.1,219 84.3,219.1 82.5,219.1 80.5,219.2 78.9,219.3 76.9,219.3 75,219.3 73.5,219.4 71.4,219.4 69.6,219.4 68,219.5 65.8,219.5 64.2,219.6 62.3,219.7 60.4,219.7 58.8,219.8 56.7,219.9 55.1,220 53,220.1 51.3,220.2 49.3,220.3 47.5,220.4 45.7,220.5 43.7,220.7 42.1,220.8 42.1,220.8" stroke="#4466fd"/>
<polyline points="130.9,216.3 129,216.6 127.2,216.9 125.3,217.2 123.4,217.5 121.5,217.8 119.6,218.1 117.7,218.4 115.8,218.7 113.9,219 112,219.2 110.1,219.5 108.2,219.8 106.3,220.1 104.4,220.3 102.4,220.6 100.5,220.8 98.5,221.1 96.7,221.3 95,221.5 93.2,221.7 91.2,222 89.2,222.2 87.2,222.4 85.7,222.5 83.7,222.7 81.6,222.9 80,223 78.1,223.2 76,223.3 74.5,223.4 72.3,223.5 70.9,223.6 68.6,223.7 67.2,223.8 64.9,223.9 63.4,224 61.4,224 59.6,224.1 57.9,224.1 55.8,224.2 54.2,224.2 52.2,224.3 50.4,224.4 48.9,224.4" stroke="#2d8af4"/>
<polyline points="122.5,219.7 121.3,219.8 120,220 118.5,220.3 116.9,220.5 115.6,220.7 114.4,220.9 112.6,221.2 111.2,221.4 110,221.6 108.7,221.8 106.8,222.1 105.5,222.3 104.3,222.5 103,222.6 101.1,222.9 99.8,223.1 98.5,223.3 97.2,223.5 95.6,223.7 94,223.9 92.7,224.1 91.4,224.3 90.1,224.4 88.5,224.6 86.9,224.8 85.6,225 84.2,225.2 82.9,225.3 81.6,225.5 80.2,225.6 78.7,225.8 77.2,226 75.7,226.1 74.2,226.3 72.8,226.4 71.4,226.5 70,226.7 68.6,226.8 67.2,226.9 65.8,227 64.4,227.1 63,227.2 61.7,227.3 60.4,227.4 59.1,227.4 57.9,227.5 56.4,227.6 54.9,227.7 54.9,227.7" stroke="#1da9e0"/>
<polyline points="112.1,223 111.3,223.2 110.1,223.3 109.4,223.5 108.2,223.7 107.5,223.8 106.2,224 105.6,224 104.3,224.2 103.7,224.3 102.5,224.5 101.8,224.6 100.6,224.8 99.9,224.9 98.7,225.1 98,225.2 96.8,225.4 96.1,225.5 94.9,225.7 94.2,225.8 92.9,225.9 92.3,226 91,226.2 90.4,226.3 89.1,226.5 88.5,226.6 87.2,226.8 86.5,226.8 85.4,227 84.6,227.1 83.6,227.2 82.7,227.4 81.9,227.5 80.7,227.6 80.1,227.7 78.8,227.9 78.1,228 76.8,228.1 76.1,228.2 75.1,228.3 74.2,228.5 73.4,228.5 72.2,228.7 71.5,228.8 70.2,228.9 69.5,229 68.6,229.1 67.5,229.2 66.8,229.3 65.5,229.4 64.8,229.5 64,229.6 62.7,229.7 62,229.8 61.1,229.9 60,230 59.3,230 59.3,230" stroke="#0dbdbb"/>
<polyline points="102.8,226.1 101.6,226.3 100.8,226.4 99.7,226.6 98.8,226.7 97.8,226.8 96.9,227 96,227.1 94.9,227.3 94.1,227.4 93,227.6 92.2,227.7 91.1,227.9 90.3,228 89.2,228.2 88.4,228.3 87.3,228.4 86.5,228.5 85.4,228.7 84.5,228.8 83.5,229 82.6,229.1 81.7,229.2 80.7,229.4 79.8,229.5 78.8,229.6 78,229.7 76.9,229.9 76.2,230 74.9,230.2 74.3,230.3 73,230.4 72.3,230.5 71,230.7 70.4,230.8 69.3,230.9 68.4,231 67.6,231.1 66.4,231.3 65.8,231.3 64.4,231.5 63.8,231.6 62.7,231.7 62.4,231.7" stroke="#43ca8a"/>
<polyline points="94.2,228.9 93.7,229 93,229.1 92.4,229.1 92.3,229.2 91.8,229.2 91.2,229.3 90.5,229.4 90.3,229.5 89.9,229.5 89.3,229.6 88.6,229.7 88.4,229.8 88,229.8 87.4,229.9 86.7,230 86.4,230.1 86.1,230.1 85.5,230.2 84.8,230.3 84.5,230.4 84.2,230.4 83.6,230.5 82.9,230.6 82.6,230.6 82.3,230.7 81.7,230.8 81,230.9 80.7,230.9 80.4,231 79.8,231 79.1,231.1 78.8,231.2 78.5,231.2 77.9,231.3 77.2,231.4 76.9,231.5 76.6,231.5 75.9,231.6 75.3,231.7 75.1,231.7 74.7,231.8 74,231.9 73.4,232 73.2,232 72.7,232.1 72.1,232.1 71.5,232.2 71.4,232.2 70.8,232.3 70.2,232.4 69.6,232.5 69.5,232.5 68.9,232.6 68.2,232.7 67.8,232.7 67.6,232.8 66.9,232.9 66.3,232.9 66,233 65.7,233 65,233.1 65,233.1" stroke="#98c946"/>
<polyline points="86.3,231.5 86.2,231.5 85.6,231.6 85,231.7 84.3,231.8 84.3,231.8 83.7,231.9 83.1,231.9 82.4,232 82.4,232.1 81.8,232.1 81.2,232.2 80.5,232.3 80.4,232.3 79.9,232.4 79.3,232.5 78.6,232.6 78.5,232.6 78,232.7 77.4,232.8 76.7,232.9 76.6,232.9 76.1,233 75.5,233.1 74.8,233.2 74.7,233.2 74.2,233.3 73.6,233.4 72.9,233.5 72.8,233.5 72.3,233.6 71.7,233.6 71,233.7 70.9,233.8 70.4,233.8 69.7,233.9 69.1,234 69,234 68.5,234.1 67.8,234.2 67.2,234.3 67.2,234.3 67.2,234.3" stroke="#e5bb2d"/>
<polyline points="78.8,233.9 78.6,233.9 78,234 77.4,234.1 76.9,234.2 76.7,234.2 76.1,234.3 75.5,234.4 74.9,234.5 74.8,234.5 74.2,234.6 73.6,234.7 73,234.8 72.9,234.8 72.3,234.9 71.7,235 71.1,235.1 71,235.1 70.4,235.2 69.8,235.2 69.2,235.3 69.1,235.3" stroke="#fcd030"/>
<polyline points="71.8,236.2 71.6,236.2 70.9,236.3" stroke="#f8f719"/>
</g>
<line x1="71.1" y1="236.4" x2="131.6" y2="216.7" stroke="#6a6a6a" stroke-width="0.4"/>
<line x1="71.1" y1="236.4" x2="24.2" y2="211.1" stroke="#6a6a6a" stroke-width="0.4"/>
<line x1="24.2" y1="211.1" x2="24.2" y2="157.7" stroke="#6a6a6a" stroke-width="0.4"/>
<defs>
<linearGradient id="c29" href="#P" gradientUnits="userSpaceOnUse" x1="64.66" y1="198.56" x2="48.95" y2="150.32"/>
<linearGradient id="c28" href="#P" gradientUnits="userSpaceOnUse" x1="65.05" y1="199.78" x2="49.34" y2="151.54"/>
<linearGradient id="c27" href="#P" gradientUnits="userSpaceOnUse" x1="65.45" y1="201.01" x2="49.74" y2="152.76"/>
<linearGradient id="c26" href="#P" gradientUnits="userSpaceOnUse" x1="65.85" y1="202.23" x2="50.14" y2="153.99"/>
<linearGradient id="c25" href="#P" gradientUnits="userSpaceOnUse" x1="66.25" y1="203.45" x2="50.54" y2="155.21"/>
<linearGradient id="c24" href="#P" gradientUnits="userSpaceOnUse" x1="66.65" y1="204.67" x2="50.94" y2="156.43"/>
<linearGradient id="c23" href="#P" gradientUnits="userSpaceOnUse" x1="67.04" y1="205.9" x2="51.34" y2="157.65"/>
<linearGradient id="c22" href="#P" gradientUnits="userSpaceOnUse" x1="67.44" y1="207.12" x2="51.73" y2="158.88"/>
<linearGradient id="c21" href="#P" gradientUnits="userSpaceOnUse" x1="67.84" y1="208.34" x2="52.13" y2="160.1"/>
<linearGradient id="c20" href="#P" gradientUnits="userSpaceOnUse" x1="68.24" y1="209.57" x2="52.53" y2="161.32"/>
<linearGradient id="c19" href="#P" gradientUnits="userSpaceOnUse" x1="68.64" y1="210.79" x2="52.93" y2="162.55"/>
<linearGradient id="c18" href="#P" gradientUnits="userSpaceOnUse" x1="69.04" y1="212.01" x2="53.33" y2="163.77"/>
<linearGradient id="c17" href="#P" gradientUnits="userSpaceOnUse" x1="69.43" y1="213.23" x2="53.72" y2="164.99"/>
<linearGradient id="c16" href="#P" gradientUnits="userSpaceOnUse" x1="69.83" y1="214.46" x2="54.12" y2="166.21"/>
<linearGradient id="c15" href="#P" gradientUnits="userSpaceOnUse" x1="70.23" y1="215.68" x2="54.52" y2="167.44"/>
<linearGradient id="c14" href="#P" gradientUnits="userSpaceOnUse" x1="70.63" y1="216.9" x2="54.92" y2="168.66"/>
<linearGradient id="c13" href="#P" gradientUnits="userSpaceOnUse" x1="71.03" y1="218.12" x2="55.32" y2="169.88"/>
<linearGradient id="c12" href="#P" gradientUnits="userSpaceOnUse" x1="71.42" y1="219.35" x2="55.72" y2="171.1"/>
<linearGradient id="c11" href="#P" gradientUnits="userSpaceOnUse" x1="71.82" y1="220.57" x2="56.11" y2="172.33"/>
<linearGradient id="c10" href="#P" gradientUnits="userSpaceOnUse" x1="72.22" y1="221.79" x2="56.51" y2="173.55"/>
<linearGradient id="c9" href="#P" gradientUnits="userSpaceOnUse" x1="72.62" y1="223.02" x2="56.91" y2="174.77"/>
<linearGradient id="c8" href="#P" gradientUnits="userSpaceOnUse" x1="73.02" y1="224.24" x2="57.31" y2="176"/>
<linearGradient id="c7" href="#P" gradientUnits="userSpaceOnUse" x1="73.41" y1="225.46" x2="57.71" y2="177.22"/>
<linearGradient id="c6" href="#P" gradientUnits="userSpaceOnUse" x1="73.81" y1="226.68" x2="58.1" y2="178.44"/>
<linearGradient id="c5" href="#P" gradientUnits="userSpaceOnUse" x1="74.21" y1="227.91" x2="58.5" y2="179.66"/>
<linearGradient id="c4" href="#P" gradientUnits="userSpaceOnUse" x1="74.61" y1="229.13" x2="58.9" y2="180.89"/>
<linearGradient id="c3" href="#P" gradientUnits="userSpaceOnUse" x1="75.01" y1="230.35" x2="59.3" y2="182.11"/>
<linearGradient id="c2" href="#P" gradientUnits="userSpaceOnUse" x1="75.41" y1="231.57" x2="59.7" y2="183.33"/>
<linearGradient id="c1" href="#P" gradientUnits="userSpaceOnUse" x1="75.8" y1="232.8" x2="60.09" y2="184.55"/>
<linearGradient id="c0" href="#P" gradientUnits="userSpaceOnUse" x1="76.2" y1="234.02" x2="60.49" y2="185.78"/>
</defs>
<g>
<polygon fill="url(#c29)" points="27.3,207.6 34.7,206.7 42.1,205.5 49.5,204 57.6,202 65,199.8 72.4,197.4 79.8,194.5 87.8,191.1 84.7,188.6 76.6,192.1 69.2,194.9 61.8,197.5 54.5,199.7 46.4,201.8 39,203.4 31.6,204.7 24.2,205.6"/>
<polygon fill="url(#c28)" points="28.9,208.5 36.3,207.7 43.7,206.5 51.1,205 59.1,203.1 66.5,201 74.6,198.3 82,195.5 89.4,192.4 86.3,189.9 78.2,193.3 70.8,196.1 63.4,198.7 56,200.9 47.9,202.9 40.6,204.5 33.2,205.7 25.8,206.6"/>
<polygon fill="url(#c27)" points="30.5,209.3 37.8,208.5 45.2,207.4 52.6,206 60.7,204.1 68.1,202 75.5,199.6 82.9,196.9 91,193.6 87.8,191.1 79.8,194.5 72.4,197.4 65,199.8 57.6,202 49.5,204 42.1,205.5 34.7,206.7 27.3,207.6"/>
<polygon fill="url(#c26)" points="32,209.9 39.4,209.2 46.8,208.1 54.2,206.8 62.3,204.9 69.7,202.9 77.1,200.6 84.5,197.9 92.5,194.7 89.4,192.4 82,195.5 74.6,198.3 66.5,201 59.1,203.1 51.1,205 43.7,206.5 36.3,207.7 28.9,208.5"/>
<polygon fill="url(#c25)" points="33.6,210.3 41,209.7 49,208.6 56.4,207.3 63.8,205.7 71.2,203.7 79.3,201.2 86.7,198.6 94.1,195.7 91,193.6 82.9,196.9 75.5,199.6 68.1,202 60.7,204.1 52.6,206 45.2,207.4 37.8,208.5 30.5,209.3"/>
<polygon fill="url(#c24)" points="35.1,210.6 42.5,210 49.9,209.1 58,207.8 65.4,206.2 72.8,204.4 80.2,202.2 87.6,199.7 95.6,196.6 92.5,194.7 84.5,197.9 77.1,200.6 69.7,202.9 62.3,204.9 54.2,206.8 46.8,208.1 39.4,209.2 32,209.9"/>
<polygon fill="url(#c23)" points="36.7,210.7 44.1,210.2 52.2,209.3 59.6,208.2 67,206.7 74.4,204.9 81.7,202.8 89.1,200.4 97.2,197.4 94.1,195.7 86.7,198.6 79.3,201.2 71.2,203.7 63.8,205.7 56.4,207.3 49,208.6 41,209.7 33.6,210.3"/>
<polygon fill="url(#c22)" points="38.3,210.7 46.3,210.2 53.7,209.5 61.1,208.4 68.5,207 75.9,205.3 83.3,203.3 90.7,201 98.8,198.1 95.6,196.6 87.6,199.7 80.2,202.2 72.8,204.4 65.4,206.2 58,207.8 49.9,209.1 42.5,210 35.1,210.6"/>
<polygon fill="url(#c21)" points="39.8,210.6 47.9,210.2 55.3,209.5 62.7,208.6 70.1,207.3 77.5,205.7 85.5,203.5 92.9,201.3 100.3,198.7 97.2,197.4 89.1,200.4 81.7,202.8 74.4,204.9 67,206.7 59.6,208.2 52.2,209.3 44.1,210.2 36.7,210.7"/>
<polygon fill="url(#c20)" points="41.4,210.3 49.5,210.1 56.9,209.5 64.3,208.6 71.6,207.4 79,205.9 87.1,203.9 94.5,201.8 101.9,199.3 98.8,198.1 90.7,201 83.3,203.3 75.9,205.3 68.5,207 61.1,208.4 53.7,209.5 46.3,210.2 38.3,210.7"/>
<polygon fill="url(#c19)" points="43,210 50.4,209.9 57.7,209.5 65.1,208.7 73.2,207.6 80.6,206.2 88,204.5 95.4,202.5 103.5,199.9 100.3,198.7 92.9,201.3 85.5,203.5 77.5,205.7 70.1,207.3 62.7,208.6 55.3,209.5 47.9,210.2 39.8,210.6"/>
<polygon fill="url(#c18)" points="44.5,209.6 51.9,209.7 59.3,209.4 66.7,208.7 74.8,207.7 82.2,206.4 89.6,204.9 97,202.9 105,200.5 101.9,199.3 94.5,201.8 87.1,203.9 79,205.9 71.6,207.4 64.3,208.6 56.9,209.5 49.5,210.1 41.4,210.3"/>
<polygon fill="url(#c17)" points="46.1,209.3 53.5,209.4 60.9,209.2 68.3,208.8 76.3,207.9 83.7,206.7 91.1,205.2 98.5,203.5 106.6,201.2 103.5,199.9 95.4,202.5 88,204.5 80.6,206.2 73.2,207.6 65.1,208.7 57.7,209.5 50.4,209.9 43,210"/>
<polygon fill="url(#c16)" points="47.6,208.9 55,209.2 62.4,209.1 69.8,208.8 77.9,208 85.3,207 92.7,205.7 100.1,204 108.2,201.9 105,200.5 97,202.9 89.6,204.9 82.2,206.4 74.8,207.7 66.7,208.7 59.3,209.4 51.9,209.7 44.5,209.6"/>
<polygon fill="url(#c15)" points="49.2,208.5 56.6,208.9 64,209 71.4,208.8 79.5,208.2 86.9,207.3 94.3,206.1 102.3,204.5 109.7,202.6 106.6,201.2 98.5,203.5 91.1,205.2 83.7,206.7 76.3,207.9 68.3,208.8 60.9,209.2 53.5,209.4 46.1,209.3"/>
<polygon fill="url(#c14)" points="50.8,208.1 58.2,208.6 65.6,208.9 73,208.8 81,208.4 89.1,207.6 96.5,206.5 103.9,205.1 111.3,203.4 108.2,201.9 100.1,204 92.7,205.7 85.3,207 77.9,208 69.8,208.8 62.4,209.1 55,209.2 47.6,208.9"/>
<polygon fill="url(#c13)" points="52.3,207.6 59.7,208.3 67.1,208.7 74.5,208.8 82.6,208.5 90,208 97.4,207.1 104.8,205.9 112.8,204.2 109.7,202.6 102.3,204.5 94.3,206.1 86.9,207.3 79.5,208.2 71.4,208.8 64,209 56.6,208.9 49.2,208.5"/>
<polygon fill="url(#c12)" points="53.9,207 61.3,207.9 68.7,208.4 76.1,208.7 84.2,208.6 91.5,208.2 98.9,207.5 106.3,206.4 114.4,204.9 111.3,203.4 103.9,205.1 96.5,206.5 89.1,207.6 81,208.4 73,208.8 65.6,208.9 58.2,208.6 50.8,208.1"/>
<polygon fill="url(#c11)" points="55.5,206.2 62.9,207.3 70.3,208 77.7,208.5 85.7,208.6 93.1,208.3 100.5,207.8 107.9,206.9 116,205.6 112.8,204.2 104.8,205.9 97.4,207.1 90,208 82.6,208.5 74.5,208.8 67.1,208.7 59.7,208.3 52.3,207.6"/>
<polygon fill="url(#c10)" points="57,205.3 64.4,206.6 71.8,207.5 79.2,208.1 87.3,208.4 95.3,208.3 102.7,207.9 110.1,207.2 117.5,206.1 114.4,204.9 106.3,206.4 98.9,207.5 91.5,208.2 84.2,208.6 76.1,208.7 68.7,208.4 61.3,207.9 53.9,207"/>
<polygon fill="url(#c9)" points="58.6,204.2 66,205.6 73.4,206.7 80.8,207.5 88.8,208 96.2,208.1 103.6,207.9 111,207.4 119.1,206.5 116,205.6 107.9,206.9 100.5,207.8 93.1,208.3 85.7,208.6 77.7,208.5 70.3,208 62.9,207.3 55.5,206.2"/>
<polygon fill="url(#c8)" points="60.2,202.7 67.6,204.3 74.9,205.6 82.3,206.6 90.4,207.3 97.8,207.6 105.9,207.6 113.3,207.3 120.7,206.6 117.5,206.1 110.1,207.2 102.7,207.9 95.3,208.3 87.3,208.4 79.2,208.1 71.8,207.5 64.4,206.6 57,205.3"/>
<polygon fill="url(#c7)" points="61.7,201 69.1,202.8 76.5,204.3 83.9,205.4 92,206.4 99.4,206.9 106.8,207.1 114.8,207 122.2,206.5 119.1,206.5 111,207.4 103.6,207.9 96.2,208.1 88.8,208 80.8,207.5 73.4,206.7 66,205.6 58.6,204.2"/>
<polygon fill="url(#c6)" points="63.3,198.8 71.3,201 78.7,202.7 86.1,204.1 93.5,205.1 100.9,205.8 108.3,206.2 115.7,206.3 123.8,206.1 120.7,206.6 113.3,207.3 105.9,207.6 97.8,207.6 90.4,207.3 82.3,206.6 74.9,205.6 67.6,204.3 60.2,202.7"/>
<polygon fill="url(#c5)" points="64.8,196.4 72.2,198.6 80.3,200.7 87.7,202.3 95.1,203.5 102.5,204.5 109.9,205.1 117.3,205.4 125.3,205.4 122.2,206.5 114.8,207 106.8,207.1 99.4,206.9 92,206.4 83.9,205.4 76.5,204.3 69.1,202.8 61.7,201"/>
<polygon fill="url(#c4)" points="66.4,193.5 73.8,196 81.2,198.1 88.6,200 96.7,201.6 104.1,202.8 111.4,203.6 118.8,204.1 126.9,204.4 123.8,206.1 115.7,206.3 108.3,206.2 100.9,205.8 93.5,205.1 86.1,204.1 78.7,202.7 71.3,201 63.3,198.8"/>
<polygon fill="url(#c3)" points="68,190.4 75.4,193 82.8,195.4 90.2,197.5 98.2,199.4 106.3,200.9 113.7,201.9 121.1,202.6 128.5,203.1 125.3,205.4 117.3,205.4 109.9,205.1 102.5,204.5 95.1,203.5 87.7,202.3 80.3,200.7 72.2,198.6 64.8,196.4"/>
<polygon fill="url(#c2)" points="69.5,186.8 76.9,189.8 84.3,192.4 91.7,194.7 99.8,196.8 107.2,198.4 114.6,199.8 122,200.8 130,201.5 126.9,204.4 118.8,204.1 111.4,203.6 104.1,202.8 96.7,201.6 88.6,200 81.2,198.1 73.8,196 66.4,193.5"/>
<polygon fill="url(#c1)" points="71.1,183 78.5,186.2 85.9,189 94,191.8 101.3,194 108.7,195.8 116.1,197.4 123.5,198.7 131.6,199.6 128.5,203.1 121.1,202.6 113.7,201.9 106.3,200.9 98.2,199.4 90.2,197.5 82.8,195.4 75.4,193 68,190.4"/>
<polygon fill="url(#c0)" points="71.1,183 78.5,186.2 85.9,189 94,191.8 101.3,194 108.7,195.8 116.1,197.4 123.5,198.7 131.6,199.6 130,201.5 122,200.8 114.6,199.8 107.2,198.4 99.8,196.8 91.7,194.7 84.3,192.4 76.9,189.8 69.5,186.8"/>
</g>
<line x1="348.73" y1="234.47" x2="300.03" y2="209.17" stroke="#e8e8e8" stroke-width="0.35"/>
<line x1="300.03" y1="209.17" x2="300.03" y2="156.87" stroke="#e8e8e8" stroke-width="0.35"/>
<line x1="360.8" y1="230.62" x2="312.1" y2="205.32" stroke="#e8e8e8" stroke-width="0.35"/>
<line x1="312.1" y1="205.32" x2="312.1" y2="153.02" stroke="#e8e8e8" stroke-width="0.35"/>
<line x1="372.87" y1="226.76" x2="324.17" y2="201.46" stroke="#e8e8e8" stroke-width="0.35"/>
<line x1="324.17" y1="201.46" x2="324.17" y2="149.16" stroke="#e8e8e8" stroke-width="0.35"/>
<line x1="384.94" y1="222.91" x2="336.24" y2="197.61" stroke="#e8e8e8" stroke-width="0.35"/>
<line x1="336.24" y1="197.61" x2="336.24" y2="145.31" stroke="#e8e8e8" stroke-width="0.35"/>
<line x1="397.01" y1="219.05" x2="348.31" y2="193.75" stroke="#e8e8e8" stroke-width="0.35"/>
<line x1="348.31" y1="193.75" x2="348.31" y2="141.45" stroke="#e8e8e8" stroke-width="0.35"/>
<line x1="337.81" y1="233.86" x2="397.91" y2="214.66" stroke="#e8e8e8" stroke-width="0.35"/>
<line x1="397.91" y1="214.66" x2="397.91" y2="162.36" stroke="#e8e8e8" stroke-width="0.35"/>
<line x1="328.03" y1="228.78" x2="388.13" y2="209.58" stroke="#e8e8e8" stroke-width="0.35"/>
<line x1="388.13" y1="209.58" x2="388.13" y2="157.28" stroke="#e8e8e8" stroke-width="0.35"/>
<line x1="318.25" y1="223.7" x2="378.35" y2="204.5" stroke="#e8e8e8" stroke-width="0.35"/>
<line x1="378.35" y1="204.5" x2="378.35" y2="152.2" stroke="#e8e8e8" stroke-width="0.35"/>
<line x1="308.47" y1="218.62" x2="368.57" y2="199.42" stroke="#e8e8e8" stroke-width="0.35"/>
<line x1="368.57" y1="199.42" x2="368.57" y2="147.12" stroke="#e8e8e8" stroke-width="0.35"/>
<line x1="298.69" y1="213.54" x2="358.79" y2="194.34" stroke="#e8e8e8" stroke-width="0.35"/>
<line x1="358.79" y1="194.34" x2="358.79" y2="142.04" stroke="#e8e8e8" stroke-width="0.35"/>
<line x1="294" y1="211.1" x2="354.1" y2="191.9" stroke="#e8e8e8" stroke-width="0.35"/>
<line x1="354.1" y1="191.9" x2="402.8" y2="217.2" stroke="#e8e8e8" stroke-width="0.35"/>
<line x1="294" y1="201.93" x2="354.1" y2="182.73" stroke="#e8e8e8" stroke-width="0.35"/>
<line x1="354.1" y1="182.73" x2="402.8" y2="208.03" stroke="#e8e8e8" stroke-width="0.35"/>
<line x1="294" y1="192.76" x2="354.1" y2="173.56" stroke="#e8e8e8" stroke-width="0.35"/>
<line x1="354.1" y1="173.56" x2="402.8" y2="198.86" stroke="#e8e8e8" stroke-width="0.35"/>
<line x1="294" y1="183.59" x2="354.1" y2="164.39" stroke="#e8e8e8" stroke-width="0.35"/>
<line x1="354.1" y1="164.39" x2="402.8" y2="189.69" stroke="#e8e8e8" stroke-width="0.35"/>
<line x1="294" y1="174.41" x2="354.1" y2="155.21" stroke="#e8e8e8" stroke-width="0.35"/>
<line x1="354.1" y1="155.21" x2="402.8" y2="180.51" stroke="#e8e8e8" stroke-width="0.35"/>
<line x1="294" y1="165.24" x2="354.1" y2="146.04" stroke="#e8e8e8" stroke-width="0.35"/>
<line x1="354.1" y1="146.04" x2="402.8" y2="171.34" stroke="#e8e8e8" stroke-width="0.35"/>
<g fill="none" stroke-width="0.4" opacity="0.75">
<polyline points="392.2,220.6 391.1,220.6 390,220.6 389.2,220.6 388.4,220.7 387.6,220.7 386.4,220.7 385.4,220.8 384.7,220.8 383.9,220.9 382.5,221 381.8,221 381.1,221.1 379.7,221.2 379.1,221.3 378,221.4 377.1,221.5 376.1,221.6 375.2,221.8 374,222 373.4,222.1 372.3,222.4 371.2,222.6 370.2,222.9 369.2,223.3 368.3,223.6 367.4,224 367,224.2 366.2,224.6 365.6,225 365.1,225.3 364.7,225.6 364.1,226.1 363.8,226.4 363.5,226.7 363,227.2 362.7,227.5 362.5,227.8 362.2,228.1 361.9,228.6 361.6,229 361.4,229.3 361.3,229.7 361.1,230 360.9,230.3 360.8,230.6" stroke="#4539d9"/>
<polyline points="341.7,235.9 341.4,235.3 341.1,234.7 340.7,234.1 340.4,233.5 340,232.9 339.6,232.3 339.2,231.7 338.8,231.2 338.4,230.6 338,230.1 337.6,229.5 336.9,228.8 336.4,228.2 335.9,227.7 335.4,227.1 334.6,226.4 334,225.9 333.1,225.2 332.5,224.7 331.5,224 330.5,223.3 329.7,222.9 328.5,222.2 327.2,221.6 326.4,221.2 325,220.6 323.5,220.1 322.5,219.7 321.1,219.3 319.7,218.9 318.6,218.6 317.4,218.3 316.1,218 314.8,217.7 313.5,217.4 312.2,217.2 310.9,216.9 309.5,216.7 308.1,216.5 306.6,216.3 305.2,216 304,215.9 302.9,215.7" stroke="#4539d9"/>
<polyline points="392.8,212 392.8,212.2 392.7,212.4 392.5,212.7 392.5,212.7 392.2,212.9 391.9,213.2 391.9,213.2 391.6,213.5 391.5,213.6 391.5,213.8 391.4,214 391.4,214.2 391.5,214.3 391.7,214.6 391.9,214.9 392.3,215.1 392.3,215.1 392.7,215.3 392.8,215.4 393.1,215.5 393.6,215.7 394.1,215.9 394.7,216 395.2,216.2 395.3,216.2 395.9,216.4 396.5,216.5 396.7,216.5 397.1,216.6 397.7,216.8 398,216.8 398.4,216.9 399.1,217 399.3,217.1 399.8,217.2 400.5,217.3 400.5,217.3 401.2,217.4 401.7,217.5 401.9,217.5 401.9,217.5" stroke="#4539d9"/>
<polyline points="295.5,210.6 296.1,210.5 296.6,210.4 297.2,210.2 297.6,210 298,209.8 298.1,209.8" stroke="#4539d9"/>
<polyline points="350.9,192.9 351.1,193.3 351.5,193.8 351.7,194 352.1,194.6 352.3,194.9 352.8,195.4 353,195.7 353.4,196.2 353.7,196.5 354.2,197 354.4,197.2 354.9,197.8 355.2,198 355.8,198.5 356.1,198.8 356.6,199.3 357.2,199.7 357.6,200 358.2,200.5 358.9,200.9 359.6,201.4 360.3,201.8 360.7,202.1 361.4,202.5 362.2,202.9 363.1,203.3 363.8,203.7 364.4,203.9 365.3,204.3 366.3,204.7 367.2,205.1 367.7,205.2 368.8,205.6 369.8,205.9 370.4,206.1 371.5,206.4 372,206.6 373.2,206.9 373.8,207.1 374.9,207.4 375.5,207.5 376.5,207.8 377.4,208 378,208.1 379.3,208.4 379.9,208.5 380.8,208.7 381.8,208.9 382.4,209.1 383.5,209.3 384.4,209.5 385,209.6 386.2,209.8 386.9,210 387.6,210.1 388.8,210.4 389.4,210.6 390.6,210.9 390.7,210.9" stroke="#4539d9"/>
<polyline points="390,221.3 389.7,221.3 388.9,221.3 388.7,221.4 388.2,221.4 387.5,221.4 387.4,221.4 386.8,221.5 386.1,221.5 386.1,221.5 385.3,221.6 384.7,221.6 384.6,221.6 383.9,221.7 383.3,221.8 383.2,221.8 382.6,221.8 381.9,221.9 381.6,221.9 381.3,222 380.6,222.1 380,222.1 379.8,222.2 379.3,222.2 378.7,222.3 378.1,222.4 377.7,222.5 377.5,222.5 376.9,222.6 376.3,222.8 375.7,222.9 375.2,223 374.6,223.1 374.5,223.2 374.1,223.3 373.5,223.4 373,223.6 372.5,223.7 372,223.9 371.5,224.1 371,224.2 370.6,224.4 370.5,224.5 370.1,224.6 369.7,224.8 369.3,225 368.9,225.2 368.5,225.4 368.3,225.5 368.1,225.6 367.7,225.9 367.3,226.1 367.1,226.2 367,226.3 366.6,226.6 366.3,226.8 366.3,226.8 366,227.1 365.7,227.3 365.6,227.4 365.4,227.6 365.1,227.9 365.1,227.9 364.8,228.1 364.6,228.4 364.6,228.4 364.3,228.7 364.2,228.9 364,229 363.8,229.3 363.8,229.3 363.6,229.6 363.5,229.8 363.5,229.8" stroke="#4851f4"/>
<polyline points="339.7,234.8 339.4,234.4 339.2,234.1 338.9,233.6 338.7,233.3 338.4,232.9 338.1,232.4 337.9,232.2 337.4,231.6 337.2,231.3 336.8,230.8 336.6,230.5 336.1,230 335.9,229.7 335.4,229.2 335.1,228.9 334.6,228.4 334.3,228.2 333.8,227.7 333.5,227.4 332.9,226.9 332.3,226.4 332,226.2 331.4,225.7 330.7,225.2 330.2,224.8 329.7,224.5 329,224.1 328.2,223.7 327.5,223.2 326.7,222.8 325.8,222.4 324.9,222 324,221.6 323.5,221.4 322.6,221 321.6,220.7 320.7,220.3 320.1,220.1 319,219.8 318.5,219.6 317.3,219.3 316.8,219.2 315.6,218.8 315,218.7 313.8,218.4 313.2,218.3 312.3,218.1 311.2,217.8 310.6,217.7 309.6,217.5 308.6,217.3 307.9,217.2 307.1,217.1 305.9,216.9 305.2,216.7 304.7,216.7" stroke="#4851f4"/>
<polyline points="352.3,192.5 352.5,192.8 352.9,193.3 353.1,193.6 353.6,194.1 353.8,194.4 354.3,194.9 354.5,195.2 355,195.7 355.3,196 355.8,196.5 356,196.7 356.6,197.2 357,197.6 357.4,198 358,198.5 358.5,198.8 359,199.2 359.6,199.7 360.3,200.1 360.8,200.4 361.4,200.8 362.1,201.2 362.9,201.7 363.7,202.1 364.6,202.5 365.4,202.9 366.3,203.3 366.8,203.5 367.7,203.9 368.7,204.3 369.7,204.6 370.2,204.8 371.2,205.2 372,205.4 372.8,205.7 373.9,206 374.5,206.1 375.6,206.5 376.2,206.6 377.2,206.9 378,207.1 378.8,207.2 379.9,207.5 380.5,207.6 381.6,207.9 382.4,208 383.1,208.2 384.3,208.4 385,208.6 385.7,208.7 386.9,208.9 386.9,208.9" stroke="#4851f4"/>
<polyline points="388.1,221.9 387.6,221.9 386.9,222 386.7,222 386.3,222 385.6,222.1 385.2,222.2 384.9,222.2 384.2,222.3 383.6,222.3 383.5,222.3 382.9,222.4 382.2,222.5 381.8,222.6 381.6,222.6 381,222.7 380.4,222.8 379.7,222.9 379.7,222.9 379.1,223 378.5,223.1 378,223.2 377.4,223.3 376.8,223.5 376.8,223.5 376.3,223.6 375.7,223.7 375.2,223.9 374.7,224 374.2,224.2 373.6,224.3 373.2,224.5 372.7,224.7 372.2,224.8 371.8,225 371.3,225.2 371.3,225.2 370.9,225.4 370.4,225.6 370,225.8 369.6,226 369.4,226.2 369.3,226.2 368.9,226.5 368.5,226.7 368.2,226.9 368.2,226.9 367.8,227.2 367.5,227.4 367.4,227.5 367.1,227.7 366.8,227.9 366.7,228.1 366.5,228.2 366.2,228.5 366.1,228.6 366,228.7 365.7,229 365.7,229.1 365.7,229.1" stroke="#416bfe"/>
<polyline points="338.2,234 337.8,233.5 337.6,233.3 337.2,232.7 337,232.4 336.6,232 336.3,231.6 335.9,231.2 335.6,230.8 335.2,230.4 334.9,230 334.4,229.6 334.1,229.3 333.6,228.8 333.3,228.5 332.8,228 332.4,227.7 331.9,227.3 331.3,226.8 330.8,226.5 330.3,226.1 329.6,225.6 328.9,225.1 328.2,224.7 327.8,224.5 327.1,224 326.3,223.6 325.5,223.2 324.6,222.8 323.9,222.4 323.3,222.2 322.4,221.8 321.4,221.4 320.4,221 319.9,220.9 318.9,220.5 318.1,220.2 317.3,220 316.2,219.7 315.6,219.5 314.5,219.2 313.9,219 312.9,218.8 312.1,218.6 311.4,218.5 310.2,218.2 309.5,218.1 308.6,217.9 307.6,217.7 306.9,217.5 306.1,217.4 306.1,217.4" stroke="#416bfe"/>
<polyline points="353.2,192.2 353.4,192.5 353.8,193 354,193.3 354.5,193.8 354.7,194.1 355.2,194.6 355.5,194.9 356,195.4 356.3,195.6 356.8,196.1 357.1,196.4 357.6,196.9 358.2,197.4 358.5,197.6 359.1,198.1 359.8,198.6 360.1,198.8 360.8,199.3 361.5,199.8 362.2,200.2 362.9,200.7 363.7,201.1 364.1,201.3 364.9,201.7 365.3,201.9 366.2,202.3 367.1,202.7 368,203.1 368.9,203.5 369.9,203.9 370.4,204.1 371.4,204.4 372.4,204.8 372.9,204.9 374,205.3 374.6,205.4 375.7,205.8 376.3,205.9 377.4,206.2 378,206.4 379.2,206.7 379.8,206.8 380.9,207.1 381.7,207.3 382.3,207.4 383.6,207.7 384.2,207.8 385.1,208 385.1,208" stroke="#416bfe"/>
<polyline points="386.3,222.5 385.6,222.6 384.9,222.6 384.6,222.7 384.3,222.7 383.6,222.8 383,222.9 382.8,222.9 382.4,223 381.7,223.1 381.1,223.2 380.6,223.3 380.5,223.3 379.9,223.4 379.3,223.5 378.8,223.6 378.2,223.7 377.6,223.9 377.5,223.9 377.1,224 376.6,224.2 376,224.3 375.5,224.5 375,224.6 374.5,224.8 374,224.9 373.5,225.1 373.1,225.3 372.6,225.5 372.6,225.5 372.2,225.7 371.7,225.9 371.3,226.1 370.9,226.3 370.5,226.5 370.5,226.5 370.1,226.7 369.7,226.9 369.4,227.2 369.3,227.2 369,227.4 368.7,227.6 368.4,227.9 368.3,227.9 368,228.1 367.7,228.4 367.7,228.4 367.7,228.4" stroke="#2e85f8"/>
<polyline points="336.9,233.4 336.5,232.9 336.3,232.6 335.8,232.1 335.6,231.9 335.1,231.3 334.9,231.1 334.4,230.5 334.2,230.3 333.6,229.8 333.2,229.4 332.8,229 332.3,228.5 332,228.2 331.4,227.8 330.8,227.3 330.5,227 329.8,226.6 329.1,226.1 328.5,225.7 328.1,225.4 327.4,225 326.6,224.5 325.8,224.1 325,223.7 324.2,223.2 323.3,222.8 322.4,222.4 321.8,222.2 321,221.9 320.1,221.5 319.1,221.1 318.6,221 317.5,220.6 316.6,220.3 315.9,220.1 314.8,219.8 314.2,219.6 313.1,219.3 312.5,219.2 311.5,218.9 310.6,218.7 310,218.6 308.7,218.3 308.1,218.2 307.3,218 307.3,218" stroke="#2e85f8"/>
<polyline points="353.8,192 354.2,192.3 354.5,192.8 354.8,193.1 355.2,193.6 355.5,193.9 356,194.4 356.4,194.8 356.7,195.1 357.3,195.6 357.6,195.9 358.1,196.4 358.5,196.7 359,197.1 359.6,197.6 360.1,197.9 360.6,198.3 361.3,198.8 362,199.3 362.7,199.7 363,199.9 363.8,200.4 364.6,200.8 365.4,201.2 366.2,201.7 367.1,202.1 367.9,202.4 368.4,202.7 369.3,203 370.3,203.4 371.3,203.8 371.8,204 372.8,204.3 373.7,204.6 374.4,204.8 375.5,205.2 376,205.3 377.2,205.6 377.7,205.8 378.9,206.1 379.5,206.3 380.7,206.6 381.3,206.7 382.2,206.9 383.2,207.1 383.6,207.2" stroke="#2e85f8"/>
<polyline points="384.4,223.1 384.2,223.1 383.6,223.2 383,223.3 382.4,223.4 382.3,223.4 381.8,223.5 381.2,223.6 380.6,223.7 380,223.8 379.6,223.9 379.4,224 378.9,224.1 378.3,224.2 377.8,224.4 377.2,224.5 376.7,224.7 376.2,224.8 375.7,225 375.2,225.1 374.7,225.3 374.2,225.5 373.8,225.7 373.3,225.8 372.9,226 372.5,226.2 372.5,226.2 372,226.4 371.6,226.6 371.2,226.8 370.8,227.1 370.8,227.1 370.5,227.3 370.1,227.5 369.7,227.8 369.7,227.8" stroke="#259ce7"/>
<polyline points="335.7,232.7 335.3,232.3 335,232 334.6,231.5 334.2,231.2 333.8,230.7 333.4,230.3 333,230 332.5,229.4 332.2,229.2 331.6,228.7 331.2,228.3 330.8,228 330.1,227.5 329.5,227 329.2,226.8 328.5,226.3 327.8,225.8 327.1,225.4 326.3,225 325.9,224.7 325.1,224.3 324.3,223.9 323.5,223.5 323.1,223.3 322.2,222.9 321.3,222.5 320.3,222.1 319.4,221.7 318.9,221.5 317.9,221.2 316.8,220.8 316.3,220.7 315.2,220.3 314.6,220.2 313.5,219.8 312.9,219.7 311.8,219.4 311.2,219.2 310,218.9 309.4,218.8 308.4,218.6 308.4,218.6" stroke="#259ce7"/>
<polyline points="354.8,192.3 355.1,192.6 355.5,193 355.8,193.4 356.3,193.9 356.6,194.2 357.1,194.7 357.4,194.9 357.9,195.5 358.2,195.7 358.8,196.2 359.4,196.7 359.7,196.9 360.3,197.4 360.9,197.9 361.4,198.2 361.9,198.6 362.6,199 363.4,199.5 364.1,199.9 364.9,200.4 365.7,200.8 366.5,201.2 367.3,201.6 368.2,202 369.1,202.4 370,202.8 370.9,203.1 371.5,203.4 372.5,203.7 373.5,204.1 374,204.3 375.1,204.6 375.6,204.8 376.7,205.1 377.5,205.3 378.4,205.6 379.2,205.8 380.2,206 380.8,206.2 382,206.5 382.3,206.6" stroke="#259ce7"/>
<polyline points="382.1,223.8 381.7,223.9 381.1,224 380.5,224.1 380,224.2 379.4,224.4 378.9,224.5 378.7,224.6 378.3,224.7 377.8,224.8 377.3,224.9 376.8,225.1 376.3,225.3 375.8,225.4 375.3,225.6 374.8,225.8 374.5,225.9 374.4,226 373.9,226.1 373.5,226.3 373,226.5 372.6,226.7 372.2,226.9 372.1,227" stroke="#15afd9"/>
<polyline points="334.6,232.2 334.3,231.9 334.1,231.7 333.8,231.4 333.8,231.3 333.6,231.1 333.3,230.9 333.1,230.6 332.9,230.5 332.8,230.4 332.5,230.1 332.3,229.9 332,229.6 331.9,229.5 331.7,229.4 331.4,229.1 331.1,228.9 330.8,228.6 330.6,228.4 330.5,228.4 330.2,228.1 329.9,227.9 329.6,227.7 329.3,227.4 328.9,227.2 328.7,227.1 328.6,226.9 328.3,226.7 327.9,226.5 327.6,226.3 327.2,226 326.9,225.8 326.5,225.6 326.1,225.4 325.7,225.1 325.4,224.9 325,224.7 324.6,224.5 324.2,224.3 323.7,224.1 323.3,223.9 322.9,223.7 322.5,223.5 322,223.3 321.6,223.1 321.1,222.9 320.7,222.7 320.2,222.5 319.7,222.3 319.3,222.1 319.1,222 318.8,221.9 318.3,221.7 317.8,221.5 317.3,221.4 316.8,221.2 316.5,221.1 316.2,221 315.7,220.8 315.2,220.7 314.6,220.5 314.5,220.5 314.1,220.3 313.5,220.2 313,220 312.6,219.9 312.4,219.9 311.8,219.7 311.2,219.6 311,219.5 310.6,219.4 310,219.3 309.4,219.1 309.4,219.1" stroke="#15afd9"/>
<polyline points="355.9,192.9 356.1,193 356.3,193.2 356.6,193.5 356.8,193.7 356.8,193.8 357.1,194 357.3,194.3 357.6,194.5 357.7,194.6 357.9,194.8 358.1,195 358.4,195.3 358.7,195.5 358.8,195.6 359,195.8 359.3,196 359.6,196.3 359.9,196.5 360.2,196.7 360.2,196.8 360.5,197 360.8,197.2 361.2,197.5 361.5,197.7 361.8,197.9 362.2,198.2 362.2,198.2 362.5,198.4 362.8,198.6 363.2,198.9 363.6,199.1 363.9,199.3 364.3,199.5 364.7,199.8 365.1,200 365.5,200.2 365.9,200.4 366.3,200.6 366.7,200.8 367.1,201 367.5,201.2 367.9,201.4 368.4,201.6 368.8,201.8 369.3,202 369.7,202.2 370.2,202.4 370.6,202.6 370.8,202.7 371.1,202.8 371.6,203 372.1,203.2 372.6,203.4 373.1,203.5 373.6,203.7 373.7,203.7 374.1,203.9 374.6,204.1 375.1,204.2 375.7,204.4 375.9,204.5 376.2,204.6 376.8,204.7 377.3,204.9 377.8,205 377.9,205.1 378.4,205.2 379,205.4 379.5,205.5 379.6,205.5 380.2,205.7 380.8,205.9 381.1,205.9 381.1,205.9" stroke="#15afd9"/>
<polyline points="333.5,231.6 333.4,231.5 333.2,231.3 332.9,231 332.6,230.8 332.6,230.7 332.4,230.5 332.1,230.3 331.8,230 331.5,229.8 331.5,229.8 331.2,229.5 331,229.3 330.7,229 330.4,228.8 330.2,228.6 330.1,228.5 329.7,228.3 329.4,228 329.1,227.8 328.8,227.6 328.5,227.3 328.4,227.3 328.1,227.1 327.8,226.9 327.4,226.6 327.1,226.4 326.7,226.2 326.4,226 326,225.7 325.6,225.5 325.2,225.3 324.9,225.1 324.5,224.9 324.1,224.7 323.7,224.4 323.2,224.2 322.8,224 322.4,223.8 322,223.6 321.5,223.4 321.1,223.2 320.6,223 320.2,222.8 319.7,222.6 319.2,222.4 318.7,222.3 318.7,222.2 318.3,222.1 317.8,221.9 317.3,221.7 316.8,221.5 316.2,221.4 316,221.3 315.7,221.2 315.2,221 314.7,220.8 314.1,220.7 314,220.6 313.6,220.5 313,220.3 312.5,220.2 312.1,220.1 311.9,220 311.3,219.9 310.7,219.7 310.5,219.6 310.5,219.6" stroke="#0abdbd"/>
<polyline points="357.1,193.4 357.2,193.6 357.5,193.9 357.8,194.1 358,194.4 358,194.4 358.3,194.6 358.6,194.9 358.9,195.1 359.1,195.4 359.2,195.4 359.5,195.6 359.8,195.9 360.1,196.1 360.4,196.4 360.6,196.5 360.7,196.6 361,196.8 361.3,197.1 361.6,197.3 362,197.6 362.3,197.8 362.6,198 362.6,198 363,198.3 363.3,198.5 363.7,198.7 364.1,198.9 364.4,199.2 364.8,199.4 365.2,199.6 365.6,199.8 366,200 366.4,200.2 366.8,200.5 367.2,200.7 367.6,200.9 368,201.1 368.4,201.3 368.9,201.5 369.3,201.7 369.8,201.9 370.2,202.1 370.7,202.3 371.2,202.5 371.2,202.5 371.6,202.6 372.1,202.8 372.6,203 373.1,203.2 373.6,203.4 374.1,203.5 374.1,203.6 374.6,203.7 375.1,203.9 375.7,204.1 376.2,204.2 376.3,204.3 376.7,204.4 377.3,204.6 377.8,204.7 378.2,204.9 378.4,204.9 379,205.1 379.5,205.2 380,205.4 380,205.4" stroke="#0abdbd"/>
<polyline points="332.4,231.1 332.2,230.9 332,230.6 331.7,230.4 331.4,230.1 331.4,230.1 331.1,229.9 330.8,229.6 330.6,229.4 330.3,229.1 330.1,229 329.9,228.9 329.6,228.7 329.3,228.4 329,228.2 328.7,227.9 328.4,227.7 328.3,227.7 328,227.5 327.7,227.2 327.4,227 327,226.8 326.7,226.5 326.3,226.3 325.9,226.1 325.6,225.9 325.2,225.7 324.8,225.4 324.4,225.2 324.2,225.1 324,225 323.6,224.8 323.2,224.6 322.8,224.4 322.7,224.4 322.4,224.2 321.9,224 321.5,223.8 321.1,223.6 320.6,223.4 320.2,223.2 319.7,223 319.3,222.8 318.8,222.6 318.3,222.4 317.9,222.3 317.8,222.2 317.3,222 316.8,221.9 316.3,221.7 315.8,221.5 315.4,221.4 315.3,221.3 314.8,221.2 314.2,221 313.7,220.8 313.3,220.7 313.1,220.7 312.6,220.5 312,220.3 311.5,220.2 311.5,220.2" stroke="#33c79c"/>
<polyline points="358.2,194 358.4,194.3 358.7,194.5 359,194.8 359.3,195 359.3,195 359.6,195.3 359.9,195.5 360.2,195.8 360.5,196 360.7,196.2 360.8,196.2 361.1,196.5 361.4,196.7 361.7,197 362.1,197.2 362.4,197.4 362.7,197.6 362.7,197.7 363.1,197.9 363.4,198.1 363.8,198.3 364.1,198.6 364.5,198.8 364.9,199 365.2,199.2 365.6,199.5 366,199.7 366.4,199.9 366.8,200.1 367.2,200.3 367.6,200.5 368,200.7 368.5,200.9 368.9,201.1 369.3,201.3 369.8,201.5 370.2,201.7 370.7,201.9 371.1,202.1 371.6,202.3 372,202.4 372.1,202.5 372.6,202.7 373.1,202.9 373.6,203.1 374.1,203.2 374.6,203.4 374.8,203.5 375.1,203.6 375.6,203.8 376.1,203.9 376.7,204.1 377,204.2 377.2,204.3 377.7,204.4 378.3,204.6 378.8,204.8 378.9,204.8 378.9,204.8" stroke="#33c79c"/>
<polyline points="331.3,230.5 331.3,230.5 331.1,230.2 330.8,230 330.5,229.7 330.2,229.5 330.1,229.4 329.9,229.3 329.6,229 329.3,228.8 329,228.5 328.6,228.3 328.5,228.2 328.3,228.1 328,227.8 327.7,227.6 327.3,227.4 327,227.1 326.6,226.9 326.3,226.7 325.9,226.4 325.5,226.2 325.5,226.2 325.2,226 324.8,225.8 324.4,225.6 324,225.3 323.6,225.1 323.2,224.9 322.8,224.7 322.4,224.5 322,224.3 321.5,224.1 321.1,223.9 320.7,223.7 320.6,223.7 320.2,223.5 319.8,223.3 319.3,223.1 318.9,222.9 318.4,222.7 317.9,222.5 317.4,222.3 316.9,222.2 316.9,222.2 316.4,222 315.9,221.8 315.4,221.6 314.9,221.5 314.5,221.3 314.4,221.3 313.8,221.1 313.3,220.9 312.7,220.8 312.5,220.7 312.5,220.7" stroke="#61cd72"/>
<polyline points="359.3,194.6 359.4,194.6 359.6,194.9 359.9,195.1 360.2,195.4 360.5,195.6 360.7,195.7 360.8,195.9 361.1,196.1 361.5,196.4 361.8,196.6 362.1,196.8 362.4,197.1 362.5,197.1 362.8,197.3 363.1,197.5 363.5,197.8 363.8,198 364.2,198.2 364.5,198.4 364.9,198.7 365.3,198.9 365.6,199.1 366,199.3 366.4,199.5 366.8,199.8 367.2,200 367.6,200.2 368,200.4 368.5,200.6 368.9,200.8 369.3,201 369.7,201.2 370.2,201.4 370.6,201.6 371.1,201.8 371.6,202 372,202.2 372.5,202.4 373,202.5 373,202.5 373.5,202.7 374,202.9 374.5,203.1 375,203.3 375.5,203.5 375.6,203.5 376,203.6 376.5,203.8 377.1,204 377.6,204.1 377.7,204.2 377.7,204.2" stroke="#61cd72"/>
<polyline points="330.2,229.9 330.2,229.9 329.9,229.6 329.6,229.4 329.3,229.1 328.9,228.9 328.7,228.7 328.6,228.6 328.3,228.4 328,228.2 327.7,227.9 327.3,227.7 327,227.5 326.6,227.2 326.4,227.1 326.3,227 325.9,226.8 325.6,226.6 325.2,226.3 324.8,226.1 324.4,225.9 324.1,225.7 323.7,225.5 323.3,225.2 322.9,225 322.4,224.8 322,224.6 321.6,224.4 321.2,224.2 320.8,224 320.3,223.8 319.9,223.6 319.4,223.4 319,223.2 318.9,223.2 318.5,223 318,222.8 317.5,222.6 317,222.5 316.6,222.3 316,222.1 315.9,222 315.5,221.9 315,221.7 314.5,221.6 314,221.4 313.6,221.3 313.6,221.3" stroke="#a0c841"/>
<polyline points="360.5,195.2 360.6,195.3 360.9,195.5 361.2,195.8 361.5,196 361.8,196.2 362.1,196.5 362.2,196.5 362.5,196.7 362.8,197 363.1,197.2 363.5,197.4 363.8,197.7 364.2,197.9 364.5,198.1 364.9,198.3 365.1,198.4 365.3,198.6 365.6,198.8 366,199 366.4,199.2 366.8,199.4 367.2,199.6 367.6,199.9 368,200.1 368.4,200.3 368.8,200.5 369.2,200.7 369.7,200.9 370.1,201.1 370.4,201.2 370.6,201.3 371,201.5 371.5,201.7 371.9,201.9 372.4,202.1 372.9,202.2 373.4,202.4 373.8,202.6 374.1,202.7 374.3,202.8 374.8,203 375.3,203.2 375.9,203.3 376.4,203.5 376.6,203.6 376.6,203.6" stroke="#a0c841"/>
<polyline points="329.1,229.3 328.9,229.2 328.6,229 328.3,228.7 328,228.5 327.7,228.3 327.3,228 327.1,227.9 327,227.8 326.7,227.6 326.3,227.3 326,227.1 325.6,226.9 325.2,226.7 324.9,226.4 324.5,226.2 324.1,226 323.7,225.8 323.3,225.6 322.9,225.4 322.5,225.1 322.1,224.9 321.7,224.7 321.3,224.5 320.8,224.3 320.4,224.1 320,223.9 319.5,223.7 319.1,223.5 318.6,223.3 318.1,223.1 317.7,222.9 317.4,222.9 317.2,222.8 316.7,222.6 316.2,222.4 315.7,222.2 315.2,222 314.7,221.9" stroke="#d8be28"/>
<polyline points="361.8,195.9 361.8,195.9 362.1,196.1 362.4,196.4 362.8,196.6 363.1,196.9 363.4,197.1 363.8,197.3 364,197.5 364.1,197.5 364.5,197.8 364.8,198 365.2,198.2 365.6,198.4 365.9,198.7 366.3,198.9 366.7,199.1 367.1,199.3 367.5,199.5 367.9,199.7 368.3,200 368.7,200.2 369.2,200.4 369.6,200.6 370,200.8 370.5,201 370.9,201.2 371.3,201.4 371.8,201.6 372.2,201.7 372.3,201.8 372.7,201.9 373.2,202.1 373.7,202.3 374.2,202.5 374.7,202.7 375.2,202.9 375.3,202.9" stroke="#d8be28"/>
<polyline points="327.8,228.6 327.7,228.6 327.4,228.4 327,228.1 326.7,227.9 326.4,227.7 326,227.4 325.7,227.2 325.3,227 324.9,226.8 324.8,226.7 324.6,226.5 324.2,226.3 323.8,226.1 323.4,225.9 323,225.7 322.6,225.4 322.2,225.2 321.8,225 321.4,224.8 321,224.6 320.5,224.4 320.1,224.2 319.7,224 319.7,224 319.2,223.8 318.8,223.6 318.3,223.4 317.8,223.2 317.4,223 316.9,222.9 316.4,222.7 316,222.5" stroke="#febe3c"/>
<polyline points="363.2,196.6 363.4,196.8 363.7,197 364.1,197.2 364.4,197.5 364.8,197.7 365.1,197.9 365.5,198.1 365.9,198.4 366.3,198.6 366.6,198.8 367,199 367.4,199.2 367.8,199.4 368.2,199.6 368.6,199.9 369,200.1 369.5,200.3 369.9,200.5 370.3,200.7 370.8,200.9 371.2,201.1 371.7,201.3 372.1,201.5 372.6,201.7 373.1,201.8 373.5,202 373.8,202.2" stroke="#febe3c"/>
<polyline points="326.2,227.8 326.1,227.7 325.7,227.5 325.4,227.3 325,227.1 324.7,226.8 324.3,226.6 323.9,226.4 323.5,226.2 323.1,226 322.7,225.8 322.3,225.5 321.9,225.3 321.5,225.1 321.1,224.9 320.7,224.7 320.3,224.5 319.8,224.3 319.4,224.1 318.9,223.9 318.5,223.7 318,223.5 317.5,223.3 317.5,223.3" stroke="#f8d92c"/>
<polyline points="365.1,197.6 365.4,197.8 365.8,198 366.2,198.3 366.5,198.5 366.9,198.7 367.3,198.9 367.7,199.1 368.1,199.3 368.5,199.6 368.9,199.8 369.3,200 369.8,200.2 370.2,200.4 370.6,200.6 371.1,200.8 371.5,201 371.9,201.2" stroke="#f8d92c"/>
</g>
<line x1="342.7" y1="236.4" x2="402.8" y2="217.2" stroke="#6a6a6a" stroke-width="0.4"/>
<line x1="342.7" y1="236.4" x2="294" y2="211.1" stroke="#6a6a6a" stroke-width="0.4"/>
<line x1="294" y1="211.1" x2="294" y2="158.8" stroke="#6a6a6a" stroke-width="0.4"/>
<defs>
<linearGradient id="d39" href="#P" gradientUnits="userSpaceOnUse" x1="88.57" y1="277.24" x2="73.41" y2="229.78"/>
<linearGradient id="d38" href="#P" gradientUnits="userSpaceOnUse" x1="88.87" y1="278.17" x2="73.7" y2="230.71"/>
<linearGradient id="d37" href="#P" gradientUnits="userSpaceOnUse" x1="89.16" y1="279.09" x2="74" y2="231.64"/>
<linearGradient id="d36" href="#P" gradientUnits="userSpaceOnUse" x1="89.46" y1="280.02" x2="74.3" y2="232.56"/>
<linearGradient id="d35" href="#P" gradientUnits="userSpaceOnUse" x1="89.75" y1="280.95" x2="74.59" y2="233.49"/>
<linearGradient id="d34" href="#P" gradientUnits="userSpaceOnUse" x1="90.05" y1="281.87" x2="74.89" y2="234.42"/>
<linearGradient id="d33" href="#P" gradientUnits="userSpaceOnUse" x1="90.35" y1="282.8" x2="75.18" y2="235.34"/>
<linearGradient id="d32" href="#P" gradientUnits="userSpaceOnUse" x1="90.64" y1="283.73" x2="75.48" y2="236.27"/>
<linearGradient id="d31" href="#P" gradientUnits="userSpaceOnUse" x1="90.94" y1="284.65" x2="75.78" y2="237.2"/>
<linearGradient id="d30" href="#P" gradientUnits="userSpaceOnUse" x1="91.23" y1="285.58" x2="76.07" y2="238.12"/>
<linearGradient id="d29" href="#P" gradientUnits="userSpaceOnUse" x1="91.53" y1="286.51" x2="76.37" y2="239.05"/>
<linearGradient id="d28" href="#P" gradientUnits="userSpaceOnUse" x1="91.83" y1="287.43" x2="76.67" y2="239.98"/>
<linearGradient id="d27" href="#P" gradientUnits="userSpaceOnUse" x1="92.12" y1="288.36" x2="76.96" y2="240.9"/>
<linearGradient id="d26" href="#P" gradientUnits="userSpaceOnUse" x1="92.42" y1="289.29" x2="77.26" y2="241.83"/>
<linearGradient id="d25" href="#P" gradientUnits="userSpaceOnUse" x1="92.71" y1="290.22" x2="77.55" y2="242.76"/>
<linearGradient id="d24" href="#P" gradientUnits="userSpaceOnUse" x1="93.01" y1="291.14" x2="77.85" y2="243.69"/>
<linearGradient id="d23" href="#P" gradientUnits="userSpaceOnUse" x1="93.31" y1="292.07" x2="78.15" y2="244.61"/>
<linearGradient id="d22" href="#P" gradientUnits="userSpaceOnUse" x1="93.6" y1="293" x2="78.44" y2="245.54"/>
<linearGradient id="d21" href="#P" gradientUnits="userSpaceOnUse" x1="93.9" y1="293.92" x2="78.74" y2="246.47"/>
<linearGradient id="d20" href="#P" gradientUnits="userSpaceOnUse" x1="94.19" y1="294.85" x2="79.03" y2="247.39"/>
<linearGradient id="d19" href="#P" gradientUnits="userSpaceOnUse" x1="94.49" y1="295.78" x2="79.33" y2="248.32"/>
<linearGradient id="d18" href="#P" gradientUnits="userSpaceOnUse" x1="94.79" y1="296.7" x2="79.63" y2="249.25"/>
<linearGradient id="d17" href="#P" gradientUnits="userSpaceOnUse" x1="95.08" y1="297.63" x2="79.92" y2="250.17"/>
<linearGradient id="d16" href="#P" gradientUnits="userSpaceOnUse" x1="95.38" y1="298.56" x2="80.22" y2="251.1"/>
<linearGradient id="d15" href="#P" gradientUnits="userSpaceOnUse" x1="95.68" y1="299.48" x2="80.51" y2="252.03"/>
<linearGradient id="d14" href="#P" gradientUnits="userSpaceOnUse" x1="95.97" y1="300.41" x2="80.81" y2="252.95"/>
<linearGradient id="d13" href="#P" gradientUnits="userSpaceOnUse" x1="96.27" y1="301.34" x2="81.11" y2="253.88"/>
<linearGradient id="d12" href="#P" gradientUnits="userSpaceOnUse" x1="96.56" y1="302.26" x2="81.4" y2="254.81"/>
<linearGradient id="d11" href="#P" gradientUnits="userSpaceOnUse" x1="96.86" y1="303.19" x2="81.7" y2="255.73"/>
<linearGradient id="d10" href="#P" gradientUnits="userSpaceOnUse" x1="97.16" y1="304.12" x2="82" y2="256.66"/>
<linearGradient id="d9" href="#P" gradientUnits="userSpaceOnUse" x1="97.45" y1="305.04" x2="82.29" y2="257.59"/>
<linearGradient id="d8" href="#P" gradientUnits="userSpaceOnUse" x1="97.75" y1="305.97" x2="82.59" y2="258.52"/>
<linearGradient id="d7" href="#P" gradientUnits="userSpaceOnUse" x1="98.04" y1="306.9" x2="82.88" y2="259.44"/>
<linearGradient id="d6" href="#P" gradientUnits="userSpaceOnUse" x1="98.34" y1="307.83" x2="83.18" y2="260.37"/>
<linearGradient id="d5" href="#P" gradientUnits="userSpaceOnUse" x1="98.64" y1="308.75" x2="83.48" y2="261.3"/>
<linearGradient id="d4" href="#P" gradientUnits="userSpaceOnUse" x1="98.93" y1="309.68" x2="83.77" y2="262.22"/>
<linearGradient id="d3" href="#P" gradientUnits="userSpaceOnUse" x1="99.23" y1="310.61" x2="84.07" y2="263.15"/>
<linearGradient id="d2" href="#P" gradientUnits="userSpaceOnUse" x1="99.52" y1="311.53" x2="84.36" y2="264.08"/>
<linearGradient id="d1" href="#P" gradientUnits="userSpaceOnUse" x1="99.82" y1="312.46" x2="84.66" y2="265"/>
<linearGradient id="d0" href="#P" gradientUnits="userSpaceOnUse" x1="100.12" y1="313.39" x2="84.96" y2="265.93"/>
</defs>
<g>
<polygon fill="url(#d39)" points="296.4,211.4 299.4,209.4 301.9,208.3 304.4,207.7 310.5,207 313.5,206.3 324.5,202.5 334,200.2 338.5,198.9 346.5,196.3 349,195 350.5,193.5 351.5,192 352.5,189.9 353.5,186.9 355,180.1 356.5,169.2 354.1,175.6 352.6,183.8 351.1,188.7 349.6,191.6 348.6,192.7 347.1,193.8 344.6,194.9 335.1,197.9 331.6,198.5 324.6,199.1 321,199.8 317.5,201.1 311,204.3 308,205.4 305,205.9 300,205.9 298,206.1 296,206.7 294,207.9"/>
<polygon fill="url(#d38)" points="297.7,212.7 301.7,210.2 304.2,209.1 306.7,208.5 313.2,207.4 316.7,206.5 325.7,203.5 336.2,200.6 345.2,197.8 347.7,196.8 349.7,195.7 351.2,194.2 352.2,192.7 353.2,190.6 354.2,187.7 355.2,183.6 356.2,178 357.8,165.9 355.3,172.5 353.8,182.1 352.3,187.9 351.3,190.4 350.3,192.2 349.3,193.4 347.8,194.6 345.3,195.7 335.8,198.7 332.3,199.5 325.8,200.6 322.3,201.5 319.3,202.6 313.2,205.1 310.7,205.9 307.7,206.5 302.2,206.9 299.7,207.3 297.7,208.1 295.2,209.8"/>
<polygon fill="url(#d37)" points="298.9,213.5 300.4,212.9 304.4,210.7 306.9,209.7 317.9,207.2 337.4,201.3 347.5,198 349.5,197.1 351,196 352.5,194.3 353.5,192.5 354.5,190.1 355.5,186.7 356.5,182.1 357.5,175.9 359,162.5 356.5,169.2 355,180.1 353.5,186.9 352.5,189.9 351.5,192 350.5,193.5 349,195 346.5,196.3 338.5,198.9 334,200.2 324.5,202.5 313.5,206.3 310.5,207 304.4,207.7 301.9,208.3 299.4,209.4 296.4,211.4"/>
<polygon fill="url(#d36)" points="300.1,213.8 301.1,213.8 302.1,213.5 307.1,211.1 309.6,210.2 321.1,207.3 346.2,199.5 349.7,198.1 351.7,196.8 353.2,195 354.7,192.2 355.7,189.5 356.7,185.7 357.7,180.6 358.7,173.8 360.2,159.3 357.8,165.9 356.2,178 355.2,183.6 354.2,187.7 353.2,190.6 352.2,192.7 351.2,194.2 349.7,195.7 347.7,196.8 345.2,197.8 336.2,200.6 325.7,203.5 316.7,206.5 313.2,207.4 306.7,208.5 304.2,209.1 301.7,210.2 297.7,212.7"/>
<polygon fill="url(#d35)" points="301.3,213.5 301.8,213.8 302.8,214 304.3,213.9 311.8,210.8 323.8,207.6 347.4,200.1 350.4,198.9 352.4,197.5 353.9,195.9 355.4,193.2 356.9,188.9 357.9,184.7 358.9,179.2 359.9,171.8 361.4,156.3 359,162.5 357.5,175.9 356.5,182.1 355.5,186.7 354.5,190.1 353.5,192.5 352.5,194.3 351,196 349.5,197.1 347.5,198 337.4,201.3 317.9,207.2 306.9,209.7 304.4,210.7 300.4,212.9 298.9,213.5"/>
<polygon fill="url(#d34)" points="302.5,212.5 303.5,213.6 304.5,214.1 305.5,214.3 307,214 314.5,211.2 326.1,207.9 348.1,200.9 351.6,199.4 353.6,197.9 355.1,196 356.6,193 358.1,188.3 359.1,183.8 360.1,177.9 361.1,170.1 362.6,153.7 360.2,159.3 358.7,173.8 357.7,180.6 356.7,185.7 355.7,189.5 354.7,192.2 353.2,195 351.7,196.8 349.7,198.1 346.2,199.5 321.1,207.3 309.6,210.2 307.1,211.1 302.1,213.5 301.1,213.8 300.1,213.8"/>
<polygon fill="url(#d33)" points="303.7,211 304.7,212.8 305.2,213.4 306.2,214.1 307.7,214.5 309.2,214.3 316.8,211.6 328.8,208.1 348.8,201.7 352.3,200.2 354.3,198.7 355.8,196.9 357.3,194.2 358.8,189.8 359.8,185.7 360.8,180.2 361.8,173 362.8,163.6 363.8,151.6 361.4,156.3 359.9,171.8 358.9,179.2 357.9,184.7 356.9,188.9 355.4,193.2 353.9,195.9 352.4,197.5 350.4,198.9 347.4,200.1 323.8,207.6 311.8,210.8 304.3,213.9 302.8,214 301.8,213.8 301.3,213.5"/>
<polygon fill="url(#d32)" points="305,208.8 306,211.4 306.5,212.3 307.5,213.6 308.5,214.4 309.5,214.7 311.5,214.6 319.5,211.9 331,208.5 349.5,202.5 353,201 354.5,200 355.5,199.1 357,197.2 358.5,194.2 360,189.6 361.1,185.3 362.1,179.5 363.1,172.1 364.1,162.4 365.1,150 362.6,153.7 361.1,170.1 360.1,177.9 359.1,183.8 358.1,188.3 356.6,193 355.1,196 353.6,197.9 351.6,199.4 348.1,200.9 326.1,207.9 314.5,211.2 307,214 305.5,214.3 304.5,214.1 303.5,213.6 302.5,212.5"/>
<polygon fill="url(#d31)" points="306.2,206.2 307.7,210.9 309.2,213.5 310.2,214.4 311.2,214.9 312.2,215 313.2,215 315.2,214.5 321.7,212.3 350.2,203.3 353.8,201.9 355.3,200.9 356.3,200.1 357.3,199 358.3,197.5 359.8,194.4 361.3,189.6 362.3,185.1 363.3,179.2 364.3,171.5 365.3,161.7 366.3,149 363.8,151.6 362.8,163.6 361.8,173 360.8,180.2 359.8,185.7 358.8,189.8 357.3,194.2 355.8,196.9 354.3,198.7 352.3,200.2 348.8,201.7 328.8,208.1 316.8,211.6 309.2,214.3 307.7,214.5 306.2,214.1 305.2,213.4 304.7,212.8 303.7,211"/>
<polygon fill="url(#d30)" points="307.4,203 308.9,209 310.4,212.6 311.4,213.9 312.4,214.8 313.4,215.2 314.9,215.3 317.9,214.7 350.5,204.3 354.5,202.7 357,201 358,200 359,198.7 360.5,195.9 362,191.6 363.5,185.1 364.5,179.1 365.5,171.4 366.5,161.4 367.5,148.7 365.1,150 364.1,162.4 363.1,172.1 362.1,179.5 361.1,185.3 360,189.6 358.5,194.2 357,197.2 355.5,199.1 354.5,200 353,201 349.5,202.5 331,208.5 319.5,211.9 311.5,214.6 309.5,214.7 308.5,214.4 307.5,213.6 306.5,212.3 306,211.4 305,208.8"/>
<polygon fill="url(#d29)" points="308.6,199.6 310.1,206.9 311.1,210.2 312.1,212.4 313.1,213.9 314.1,214.9 315.1,215.4 316.6,215.6 318.1,215.5 320.1,215 350.7,205.2 355.2,203.5 357.7,202 359.7,199.9 361.2,197.4 362.7,193.6 364.2,187.9 365.7,179.5 366.7,171.7 367.7,161.8 368.7,149.1 366.3,149 365.3,161.7 364.3,171.5 363.3,179.2 362.3,185.1 361.3,189.6 359.8,194.4 358.3,197.5 357.3,199 356.3,200.1 355.3,200.9 353.8,201.9 350.2,203.3 321.7,212.3 315.2,214.5 313.2,215 312.2,215 311.2,214.9 310.2,214.4 309.2,213.5 307.7,210.9 306.2,206.2"/>
<polygon fill="url(#d28)" points="309.8,195.9 311.3,204.6 312.3,208.6 313.3,211.4 314.3,213.3 315.3,214.6 316.3,215.4 317.8,215.9 319.8,215.9 322.3,215.3 347.9,207.2 354.9,204.8 356.9,203.9 358.4,203 360.4,201.1 361.4,199.7 362.4,198 363.9,194.2 365.4,188.6 366.9,180.2 367.9,172.5 368.9,162.7 369.9,150.2 367.5,148.7 366.5,161.4 365.5,171.4 364.5,179.1 363.5,185.1 362,191.6 360.5,195.9 359,198.7 358,200 357,201 354.5,202.7 350.5,204.3 317.9,214.7 314.9,215.3 313.4,215.2 312.4,214.8 311.4,213.9 310.4,212.6 308.9,209 307.4,203"/>
<polygon fill="url(#d27)" points="311,192.1 312.5,202.2 313.5,206.8 314.6,210.2 315.6,212.6 316.6,214.2 318.1,215.7 319.6,216.3 320.6,216.4 322.1,216.2 325.6,215.3 353.6,206.3 356.6,205.2 359.1,203.9 360.6,202.8 361.6,201.7 362.6,200.4 363.6,198.7 365.1,195 366.6,189.4 368.1,181.2 369.1,173.7 370.1,164.1 371.1,152 368.7,149.1 367.7,161.8 366.7,171.7 365.7,179.5 364.2,187.9 362.7,193.6 361.2,197.4 359.7,199.9 357.7,202 355.2,203.5 350.7,205.2 320.1,215 318.1,215.5 316.6,215.6 315.1,215.4 314.1,214.9 313.1,213.9 312.1,212.4 311.1,210.2 310.1,206.9 308.6,199.6"/>
<polygon fill="url(#d26)" points="312.3,188.4 313.8,199.8 314.8,205.1 315.8,209 316.8,211.9 317.8,213.8 319.3,215.6 320.8,216.5 321.8,216.7 323.3,216.7 326.8,215.9 354.3,207.1 357.8,205.8 359.8,204.9 361.3,203.9 362.3,203 363.3,201.8 364.3,200.4 365.9,197.2 367.4,192.6 368.9,185.6 369.9,179.2 371.4,166.1 372.4,154.4 369.9,150.2 368.9,162.7 367.9,172.5 366.9,180.2 365.4,188.6 363.9,194.2 362.4,198 361.4,199.7 360.4,201.1 358.4,203 356.9,203.9 354.9,204.8 347.9,207.2 322.3,215.3 319.8,215.9 317.8,215.9 316.3,215.4 315.3,214.6 314.3,213.3 313.3,211.4 312.3,208.6 311.3,204.6 309.8,195.9"/>
<polygon fill="url(#d25)" points="313.5,184.8 315,197.5 316,203.4 317,207.9 318,211.1 319,213.4 320.5,215.6 322,216.7 323,217.1 324.5,217.2 326,217 328,216.5 354,208.3 359.6,206.3 361.1,205.5 362.6,204.6 364.1,203.2 365.1,202 366.1,200.3 367.1,198.2 368.6,193.8 370.1,187.2 371.1,181.1 372.6,168.6 373.6,157.4 371.1,152 370.1,164.1 369.1,173.7 368.1,181.2 366.6,189.4 365.1,195 363.6,198.7 362.6,200.4 361.6,201.7 360.6,202.8 359.1,203.9 356.6,205.2 353.6,206.3 325.6,215.3 322.1,216.2 320.6,216.4 319.6,216.3 318.1,215.7 316.6,214.2 315.6,212.6 314.6,210.2 313.5,206.8 312.5,202.2 311,192.1"/>
<polygon fill="url(#d24)" points="314.7,181.5 316.2,195.4 317.2,201.9 318.2,206.8 319.2,210.5 320.2,213.1 321.7,215.6 323.2,217 324.2,217.4 325.7,217.7 327.2,217.6 329.2,217.1 357.8,208.1 362.3,206.2 363.8,205.3 365.3,204 366.3,202.8 367.3,201.3 368.3,199.4 369.3,196.8 370.8,191.3 372.3,183.3 373.8,171.6 374.8,161 372.4,154.4 371.4,166.1 369.9,179.2 368.9,185.6 367.4,192.6 365.9,197.2 364.3,200.4 363.3,201.8 362.3,203 361.3,203.9 359.8,204.9 357.8,205.8 354.3,207.1 326.8,215.9 323.3,216.7 321.8,216.7 320.8,216.5 319.3,215.6 317.8,213.8 316.8,211.9 315.8,209 314.8,205.1 313.8,199.8 312.3,188.4"/>
<polygon fill="url(#d23)" points="315.9,178.6 316.9,189.2 318.4,200.6 319.4,206 320.9,211.5 322.4,214.9 323.4,216.3 324.4,217.3 325.4,217.8 326.9,218.1 328.4,218.1 329.9,217.8 335.4,216.2 361,208 363.5,206.9 365,206 366.5,204.8 367.5,203.8 369,201.5 370.5,198.2 371.5,195.1 372.5,191 373.5,185.7 374.5,178.9 376,165 373.6,157.4 372.6,168.6 371.1,181.1 370.1,187.2 368.6,193.8 367.1,198.2 366.1,200.3 365.1,202 364.1,203.2 362.6,204.6 361.1,205.5 359.6,206.3 354,208.3 328,216.5 326,217 324.5,217.2 323,217.1 322,216.7 320.5,215.6 319,213.4 318,211.1 317,207.9 316,203.4 315,197.5 313.5,184.8"/>
<polygon fill="url(#d22)" points="317.1,176.3 318.1,187.5 319.6,199.6 320.6,205.4 322.1,211.4 323.6,215 324.6,216.6 325.6,217.6 326.6,218.2 327.6,218.6 328.7,218.7 330.2,218.6 332.2,218.2 335.2,217.3 361.7,208.8 365.7,207.1 367.2,206.1 368.7,204.7 370.2,202.7 371.7,199.7 372.7,196.8 373.7,193.2 374.7,188.3 375.7,182.1 377.2,169.3 374.8,161 373.8,171.6 372.3,183.3 370.8,191.3 369.3,196.8 368.3,199.4 367.3,201.3 366.3,202.8 365.3,204 363.8,205.3 362.3,206.2 357.8,208.1 329.2,217.1 327.2,217.6 325.7,217.7 324.2,217.4 323.2,217 321.7,215.6 320.2,213.1 319.2,210.5 318.2,206.8 317.2,201.9 316.2,195.4 314.7,181.5"/>
<polygon fill="url(#d21)" points="318.4,174.5 319.4,186.2 320.4,195.3 321.4,202.2 322.9,209.6 324.4,214.2 325.9,216.9 326.9,218 327.9,218.7 328.9,219.1 330.4,219.3 332.4,219.1 335.9,218.1 362.4,209.6 366.9,207.8 368.4,206.9 369.9,205.7 371.4,203.9 372.9,201.2 373.9,198.7 374.9,195.4 375.9,191.1 376.9,185.4 378.5,173.8 376,165 374.5,178.9 373.5,185.7 372.5,191 371.5,195.1 370.5,198.2 369,201.5 367.5,203.8 366.5,204.8 365,206 363.5,206.9 361,208 335.4,216.2 329.9,217.8 328.4,218.1 326.9,218.1 325.4,217.8 324.4,217.3 323.4,216.3 322.4,214.9 320.9,211.5 319.4,206 318.4,200.6 316.9,189.2 315.9,178.6"/>
<polygon fill="url(#d20)" points="319.6,173.4 320.6,185.5 321.6,194.9 322.6,202.1 324.1,209.7 325.6,214.5 327.1,217.4 328.1,218.6 329.1,219.3 330.1,219.7 331.1,219.9 333.6,219.7 336.6,218.9 361.1,211.1 367.6,208.7 369.7,207.7 371.2,206.6 372.7,205 374.2,202.7 375.2,200.5 376.2,197.6 377.2,193.8 378.2,188.8 379.7,178.4 377.2,169.3 375.7,182.1 374.7,188.3 373.7,193.2 372.7,196.8 371.7,199.7 370.2,202.7 368.7,204.7 367.2,206.1 365.7,207.1 361.7,208.8 335.2,217.3 332.2,218.2 330.2,218.6 328.7,218.7 327.6,218.6 326.6,218.2 325.6,217.6 324.6,216.6 323.6,215 322.1,211.4 320.6,205.4 319.6,199.6 318.1,187.5 317.1,176.3"/>
<polygon fill="url(#d19)" points="320.8,173 321.8,185.4 322.8,195 323.8,202.4 325.3,210.2 326.8,215.1 328.3,218 329.8,219.6 330.8,220.2 331.8,220.4 333.3,220.5 335.3,220.2 342.3,218.1 366.9,210.1 370.4,208.7 372.4,207.5 373.9,206.1 375.4,204.1 376.4,202.3 377.4,199.8 378.4,196.5 379.4,192.1 380.9,183 378.5,173.8 376.9,185.4 375.9,191.1 374.9,195.4 373.9,198.7 372.9,201.2 371.4,203.9 369.9,205.7 368.4,206.9 366.9,207.8 362.4,209.6 335.9,218.1 332.4,219.1 330.4,219.3 328.9,219.1 327.9,218.7 326.9,218 325.9,216.9 324.4,214.2 322.9,209.6 321.4,202.2 320.4,195.3 319.4,186.2 318.4,174.5"/>
<polygon fill="url(#d18)" points="322,173.4 323,185.9 324,195.6 325,203 326,208.6 327.5,214.4 329,217.9 330.5,219.9 331.5,220.6 332.5,221 334,221.2 335.5,221.1 340.5,219.7 358.1,214.1 367.6,210.9 371.6,209.4 374.1,208 375.6,206.7 376.6,205.5 377.6,203.9 378.6,201.8 379.6,199 380.6,195.3 382.1,187.5 379.7,178.4 378.2,188.8 377.2,193.8 376.2,197.6 375.2,200.5 374.2,202.7 372.7,205 371.2,206.6 369.7,207.7 367.6,208.7 361.1,211.1 336.6,218.9 333.6,219.7 331.1,219.9 330.1,219.7 329.1,219.3 328.1,218.6 327.1,217.4 325.6,214.5 324.1,209.7 322.6,202.1 321.6,194.9 320.6,185.5 319.6,173.4"/>
<polygon fill="url(#d17)" points="323.2,174.5 324.2,187 325.2,196.7 326.2,204.1 327.2,209.6 328.7,215.3 330.2,218.8 331.7,220.7 332.7,221.4 333.7,221.8 335.2,221.9 336.7,221.7 341.2,220.5 364.3,213.1 372.3,210.2 375.3,208.8 376.8,207.7 377.8,206.7 378.8,205.4 379.8,203.7 380.8,201.4 381.8,198.3 383.3,191.7 380.9,183 379.4,192.1 378.4,196.5 377.4,199.8 376.4,202.3 375.4,204.1 373.9,206.1 372.4,207.5 370.4,208.7 366.9,210.1 342.3,218.1 335.3,220.2 333.3,220.5 331.8,220.4 330.8,220.2 329.8,219.6 328.3,218 326.8,215.1 325.3,210.2 323.8,202.4 322.8,195 321.8,185.4 320.8,173"/>
<polygon fill="url(#d16)" points="324.4,176.3 325.4,188.7 326.4,198.2 327.4,205.5 328.4,210.9 329.4,214.9 330.9,218.9 332.5,221.1 333.5,221.9 334.5,222.4 335.5,222.6 337,222.6 341,221.6 363.5,214.4 373,211 376.5,209.5 378,208.6 379.5,207.3 380.5,206.1 381.5,204.5 383,201 384.5,195.5 382.1,187.5 380.6,195.3 379.6,199 378.6,201.8 377.6,203.9 376.6,205.5 375.6,206.7 374.1,208 371.6,209.4 367.6,210.9 358.1,214.1 340.5,219.7 335.5,221.1 334,221.2 332.5,221 331.5,220.6 330.5,219.9 329,217.9 327.5,214.4 326,208.6 325,203 324,195.6 323,185.9 322,173.4"/>
<polygon fill="url(#d15)" points="325.7,178.8 326.7,190.9 327.7,200.2 328.7,207.3 329.7,212.5 330.7,216.3 332.2,220 333.7,222.1 335.2,223.1 336.2,223.3 337.7,223.3 341.7,222.4 364.2,215.2 374.7,211.3 378.2,209.8 380.7,208.3 381.7,207.3 382.8,206.1 384.3,203.3 385.8,198.9 383.3,191.7 381.8,198.3 380.8,201.4 379.8,203.7 378.8,205.4 377.8,206.7 376.8,207.7 375.3,208.8 372.3,210.2 364.3,213.1 341.2,220.5 336.7,221.7 335.2,221.9 333.7,221.8 332.7,221.4 331.7,220.7 330.2,218.8 328.7,215.3 327.2,209.6 326.2,204.1 325.2,196.7 324.2,187 323.2,174.5"/>
<polygon fill="url(#d14)" points="326.9,182 327.9,193.7 328.9,202.6 329.9,209.3 330.9,214.3 331.9,217.8 333.4,221.3 334.9,223.1 336.4,223.9 337.4,224.1 338.9,224.1 342.9,223.1 365.9,215.6 379.5,210.4 382,209.1 384,207.4 385.5,205.2 387,201.8 384.5,195.5 383,201 381.5,204.5 380.5,206.1 379.5,207.3 378,208.6 376.5,209.5 373,211 363.5,214.4 341,221.6 337,222.6 335.5,222.6 334.5,222.4 333.5,221.9 332.5,221.1 330.9,218.9 329.4,214.9 328.4,210.9 327.4,205.5 326.4,198.2 325.4,188.7 324.4,176.3"/>
<polygon fill="url(#d13)" points="328.1,185.7 329.6,201.4 330.6,208.7 331.6,214.1 332.6,218 334.1,221.8 335.6,223.8 337.1,224.7 338.1,224.9 339.1,224.9 342.1,224.3 365.7,216.8 371.7,214.6 381.7,210.4 384.2,209.1 386.2,207.3 387.2,206 388.2,204.1 385.8,198.9 384.3,203.3 382.8,206.1 381.7,207.3 380.7,208.3 378.2,209.8 374.7,211.3 364.2,215.2 341.7,222.4 337.7,223.3 336.2,223.3 335.2,223.1 333.7,222.1 332.2,220 330.7,216.3 329.7,212.5 328.7,207.3 327.7,200.2 326.7,190.9 325.7,178.8"/>
<polygon fill="url(#d12)" points="329.3,189.8 330.8,204.6 331.8,211.4 332.8,216.4 333.8,219.9 335.3,223.2 336.8,224.9 338.3,225.6 340.3,225.7 342.8,225.1 367.4,217.3 371.4,215.9 385.4,209.6 386.9,208.7 387.9,207.8 389.4,205.9 387,201.8 385.5,205.2 384,207.4 382,209.1 379.5,210.4 365.9,215.6 342.9,223.1 338.9,224.1 337.4,224.1 336.4,223.9 334.9,223.1 333.4,221.3 331.9,217.8 330.9,214.3 329.9,209.3 328.9,202.6 327.9,193.7 326.9,182"/>
<polygon fill="url(#d11)" points="330.5,194.3 332,208 333,214.2 334,218.7 335,221.8 336,223.9 337.5,225.7 339,226.5 341,226.5 343.5,225.9 372.6,216.6 376.6,214.8 387.6,209.5 389.1,208.6 390.6,207.2 388.2,204.1 387.2,206 386.2,207.3 384.2,209.1 381.7,210.4 371.7,214.6 365.7,216.8 342.1,224.3 339.1,224.9 338.1,224.9 337.1,224.7 335.6,223.8 334.1,221.8 332.6,218 331.6,214.1 330.6,208.7 329.6,201.4 328.1,185.7"/>
<polygon fill="url(#d10)" points="331.7,199 333.2,211.5 334.2,217.1 335.2,221 336.2,223.7 337.3,225.5 337.8,226.1 338.8,226.9 340.3,227.4 341.8,227.3 344.3,226.7 353.3,223.8 362.8,220.5 374.3,217.1 378.8,215.1 385.3,211.5 389.8,209.3 391.8,208 389.4,205.9 387.9,207.8 386.9,208.7 385.4,209.6 371.4,215.9 367.4,217.3 342.8,225.1 340.3,225.7 338.3,225.6 336.8,224.9 335.3,223.2 333.8,219.9 332.8,216.4 331.8,211.4 330.8,204.6 329.3,189.8"/>
<polygon fill="url(#d9)" points="333,203.9 334.5,215.1 335.5,219.9 336.5,223.3 337.5,225.6 338.5,227 339.5,227.8 341,228.3 342.5,228.2 344.5,227.7 354,224.6 364.5,220.7 374,218.2 377,217.2 380.5,215.5 387.6,211.3 393.1,208.4 390.6,207.2 389.1,208.6 387.6,209.5 376.6,214.8 372.6,216.6 343.5,225.9 341,226.5 339,226.5 337.5,225.7 336,223.9 335,221.8 334,218.7 333,214.2 332,208 330.5,194.3"/>
<polygon fill="url(#d8)" points="334.2,208.7 335.7,218.5 337.2,224.3 338.2,226.5 339.2,228 340.2,228.7 341.7,229.1 344.2,228.8 353.2,225.9 356.7,224.6 363.7,221.6 366.7,220.6 369.7,219.8 376.2,218.4 379.3,217.5 382.8,215.8 390.3,210.7 394.3,208.5 391.8,208 389.8,209.3 385.3,211.5 378.8,215.1 374.3,217.1 362.8,220.5 353.3,223.8 344.3,226.7 341.8,227.3 340.3,227.4 338.8,226.9 337.8,226.1 337.3,225.5 336.2,223.7 335.2,221 334.2,217.1 333.2,211.5 331.7,199"/>
<polygon fill="url(#d7)" points="335.4,213.4 336.9,221.8 337.4,223.7 338.4,226.6 339.4,228.4 340.4,229.4 341.4,229.9 342.9,230 345.4,229.4 354.9,226.3 357.9,225 364.4,221.8 367.9,220.4 371.5,219.6 378.5,218.7 382,217.6 385.5,215.7 392.5,210.4 395.5,208.5 393.1,208.4 387.6,211.3 380.5,215.5 377,217.2 374,218.2 364.5,220.7 354,224.6 344.5,227.7 342.5,228.2 341,228.3 339.5,227.8 338.5,227 337.5,225.6 336.5,223.3 335.5,219.9 334.5,215.1 333,203.9"/>
<polygon fill="url(#d6)" points="336.6,217.8 338.1,224.9 338.6,226.4 339.6,228.7 340.1,229.4 341.1,230.4 342.1,230.8 343.6,230.8 345.6,230.4 353.1,227.9 355.6,227 359.2,225.2 366.2,221.1 369.7,219.7 373.2,219 380.7,218.8 382.7,218.5 384.2,218 386.2,217 388.2,215.6 394.2,210.3 396.7,208.4 394.3,208.5 390.3,210.7 382.8,215.8 379.3,217.5 376.2,218.4 369.7,219.8 366.7,220.6 363.7,221.6 356.7,224.6 353.2,225.9 344.2,228.8 341.7,229.1 340.2,228.7 339.2,228 338.2,226.5 337.2,224.3 335.7,218.5 334.2,208.7"/>
<polygon fill="url(#d5)" points="337.8,222 338.3,224.3 339.3,227.7 339.8,228.9 340.8,230.5 341.3,231 342.3,231.6 343.3,231.8 344.8,231.6 353.4,228.9 356.4,227.6 359.9,225.5 367.4,220.2 369.4,219.1 370.9,218.5 372.9,218 374.9,217.9 376.9,218 381.4,218.8 383.4,218.8 385.4,218.6 386.9,218.1 388.9,217 390.9,215.4 397.9,208.5 395.5,208.5 392.5,210.4 385.5,215.7 382,217.6 378.5,218.7 371.5,219.6 367.9,220.4 364.4,221.8 357.9,225 354.9,226.3 345.4,229.4 342.9,230 341.4,229.9 340.4,229.4 339.4,228.4 338.4,226.6 337.4,223.7 336.9,221.8 335.4,213.4"/>
<polygon fill="url(#d4)" points="339,225.7 340,229 340.6,230.1 341.6,231.6 342.1,232.1 343.1,232.6 344.1,232.7 345.6,232.4 353.6,229.8 357.1,228.2 360.6,225.7 366.6,220.1 368.6,218.4 370.6,217.1 372.6,216.2 374.6,215.8 377.1,216 379.1,216.6 383.6,218.3 385.6,218.8 387.6,218.8 389.6,218.2 391.1,217.3 393.1,215.7 399.1,208.8 396.7,208.4 394.2,210.3 388.2,215.6 386.2,217 384.2,218 382.7,218.5 380.7,218.8 373.2,219 369.7,219.7 366.2,221.1 359.2,225.2 355.6,227 353.1,227.9 345.6,230.4 343.6,230.8 342.1,230.8 341.1,230.4 340.1,229.4 339.6,228.7 338.6,226.4 338.1,224.9 336.6,217.8"/>
<polygon fill="url(#d3)" points="340.3,228.9 340.8,230.3 341.8,232.2 342.8,233.2 343.3,233.4 344.3,233.6 346.3,233.2 353.3,230.9 355.3,230.1 357.8,228.6 360.3,226.5 362.8,223.8 367.8,217.6 370.3,215 372.8,213.2 374.8,212.5 376.8,212.4 378.8,213 380.8,214.1 385.8,217.6 387.8,218.5 389.8,218.9 391.4,218.7 393.4,217.7 395.4,216 397.4,213.6 400.4,209.5 397.9,208.5 390.9,215.4 388.9,217 386.9,218.1 385.4,218.6 383.4,218.8 381.4,218.8 376.9,218 374.9,217.9 372.9,218 370.9,218.5 369.4,219.1 367.4,220.2 359.9,225.5 356.4,227.6 353.4,228.9 344.8,231.6 343.3,231.8 342.3,231.6 341.3,231 340.8,230.5 339.8,228.9 339.3,227.7 338.3,224.3 337.8,222"/>
<polygon fill="url(#d2)" points="341.5,231.7 342,232.7 343,233.9 344,234.4 345,234.5 346.5,234.2 354,231.7 355.5,231 357,230.1 359.5,228 362,224.9 364,221.9 368.5,214.7 371,211.1 373.5,208.5 375.5,207.4 376.5,207.2 377.5,207.2 378.5,207.4 380,208.2 382.6,210.3 387.1,215.3 389.1,217.2 391.1,218.5 392.6,219 393.6,218.9 394.6,218.7 395.6,218.1 396.6,217.4 398.6,215.1 401.6,210.7 399.1,208.8 393.1,215.7 391.1,217.3 389.6,218.2 387.6,218.8 385.6,218.8 383.6,218.3 379.1,216.6 377.1,216 374.6,215.8 372.6,216.2 370.6,217.1 368.6,218.4 366.6,220.1 360.6,225.7 357.1,228.2 353.6,229.8 345.6,232.4 344.1,232.7 343.1,232.6 342.1,232.1 341.6,231.6 340.6,230.1 340,229 339,225.7"/>
<polygon fill="url(#d1)" points="342.7,234 343.2,234.6 344.2,235.3 345.2,235.4 346.2,235.2 354.7,232.4 356.7,231.3 358.7,229.5 360.7,227 363.2,222.9 369.7,209.3 372.2,204.7 373.8,202.5 374.8,201.3 375.8,200.5 376.8,199.9 377.8,199.6 379.3,199.7 380.8,200.6 382.3,202 384.8,205.4 390.8,215.1 392.8,217.5 394.3,218.6 395.3,219 396.3,219 397.3,218.8 398.3,218.2 400.3,216.1 402.8,212.3 400.4,209.5 397.4,213.6 395.4,216 393.4,217.7 391.4,218.7 389.8,218.9 387.8,218.5 385.8,217.6 380.8,214.1 378.8,213 376.8,212.4 374.8,212.5 372.8,213.2 370.3,215 367.8,217.6 362.8,223.8 360.3,226.5 357.8,228.6 355.3,230.1 353.3,230.9 346.3,233.2 344.3,233.6 343.3,233.4 342.8,233.2 341.8,232.2 340.8,230.3 340.3,228.9"/>
<polygon fill="url(#d0)" points="342.7,234 343.2,234.6 344.2,235.3 345.2,235.4 346.2,235.2 354.7,232.4 356.7,231.3 358.7,229.5 360.7,227 363.2,222.9 369.7,209.3 372.2,204.7 373.8,202.5 374.8,201.3 375.8,200.5 376.8,199.9 377.8,199.6 379.3,199.7 380.8,200.6 382.3,202 384.8,205.4 390.8,215.1 392.8,217.5 394.3,218.6 395.3,219 396.3,219 397.3,218.8 398.3,218.2 400.3,216.1 402.8,212.3 401.6,210.7 398.6,215.1 396.6,217.4 395.6,218.1 394.6,218.7 393.6,218.9 392.6,219 391.1,218.5 389.1,217.2 387.1,215.3 382.6,210.3 380,208.2 378.5,207.4 377.5,207.2 376.5,207.2 375.5,207.4 373.5,208.5 371,211.1 368.5,214.7 364,221.9 362,224.9 359.5,228 357,230.1 355.5,231 354,231.7 346.5,234.2 345,234.5 344,234.4 343,233.9 342,232.7 341.5,231.7"/>
</g>
<text x="74.6" y="9.9" font-size="4.75" text-anchor="middle" fill="#333">Parameter space</text>
<text x="12.3" y="24.1" font-size="4.4" fill="#3a3a3a">×10<tspan dy="-1.8" font-size="3.3">5</tspan></text>
<text x="19.3" y="32.8" font-size="4.6" text-anchor="end" fill="#3a3a3a">5</text>
<text x="19.3" y="42.6" font-size="4.6" text-anchor="end" fill="#3a3a3a">4</text>
<text x="19.3" y="52.4" font-size="4.6" text-anchor="end" fill="#3a3a3a">3</text>
<text x="19.3" y="62.2" font-size="4.6" text-anchor="end" fill="#3a3a3a">2</text>
<text x="19.3" y="71.8" font-size="4.6" text-anchor="end" fill="#3a3a3a">1</text>
<text x="19.3" y="81.2" font-size="4.6" text-anchor="end" fill="#3a3a3a">0</text>
<text x="18" y="85.6" font-size="4.6" text-anchor="middle" fill="#3a3a3a">5</text>
<text x="40.6" y="97.2" font-size="4.6" text-anchor="middle" fill="#3a3a3a">0</text>
<text x="59.7" y="111.6" font-size="4.6" text-anchor="middle" fill="#3a3a3a">−5</text>
<text x="76" y="111.6" font-size="4.6" text-anchor="middle" fill="#3a3a3a">−5</text>
<text x="101.3" y="100.4" font-size="4.6" text-anchor="middle" fill="#3a3a3a">0</text>
<text x="131" y="91.3" font-size="4.6" text-anchor="middle" fill="#3a3a3a">5</text>
<text transform="translate(11.2,55) rotate(-90)" font-size="4.8" text-anchor="middle" fill="#3a3a3a">F15( x<tspan dy="1" font-size="3.3">1</tspan><tspan dy="-1"> , x</tspan><tspan dy="1" font-size="3.3">2</tspan><tspan dy="-1"> )</tspan></text>
<text x="43" y="109.8" font-size="4.8" text-anchor="middle" fill="#3a3a3a">x<tspan dy="1.2" font-size="3.3">2</tspan></text>
<text x="95" y="112.2" font-size="4.8" text-anchor="middle" fill="#3a3a3a">x<tspan dy="1.2" font-size="3.3">1</tspan></text>
<text x="349.6" y="9.9" font-size="4.75" text-anchor="middle" fill="#333">Parameter space</text>
<text x="294" y="32" font-size="4.6" text-anchor="end" fill="#3a3a3a">3</text>
<text x="294" y="42" font-size="4.6" text-anchor="end" fill="#3a3a3a">2</text>
<text x="294" y="51.9" font-size="4.6" text-anchor="end" fill="#3a3a3a">1</text>
<text x="294" y="61.8" font-size="4.6" text-anchor="end" fill="#3a3a3a">0</text>
<text x="294" y="71.3" font-size="4.6" text-anchor="end" fill="#3a3a3a">−1</text>
<text x="294" y="79.1" font-size="4.6" text-anchor="end" fill="#3a3a3a">−2</text>
<text x="292" y="84.9" font-size="4.6" text-anchor="middle" fill="#3a3a3a">1</text>
<text x="315" y="97.2" font-size="4.6" text-anchor="middle" fill="#3a3a3a">0</text>
<text x="334" y="110.2" font-size="4.6" text-anchor="middle" fill="#3a3a3a">−1</text>
<text x="346.4" y="110.2" font-size="4.6" text-anchor="middle" fill="#3a3a3a">−1</text>
<text x="363.2" y="105.3" font-size="4.6" text-anchor="middle" fill="#3a3a3a">−0.5</text>
<text x="375.4" y="100.8" font-size="4.6" text-anchor="middle" fill="#3a3a3a">0</text>
<text x="391.5" y="96.1" font-size="4.6" text-anchor="middle" fill="#3a3a3a">0.5</text>
<text x="405" y="91.3" font-size="4.6" text-anchor="middle" fill="#3a3a3a">1</text>
<text transform="translate(286,55) rotate(-90)" font-size="4.8" text-anchor="middle" fill="#3a3a3a">F16( x<tspan dy="1" font-size="3.3">1</tspan><tspan dy="-1"> , x</tspan><tspan dy="1" font-size="3.3">2</tspan><tspan dy="-1"> )</tspan></text>
<text x="318" y="109.8" font-size="4.8" text-anchor="middle" fill="#3a3a3a">x<tspan dy="1.2" font-size="3.3">2</tspan></text>
<text x="372" y="111.2" font-size="4.8" text-anchor="middle" fill="#3a3a3a">x<tspan dy="1.2" font-size="3.3">1</tspan></text>
<text x="78" y="139.4" font-size="4.75" text-anchor="middle" fill="#333">Parameter space</text>
<text x="22" y="160.1" font-size="4.6" text-anchor="end" fill="#3a3a3a">500</text>
<text x="22" y="170.4" font-size="4.6" text-anchor="end" fill="#3a3a3a">400</text>
<text x="22" y="180.8" font-size="4.6" text-anchor="end" fill="#3a3a3a">300</text>
<text x="22" y="191.1" font-size="4.6" text-anchor="end" fill="#3a3a3a">200</text>
<text x="22" y="201.5" font-size="4.6" text-anchor="end" fill="#3a3a3a">100</text>
<text x="22" y="211.8" font-size="4.6" text-anchor="end" fill="#3a3a3a">0</text>
<text x="20.3" y="217.1" font-size="4.6" text-anchor="middle" fill="#3a3a3a">5</text>
<text x="43.4" y="229.6" font-size="4.6" text-anchor="middle" fill="#3a3a3a">0</text>
<text x="64.8" y="241.6" font-size="4.6" text-anchor="middle" fill="#3a3a3a">−5</text>
<text x="78" y="241.6" font-size="4.6" text-anchor="middle" fill="#3a3a3a">−5</text>
<text x="105.2" y="232.6" font-size="4.6" text-anchor="middle" fill="#3a3a3a">0</text>
<text x="135.4" y="223.2" font-size="4.6" text-anchor="middle" fill="#3a3a3a">5</text>
<text transform="translate(10,187) rotate(-90)" font-size="4.8" text-anchor="middle" fill="#3a3a3a">F17( x<tspan dy="1" font-size="3.3">1</tspan><tspan dy="-1"> , x</tspan><tspan dy="1" font-size="3.3">2</tspan><tspan dy="-1"> )</tspan></text>
<text x="46" y="242.2" font-size="4.8" text-anchor="middle" fill="#3a3a3a">x<tspan dy="1.2" font-size="3.3">2</tspan></text>
<text x="98.6" y="243.5" font-size="4.8" text-anchor="middle" fill="#3a3a3a">x<tspan dy="1.2" font-size="3.3">1</tspan></text>
<text x="349.6" y="139" font-size="4.75" text-anchor="middle" fill="#333">Parameter space</text>
<text x="282.5" y="151.2" font-size="4.4" fill="#3a3a3a">×10<tspan dy="-1.8" font-size="3.3">8</tspan></text>
<text x="291.3" y="165.6" font-size="4.6" text-anchor="end" fill="#3a3a3a">2.5</text>
<text x="291.3" y="175.1" font-size="4.6" text-anchor="end" fill="#3a3a3a">2</text>
<text x="291.3" y="184.6" font-size="4.6" text-anchor="end" fill="#3a3a3a">1.5</text>
<text x="291.3" y="193.9" font-size="4.6" text-anchor="end" fill="#3a3a3a">1</text>
<text x="291.3" y="203.3" font-size="4.6" text-anchor="end" fill="#3a3a3a">0.5</text>
<text x="291.3" y="212.4" font-size="4.6" text-anchor="end" fill="#3a3a3a">0</text>
<text x="294.2" y="219.9" font-size="4.6" text-anchor="middle" fill="#3a3a3a">4</text>
<text x="303.3" y="225.2" font-size="4.6" text-anchor="middle" fill="#3a3a3a">2</text>
<text x="313" y="230.1" font-size="4.6" text-anchor="middle" fill="#3a3a3a">0</text>
<text x="321" y="235" font-size="4.6" text-anchor="middle" fill="#3a3a3a">−2</text>
<text x="329.5" y="241.6" font-size="4.6" text-anchor="middle" fill="#3a3a3a">−4</text>
<text x="352.4" y="242.4" font-size="4.6" text-anchor="middle" fill="#3a3a3a">−4</text>
<text x="367.5" y="238.3" font-size="4.6" text-anchor="middle" fill="#3a3a3a">−2</text>
<text x="376.8" y="233.8" font-size="4.6" text-anchor="middle" fill="#3a3a3a">0</text>
<text x="389.2" y="230.1" font-size="4.6" text-anchor="middle" fill="#3a3a3a">2</text>
<text x="401.6" y="226.2" font-size="4.6" text-anchor="middle" fill="#3a3a3a">4</text>
<text transform="translate(280.5,187) rotate(-90)" font-size="4.8" text-anchor="middle" fill="#3a3a3a">F18( x<tspan dy="1" font-size="3.3">1</tspan><tspan dy="-1"> , x</tspan><tspan dy="1" font-size="3.3">2</tspan><tspan dy="-1"> )</tspan></text>
<text x="315.7" y="243.7" font-size="4.8" text-anchor="middle" fill="#3a3a3a">x<tspan dy="1.2" font-size="3.3">2</tspan></text>
<text x="370" y="244.9" font-size="4.8" text-anchor="middle" fill="#3a3a3a">x<tspan dy="1.2" font-size="3.3">1</tspan></text>
<clipPath id="ca"><rect x="164" y="10.5" width="102.6" height="89.7"/></clipPath>
<line x1="164.6" y1="96.38" x2="266" y2="96.38" stroke="#e4e4e4" stroke-width=".3"/>
<line x1="164.6" y1="93.41" x2="266" y2="93.41" stroke="#e4e4e4" stroke-width=".3"/>
<line x1="164.6" y1="90.99" x2="266" y2="90.99" stroke="#e4e4e4" stroke-width=".3"/>
<line x1="164.6" y1="88.94" x2="266" y2="88.94" stroke="#e4e4e4" stroke-width=".3"/>
<line x1="164.6" y1="87.17" x2="266" y2="87.17" stroke="#e4e4e4" stroke-width=".3"/>
<line x1="164.6" y1="85.6" x2="266" y2="85.6" stroke="#e4e4e4" stroke-width=".3"/>
<line x1="164.6" y1="74.99" x2="266" y2="74.99" stroke="#e4e4e4" stroke-width=".3"/>
<line x1="164.6" y1="69.6" x2="266" y2="69.6" stroke="#e4e4e4" stroke-width=".3"/>
<line x1="164.6" y1="65.78" x2="266" y2="65.78" stroke="#e4e4e4" stroke-width=".3"/>
<line x1="164.6" y1="62.81" x2="266" y2="62.81" stroke="#e4e4e4" stroke-width=".3"/>
<line x1="164.6" y1="60.39" x2="266" y2="60.39" stroke="#e4e4e4" stroke-width=".3"/>
<line x1="164.6" y1="58.34" x2="266" y2="58.34" stroke="#e4e4e4" stroke-width=".3"/>
<line x1="164.6" y1="56.57" x2="266" y2="56.57" stroke="#e4e4e4" stroke-width=".3"/>
<line x1="164.6" y1="55" x2="266" y2="55" stroke="#e4e4e4" stroke-width=".3"/>
<line x1="164.6" y1="44.39" x2="266" y2="44.39" stroke="#e4e4e4" stroke-width=".3"/>
<line x1="164.6" y1="39" x2="266" y2="39" stroke="#e4e4e4" stroke-width=".3"/>
<line x1="164.6" y1="35.18" x2="266" y2="35.18" stroke="#e4e4e4" stroke-width=".3"/>
<line x1="164.6" y1="32.21" x2="266" y2="32.21" stroke="#e4e4e4" stroke-width=".3"/>
<line x1="164.6" y1="29.79" x2="266" y2="29.79" stroke="#e4e4e4" stroke-width=".3"/>
<line x1="164.6" y1="27.74" x2="266" y2="27.74" stroke="#e4e4e4" stroke-width=".3"/>
<line x1="164.6" y1="25.97" x2="266" y2="25.97" stroke="#e4e4e4" stroke-width=".3"/>
<line x1="164.6" y1="24.4" x2="266" y2="24.4" stroke="#e4e4e4" stroke-width=".3"/>
<line x1="164.6" y1="13.79" x2="266" y2="13.79" stroke="#e4e4e4" stroke-width=".3"/>
<line x1="165.5" y1="10.5" x2="165.5" y2="99.5" stroke="#dcdcdc" stroke-width=".4"/>
<line x1="186" y1="10.5" x2="186" y2="99.5" stroke="#dcdcdc" stroke-width=".4"/>
<line x1="206.6" y1="10.5" x2="206.6" y2="99.5" stroke="#dcdcdc" stroke-width=".4"/>
<line x1="227.1" y1="10.5" x2="227.1" y2="99.5" stroke="#dcdcdc" stroke-width=".4"/>
<line x1="247.7" y1="10.5" x2="247.7" y2="99.5" stroke="#dcdcdc" stroke-width=".4"/>
<line x1="164.6" y1="23" x2="266" y2="23" stroke="#dcdcdc" stroke-width=".4"/>
<line x1="164.6" y1="53.6" x2="266" y2="53.6" stroke="#dcdcdc" stroke-width=".4"/>
<line x1="164.6" y1="84.2" x2="266" y2="84.2" stroke="#dcdcdc" stroke-width=".4"/>
<rect x="164.6" y="10.5" width="101.4" height="89" fill="none" stroke="#9c9c9c" stroke-width=".4"/>
<text x="165.5" y="106.5" font-size="4.6" text-anchor="middle" fill="#3a3a3a">0</text>
<text x="186" y="106.5" font-size="4.6" text-anchor="middle" fill="#3a3a3a">100</text>
<text x="206.6" y="106.5" font-size="4.6" text-anchor="middle" fill="#3a3a3a">200</text>
<text x="227.1" y="106.5" font-size="4.6" text-anchor="middle" fill="#3a3a3a">300</text>
<text x="247.7" y="106.5" font-size="4.6" text-anchor="middle" fill="#3a3a3a">400</text>
<text x="163.4" y="25.5" font-size="4.6" text-anchor="end" fill="#3a3a3a">10<tspan dy="-1.8" font-size="3.4">-1</tspan></text>
<text x="163.4" y="56.1" font-size="4.6" text-anchor="end" fill="#3a3a3a">10<tspan dy="-1.8" font-size="3.4">-2</tspan></text>
<text x="163.4" y="86.7" font-size="4.6" text-anchor="end" fill="#3a3a3a">10<tspan dy="-1.8" font-size="3.4">-3</tspan></text>
<text x="216" y="112.5" font-size="4.5" text-anchor="middle" fill="#3a3a3a">iteration</text>
<text transform="translate(150.7,56) rotate(-90)" font-size="4.5" text-anchor="middle" fill="#3a3a3a">fitness</text>
<g clip-path="url(#ca)" fill="none" stroke-width=".9" stroke-linejoin="round" filter="url(#bl)">
<polyline points="165.6,21.5 166.2,30 166.3,66 167,70 168,80 170,83.3 171,86.3 173,88.3 176,89.7 184,90.3 190,90.4 198,91 200,91 201.5,93.4 205,93.8 206,95 210,95 211.5,97.6 215,97.9 217.5,98.3 225,98.4 235,98.5 240,98.7 257,98.9 266,99.2" stroke="#ff0000"/>
<polyline points="165.9,30 166,41.5 166.6,42.5 185,42.7 200,43 208,43.2 209.5,44 230,44.1 266,44.3" stroke="#0000ff"/>
<polyline points="165.6,30 165.7,78 167,88.3 169,95.4 171,98 174,98.8 266,99" stroke="#ffff00"/>
<polyline points="165.9,5 166.2,26 166.4,56 167.1,56.5 167.7,62 168.4,66 169,70 170.5,78 172,84.3 175,87 180,87.3 266,87.5" stroke="#000000"/>
<polyline points="165.4,26 165.6,90.3 166.5,95.4 168,98.4 170,99 266,99.1" stroke="#00ff00"/>
</g>
<rect x="236.8" y="13.7" width="26.9" height="27.6" fill="#fff" stroke="#858585" stroke-width=".45"/>
<line x1="238.3" y1="17.6" x2="250.5" y2="17.6" stroke="#ff0000" stroke-width="1.35" stroke-opacity=".72"/>
<text x="252.3" y="19" font-size="3.9" text-anchor="start" fill="#3c3c3c">GWO</text>
<line x1="238.3" y1="22.6" x2="250.5" y2="22.6" stroke="#0000ff" stroke-width="1.35" stroke-opacity=".72"/>
<text x="252.3" y="24" font-size="3.9" text-anchor="start" fill="#3c3c3c">PSO</text>
<line x1="238.3" y1="27.7" x2="250.5" y2="27.7" stroke="#ffff00" stroke-width="1.35" stroke-opacity=".72"/>
<text x="252.3" y="29.1" font-size="3.9" text-anchor="start" fill="#3c3c3c">SSA</text>
<line x1="238.3" y1="32.8" x2="250.5" y2="32.8" stroke="#000000" stroke-width="1.35" stroke-opacity=".72"/>
<text x="252.3" y="34.2" font-size="3.9" text-anchor="start" fill="#3c3c3c">MFO</text>
<line x1="238.3" y1="38" x2="250.5" y2="38" stroke="#00ff00" stroke-width="1.35" stroke-opacity=".72"/>
<text x="252.3" y="39.4" font-size="3.9" text-anchor="start" fill="#3c3c3c">ISSA</text>
<clipPath id="cb"><rect x="430.6" y="11.2" width="110.2" height="94.3"/></clipPath>
<line x1="431.2" y1="99.92" x2="540.2" y2="99.92" stroke="#e4e4e4" stroke-width=".3"/>
<line x1="431.2" y1="95.31" x2="540.2" y2="95.31" stroke="#e4e4e4" stroke-width=".3"/>
<line x1="431.2" y1="91.42" x2="540.2" y2="91.42" stroke="#e4e4e4" stroke-width=".3"/>
<line x1="431.2" y1="88.04" x2="540.2" y2="88.04" stroke="#e4e4e4" stroke-width=".3"/>
<line x1="431.2" y1="85.06" x2="540.2" y2="85.06" stroke="#e4e4e4" stroke-width=".3"/>
<line x1="431.2" y1="64.88" x2="540.2" y2="64.88" stroke="#e4e4e4" stroke-width=".3"/>
<line x1="431.2" y1="54.63" x2="540.2" y2="54.63" stroke="#e4e4e4" stroke-width=".3"/>
<line x1="431.2" y1="47.36" x2="540.2" y2="47.36" stroke="#e4e4e4" stroke-width=".3"/>
<line x1="431.2" y1="41.72" x2="540.2" y2="41.72" stroke="#e4e4e4" stroke-width=".3"/>
<line x1="431.2" y1="37.11" x2="540.2" y2="37.11" stroke="#e4e4e4" stroke-width=".3"/>
<line x1="431.2" y1="33.22" x2="540.2" y2="33.22" stroke="#e4e4e4" stroke-width=".3"/>
<line x1="431.2" y1="29.84" x2="540.2" y2="29.84" stroke="#e4e4e4" stroke-width=".3"/>
<line x1="431.2" y1="26.86" x2="540.2" y2="26.86" stroke="#e4e4e4" stroke-width=".3"/>
<line x1="452.6" y1="11.2" x2="452.6" y2="104.8" stroke="#dcdcdc" stroke-width=".4"/>
<line x1="474.1" y1="11.2" x2="474.1" y2="104.8" stroke="#dcdcdc" stroke-width=".4"/>
<line x1="495.7" y1="11.2" x2="495.7" y2="104.8" stroke="#dcdcdc" stroke-width=".4"/>
<line x1="517.4" y1="11.2" x2="517.4" y2="104.8" stroke="#dcdcdc" stroke-width=".4"/>
<line x1="539.1" y1="11.2" x2="539.1" y2="104.8" stroke="#dcdcdc" stroke-width=".4"/>
<line x1="431.2" y1="24.2" x2="540.2" y2="24.2" stroke="#dcdcdc" stroke-width=".4"/>
<line x1="431.2" y1="82.4" x2="540.2" y2="82.4" stroke="#dcdcdc" stroke-width=".4"/>
<rect x="431.2" y="11.2" width="109" height="93.6" fill="none" stroke="#9c9c9c" stroke-width=".4"/>
<text x="452.6" y="111.8" font-size="4.6" text-anchor="middle" fill="#3a3a3a">100</text>
<text x="474.1" y="111.8" font-size="4.6" text-anchor="middle" fill="#3a3a3a">200</text>
<text x="495.7" y="111.8" font-size="4.6" text-anchor="middle" fill="#3a3a3a">300</text>
<text x="517.4" y="111.8" font-size="4.6" text-anchor="middle" fill="#3a3a3a">400</text>
<text x="539.1" y="111.8" font-size="4.6" text-anchor="middle" fill="#3a3a3a">500</text>
<text x="430" y="26.7" font-size="4.6" text-anchor="end" fill="#3a3a3a">10<tspan dy="-1.8" font-size="3.4">0</tspan></text>
<text x="430" y="84.9" font-size="4.6" text-anchor="end" fill="#3a3a3a">10<tspan dy="-1.8" font-size="3.4">-1</tspan></text>
<text x="485.5" y="117.5" font-size="4.5" text-anchor="middle" fill="#3a3a3a">iteration</text>
<text transform="translate(419.5,57.5) rotate(-90)" font-size="4.5" text-anchor="middle" fill="#3a3a3a">fitness</text>
<g clip-path="url(#cb)" fill="none" stroke-width=".9" stroke-linejoin="round" filter="url(#bl)">
<polyline points="431.5,5 431.5,110" stroke="#4a4a4a" stroke-width="1.3"/>
<polyline points="431.4,25 431.4,42.4" stroke="#00ff00" stroke-width="1.1"/>
</g>
<rect x="508.8" y="13.7" width="26.5" height="29.2" fill="#fff" stroke="#858585" stroke-width=".45"/>
<line x1="510.3" y1="18" x2="522.5" y2="18" stroke="#ff0000" stroke-width="1.35" stroke-opacity=".72"/>
<text x="524.3" y="19.4" font-size="3.9" text-anchor="start" fill="#3c3c3c">GWO</text>
<line x1="510.3" y1="23.2" x2="522.5" y2="23.2" stroke="#0000ff" stroke-width="1.35" stroke-opacity=".72"/>
<text x="524.3" y="24.6" font-size="3.9" text-anchor="start" fill="#3c3c3c">PSO</text>
<line x1="510.3" y1="28.5" x2="522.5" y2="28.5" stroke="#ffff00" stroke-width="1.35" stroke-opacity=".72"/>
<text x="524.3" y="29.9" font-size="3.9" text-anchor="start" fill="#3c3c3c">SSA</text>
<line x1="510.3" y1="33.9" x2="522.5" y2="33.9" stroke="#000000" stroke-width="1.35" stroke-opacity=".72"/>
<text x="524.3" y="35.3" font-size="3.9" text-anchor="start" fill="#3c3c3c">MFO</text>
<line x1="510.3" y1="39.3" x2="522.5" y2="39.3" stroke="#00ff00" stroke-width="1.35" stroke-opacity=".72"/>
<text x="524.3" y="40.7" font-size="3.9" text-anchor="start" fill="#3c3c3c">ISSA</text>
<clipPath id="cc"><rect x="158.2" y="138.4" width="108" height="92.2"/></clipPath>
<line x1="158.8" y1="229.78" x2="265.6" y2="229.78" stroke="#e4e4e4" stroke-width=".3"/>
<line x1="158.8" y1="212.75" x2="265.6" y2="212.75" stroke="#e4e4e4" stroke-width=".3"/>
<line x1="158.8" y1="206.28" x2="265.6" y2="206.28" stroke="#e4e4e4" stroke-width=".3"/>
<line x1="158.8" y1="200.67" x2="265.6" y2="200.67" stroke="#e4e4e4" stroke-width=".3"/>
<line x1="158.8" y1="195.72" x2="265.6" y2="195.72" stroke="#e4e4e4" stroke-width=".3"/>
<line x1="180.1" y1="138.4" x2="180.1" y2="229.9" stroke="#dcdcdc" stroke-width=".4"/>
<line x1="201.5" y1="138.4" x2="201.5" y2="229.9" stroke="#dcdcdc" stroke-width=".4"/>
<line x1="222.8" y1="138.4" x2="222.8" y2="229.9" stroke="#dcdcdc" stroke-width=".4"/>
<line x1="244.2" y1="138.4" x2="244.2" y2="229.9" stroke="#dcdcdc" stroke-width=".4"/>
<line x1="158.8" y1="145.16" x2="265.6" y2="145.16" stroke="#dcdcdc" stroke-width=".4"/>
<line x1="158.8" y1="152.82" x2="265.6" y2="152.82" stroke="#dcdcdc" stroke-width=".4"/>
<line x1="158.8" y1="162.19" x2="265.6" y2="162.19" stroke="#dcdcdc" stroke-width=".4"/>
<line x1="158.8" y1="174.27" x2="265.6" y2="174.27" stroke="#dcdcdc" stroke-width=".4"/>
<line x1="158.8" y1="191.3" x2="265.6" y2="191.3" stroke="#dcdcdc" stroke-width=".4"/>
<line x1="158.8" y1="220.41" x2="265.6" y2="220.41" stroke="#dcdcdc" stroke-width=".4"/>
<rect x="158.8" y="138.4" width="106.8" height="91.5" fill="none" stroke="#9c9c9c" stroke-width=".4"/>
<text x="180.1" y="236.9" font-size="4.6" text-anchor="middle" fill="#3a3a3a">100</text>
<text x="201.5" y="236.9" font-size="4.6" text-anchor="middle" fill="#3a3a3a">200</text>
<text x="222.8" y="236.9" font-size="4.6" text-anchor="middle" fill="#3a3a3a">300</text>
<text x="244.2" y="236.9" font-size="4.6" text-anchor="middle" fill="#3a3a3a">400</text>
<text x="265.5" y="236.9" font-size="4.6" text-anchor="middle" fill="#3a3a3a">500</text>
<text x="157" y="146.81" font-size="4.6" text-anchor="end" fill="#3a3a3a">3</text>
<text x="157" y="154.47" font-size="4.6" text-anchor="end" fill="#3a3a3a">2.5</text>
<text x="157" y="163.84" font-size="4.6" text-anchor="end" fill="#3a3a3a">2</text>
<text x="157" y="175.92" font-size="4.6" text-anchor="end" fill="#3a3a3a">1.5</text>
<text x="157" y="192.95" font-size="4.6" text-anchor="end" fill="#3a3a3a">1</text>
<text x="157" y="222.06" font-size="4.6" text-anchor="end" fill="#3a3a3a">0.5</text>
<text x="212.3" y="242.5" font-size="4.5" text-anchor="middle" fill="#3a3a3a">iteration</text>
<text transform="translate(148.8,188) rotate(-90)" font-size="4.5" text-anchor="middle" fill="#3a3a3a">fitness</text>
<g clip-path="url(#cc)" fill="none" stroke-width=".9" stroke-linejoin="round" filter="url(#bl)">
<polyline points="159.3,130 159.3,161" stroke="#000000" stroke-width="1.2"/>
<polyline points="159.3,161 159.3,171.3" stroke="#ff0000" stroke-width="1.2"/>
<polyline points="159.3,171.3 159.3,180" stroke="#0000ff" stroke-width="1.2"/>
<polyline points="159.3,180 159.3,184.5" stroke="#00ff00" stroke-width="1.2"/>
<polyline points="159.3,184.5 159.4,207" stroke="#4a3218" stroke-width="1.3"/>
<polyline points="159.6,206 160.4,207.5 161.4,221.3 162.7,226.8 164.3,229 178.6,229.2 180,229.5" stroke="#ff0000" stroke-width="0.9"/>
<polyline points="159.2,208 159.2,211.4 160,226.8 162,229.3" stroke="#0000ff" stroke-width="0.9"/>
<polyline points="159.6,206.6 162,207 162.7,220 163.6,227.9 165,229.4" stroke="#000000" stroke-width="0.9"/>
<polyline points="159.1,211 159.1,229.5 266,229.5" stroke="#00ff00" stroke-width="1.2"/>
</g>
<rect x="236.2" y="140.9" width="25.4" height="28.1" fill="#fff" stroke="#858585" stroke-width=".45"/>
<line x1="237.6" y1="145" x2="249.8" y2="145" stroke="#ff0000" stroke-width="1.35" stroke-opacity=".72"/>
<text x="251.3" y="146.4" font-size="3.9" text-anchor="start" fill="#3c3c3c">GWO</text>
<line x1="237.6" y1="150.2" x2="249.8" y2="150.2" stroke="#0000ff" stroke-width="1.35" stroke-opacity=".72"/>
<text x="251.3" y="151.6" font-size="3.9" text-anchor="start" fill="#3c3c3c">PSO</text>
<line x1="237.6" y1="155.5" x2="249.8" y2="155.5" stroke="#ffff00" stroke-width="1.35" stroke-opacity=".72"/>
<text x="251.3" y="156.9" font-size="3.9" text-anchor="start" fill="#3c3c3c">SSA</text>
<line x1="237.6" y1="160.8" x2="249.8" y2="160.8" stroke="#000000" stroke-width="1.35" stroke-opacity=".72"/>
<text x="251.3" y="162.2" font-size="3.9" text-anchor="start" fill="#3c3c3c">MFO</text>
<line x1="237.6" y1="165.9" x2="249.8" y2="165.9" stroke="#00ff00" stroke-width="1.35" stroke-opacity=".72"/>
<text x="251.3" y="167.3" font-size="3.9" text-anchor="start" fill="#3c3c3c">ISSA</text>
<clipPath id="cd"><rect x="428.8" y="139.3" width="112.6" height="98.7"/></clipPath>
<line x1="429.4" y1="228.42" x2="540.8" y2="228.42" stroke="#e4e4e4" stroke-width=".3"/>
<line x1="429.4" y1="223.4" x2="540.8" y2="223.4" stroke="#e4e4e4" stroke-width=".3"/>
<line x1="429.4" y1="218.53" x2="540.8" y2="218.53" stroke="#e4e4e4" stroke-width=".3"/>
<line x1="429.4" y1="213.81" x2="540.8" y2="213.81" stroke="#e4e4e4" stroke-width=".3"/>
<line x1="429.4" y1="204.78" x2="540.8" y2="204.78" stroke="#e4e4e4" stroke-width=".3"/>
<line x1="429.4" y1="200.45" x2="540.8" y2="200.45" stroke="#e4e4e4" stroke-width=".3"/>
<line x1="429.4" y1="196.23" x2="540.8" y2="196.23" stroke="#e4e4e4" stroke-width=".3"/>
<line x1="429.4" y1="192.12" x2="540.8" y2="192.12" stroke="#e4e4e4" stroke-width=".3"/>
<line x1="429.4" y1="184.22" x2="540.8" y2="184.22" stroke="#e4e4e4" stroke-width=".3"/>
<line x1="429.4" y1="180.41" x2="540.8" y2="180.41" stroke="#e4e4e4" stroke-width=".3"/>
<line x1="429.4" y1="176.69" x2="540.8" y2="176.69" stroke="#e4e4e4" stroke-width=".3"/>
<line x1="429.4" y1="173.06" x2="540.8" y2="173.06" stroke="#e4e4e4" stroke-width=".3"/>
<line x1="429.4" y1="166.03" x2="540.8" y2="166.03" stroke="#e4e4e4" stroke-width=".3"/>
<line x1="429.4" y1="162.63" x2="540.8" y2="162.63" stroke="#e4e4e4" stroke-width=".3"/>
<line x1="429.4" y1="159.3" x2="540.8" y2="159.3" stroke="#e4e4e4" stroke-width=".3"/>
<line x1="429.4" y1="156.04" x2="540.8" y2="156.04" stroke="#e4e4e4" stroke-width=".3"/>
<line x1="429.4" y1="149.72" x2="540.8" y2="149.72" stroke="#e4e4e4" stroke-width=".3"/>
<line x1="429.4" y1="146.65" x2="540.8" y2="146.65" stroke="#e4e4e4" stroke-width=".3"/>
<line x1="429.4" y1="143.64" x2="540.8" y2="143.64" stroke="#e4e4e4" stroke-width=".3"/>
<line x1="433.6" y1="139.3" x2="433.6" y2="237.3" stroke="#dcdcdc" stroke-width=".4"/>
<line x1="448.7" y1="139.3" x2="448.7" y2="237.3" stroke="#dcdcdc" stroke-width=".4"/>
<line x1="463.7" y1="139.3" x2="463.7" y2="237.3" stroke="#dcdcdc" stroke-width=".4"/>
<line x1="478.8" y1="139.3" x2="478.8" y2="237.3" stroke="#dcdcdc" stroke-width=".4"/>
<line x1="493.9" y1="139.3" x2="493.9" y2="237.3" stroke="#dcdcdc" stroke-width=".4"/>
<line x1="508.9" y1="139.3" x2="508.9" y2="237.3" stroke="#dcdcdc" stroke-width=".4"/>
<line x1="524" y1="139.3" x2="524" y2="237.3" stroke="#dcdcdc" stroke-width=".4"/>
<line x1="539" y1="139.3" x2="539" y2="237.3" stroke="#dcdcdc" stroke-width=".4"/>
<line x1="429.4" y1="152.85" x2="540.8" y2="152.85" stroke="#dcdcdc" stroke-width=".4"/>
<line x1="429.4" y1="169.5" x2="540.8" y2="169.5" stroke="#dcdcdc" stroke-width=".4"/>
<line x1="429.4" y1="188.12" x2="540.8" y2="188.12" stroke="#dcdcdc" stroke-width=".4"/>
<line x1="429.4" y1="209.23" x2="540.8" y2="209.23" stroke="#dcdcdc" stroke-width=".4"/>
<line x1="429.4" y1="233.6" x2="540.8" y2="233.6" stroke="#dcdcdc" stroke-width=".4"/>
<rect x="429.4" y="139.3" width="111.4" height="98" fill="none" stroke="#9c9c9c" stroke-width=".4"/>
<text x="433.6" y="244.3" font-size="4.6" text-anchor="middle" fill="#3a3a3a">0</text>
<text x="448.7" y="244.3" font-size="4.6" text-anchor="middle" fill="#3a3a3a">10</text>
<text x="463.7" y="244.3" font-size="4.6" text-anchor="middle" fill="#3a3a3a">20</text>
<text x="478.8" y="244.3" font-size="4.6" text-anchor="middle" fill="#3a3a3a">30</text>
<text x="493.9" y="244.3" font-size="4.6" text-anchor="middle" fill="#3a3a3a">40</text>
<text x="508.9" y="244.3" font-size="4.6" text-anchor="middle" fill="#3a3a3a">50</text>
<text x="524" y="244.3" font-size="4.6" text-anchor="middle" fill="#3a3a3a">60</text>
<text x="539" y="244.3" font-size="4.6" text-anchor="middle" fill="#3a3a3a">70</text>
<text x="427.6" y="154.5" font-size="4.6" text-anchor="end" fill="#3a3a3a">5</text>
<text x="427.6" y="171.15" font-size="4.6" text-anchor="end" fill="#3a3a3a">4.5</text>
<text x="427.6" y="189.77" font-size="4.6" text-anchor="end" fill="#3a3a3a">4</text>
<text x="427.6" y="210.88" font-size="4.6" text-anchor="end" fill="#3a3a3a">3.5</text>
<text x="427.6" y="235.25" font-size="4.6" text-anchor="end" fill="#3a3a3a">3</text>
<text x="485" y="249.5" font-size="4.5" text-anchor="middle" fill="#3a3a3a">iteration</text>
<text transform="translate(419,188) rotate(-90)" font-size="4.5" text-anchor="middle" fill="#3a3a3a">fitness</text>
<g clip-path="url(#cd)" fill="none" stroke-width=".9" stroke-linejoin="round" filter="url(#bl)">
<polyline points="438.1,130 438.1,183 442.7,183 443.8,184.5 444.3,190 445.2,227.9 445.6,229 453.6,229 454.5,233.2 541,233.5" stroke="#ff0000"/>
<polyline points="434.9,192 436,210.3 438.6,211 440.4,212.5 441.5,218 444.3,219 445.2,230 446,232.1 541,232.3" stroke="#0000ff"/>
<polyline points="438,130 438.6,185 439.5,212 440.4,215.8 442.6,229 443.5,233.2 541,233.5" stroke="#ffff00"/>
<polyline points="449.2,130 449.3,187.4 454.3,187.6 455.2,190 456.2,210.3 459.7,210.5 460.8,231 461.6,233.3 541,233.5" stroke="#000000"/>
<polyline points="436.7,130 437.1,185 438.2,210.3 440.8,212.5 442.1,232.3 443,233.5 541,233.5" stroke="#00ff00"/>
</g>
<rect x="509.5" y="141.7" width="27.5" height="30.8" fill="#fff" stroke="#858585" stroke-width=".45"/>
<line x1="511" y1="146.7" x2="523.3" y2="146.7" stroke="#ff0000" stroke-width="1.35" stroke-opacity=".72"/>
<text x="525" y="148.1" font-size="3.9" text-anchor="start" fill="#3c3c3c">GWO</text>
<line x1="511" y1="152.3" x2="523.3" y2="152.3" stroke="#0000ff" stroke-width="1.35" stroke-opacity=".72"/>
<text x="525" y="153.7" font-size="3.9" text-anchor="start" fill="#3c3c3c">PSO</text>
<line x1="511" y1="158" x2="523.3" y2="158" stroke="#ffff00" stroke-width="1.35" stroke-opacity=".72"/>
<text x="525" y="159.4" font-size="3.9" text-anchor="start" fill="#3c3c3c">SSA</text>
<line x1="511" y1="163.5" x2="523.3" y2="163.5" stroke="#000000" stroke-width="1.35" stroke-opacity=".72"/>
<text x="525" y="164.9" font-size="3.9" text-anchor="start" fill="#3c3c3c">MFO</text>
<line x1="511" y1="169" x2="523.3" y2="169" stroke="#00ff00" stroke-width="1.35" stroke-opacity=".72"/>
<text x="525" y="170.4" font-size="3.9" text-anchor="start" fill="#3c3c3c">ISSA</text>
<text class="cap" x="141.7" y="126.9" text-anchor="middle">(a) F15 convergence curve</text>
<text class="cap" x="415" y="128.3" text-anchor="middle">(b) F16 convergence curve</text>
<text class="cap" x="141.5" y="262.3" text-anchor="middle">(c) F17 convergence curve</text>
<text class="cap" x="420.1" y="264.7" text-anchor="middle">(d) F18 convergence curve</text>
</svg></body></html>
